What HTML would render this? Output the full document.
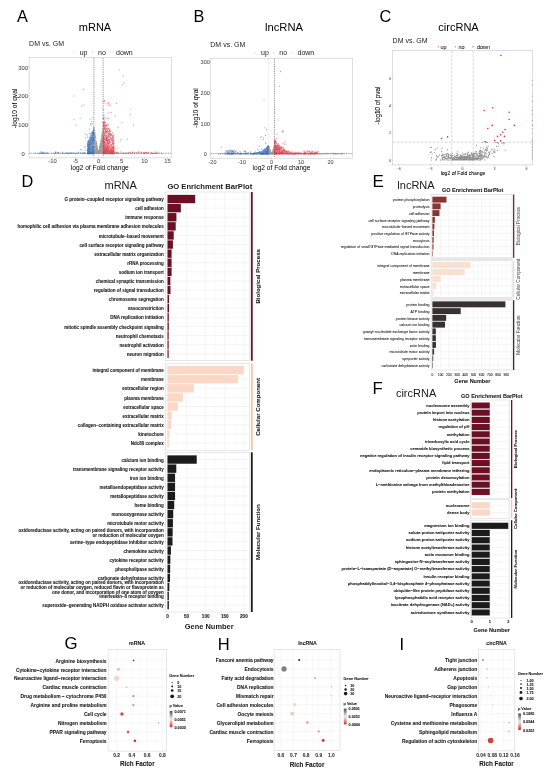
<!DOCTYPE html>
<html><head><meta charset="utf-8"><title>Figure</title><style>html,body{margin:0;padding:0;background:#fff;}svg{display:block;}</style></head><body>
<svg width="550" height="776" viewBox="0 0 550 776" font-family="&quot;Liberation Sans&quot;, Arial, sans-serif">
<rect x="0.00" y="0.00" width="550.00" height="776.00" fill="#fff"/>
<text x="16.90" y="22.07" font-size="16.30">A</text>
<text x="95.00" y="30.76" font-size="11.00" text-anchor="middle" fill="#000">mRNA</text>
<text x="29.10" y="46.02" font-size="7.00" text-anchor="start" fill="#222">DM vs. GM</text>
<circle cx="74.20" cy="52.00" r="0.50" fill="#bbb"/>
<text x="79.70" y="54.52" font-size="7.00" text-anchor="start" fill="#222">up</text>
<circle cx="92.50" cy="52.00" r="0.50" fill="#bbb"/>
<text x="98.00" y="54.52" font-size="7.00" text-anchor="start" fill="#222">no</text>
<circle cx="110.50" cy="52.00" r="0.50" fill="#bbb"/>
<text x="116.00" y="54.52" font-size="7.00" text-anchor="start" fill="#222">down</text>
<rect x="29.10" y="57.50" width="142.20" height="100.40" fill="#fff" stroke="#c8c8c8" stroke-width="0.6"/>
<line x1="93.90" y1="58.00" x2="93.90" y2="157.40" stroke="#6a6a6a" stroke-width="0.8" stroke-dasharray="0.9 0.9"/>
<line x1="103.10" y1="58.00" x2="103.10" y2="157.40" stroke="#6a6a6a" stroke-width="0.8" stroke-dasharray="0.9 0.9"/>
<line x1="29.60" y1="153.22" x2="170.80" y2="153.22" stroke="#6a6a6a" stroke-width="0.8" stroke-dasharray="0.9 0.9"/>
<path d="M99.7 147.0h0M93.6 131.1h0M96.1 147.1h0M99.7 146.4h0M93.9 139.5h0M98.5 153.6h0M97.2 153.6h0M98.6 153.1h0M98.6 153.2h0M96.7 152.0h0M99.5 149.6h0M97.5 153.0h0M102.2 138.9h0M99.2 153.0h0M102.3 139.0h0M93.9 129.6h0M93.8 143.4h0M97.8 151.4h0M97.1 149.2h0M93.6 132.9h0M93.7 136.4h0M95.5 147.1h0M96.9 151.0h0M98.7 152.5h0M97.6 148.8h0M96.0 141.7h0M96.8 149.7h0M101.9 151.3h0M96.6 142.6h0M94.1 142.9h0M102.6 134.0h0M93.8 153.0h0M93.9 137.5h0M102.9 139.6h0M99.2 153.4h0M96.9 150.6h0M102.1 136.5h0M99.2 150.8h0M101.7 138.2h0M95.1 153.1h0M97.3 151.8h0M94.9 139.2h0M95.7 149.4h0M99.3 152.2h0M94.8 151.8h0M99.7 152.3h0M94.5 136.2h0M94.2 140.2h0M101.0 140.4h0M100.7 140.6h0M99.9 152.1h0M97.3 150.6h0M99.0 151.5h0M94.9 137.3h0M102.7 150.5h0M99.2 151.6h0M101.2 152.5h0M100.7 147.7h0M96.0 147.7h0M94.8 149.7h0M96.2 146.3h0M97.5 148.7h0M103.3 127.8h0M98.5 153.5h0M95.9 146.3h0M100.6 143.1h0M101.0 151.1h0M95.1 143.1h0M96.3 143.2h0M97.7 150.1h0M99.0 151.2h0M98.2 152.8h0M99.1 151.5h0M99.0 153.4h0M95.5 145.5h0M98.2 152.3h0M99.1 152.2h0M98.5 153.5h0M98.0 151.4h0M99.1 151.3h0M96.4 150.0h0M97.2 149.2h0M102.3 142.4h0M98.4 153.5h0M101.2 146.3h0M100.6 144.2h0M94.2 135.9h0M96.1 146.8h0M96.4 149.8h0M100.6 151.2h0M102.7 137.1h0M96.1 147.3h0M94.9 150.6h0M95.4 150.5h0M96.2 142.8h0M101.6 150.6h0M100.1 147.8h0M94.7 146.4h0M99.6 149.2h0M96.9 148.6h0M102.0 137.9h0M96.6 148.4h0M102.0 145.2h0M101.5 141.4h0M100.5 152.0h0M99.0 151.1h0M96.6 146.6h0M99.8 147.6h0M93.8 127.2h0M98.2 152.0h0M95.7 149.1h0M100.9 140.6h0M94.8 133.9h0M102.1 134.8h0M94.3 146.9h0M96.7 153.2h0M103.0 138.0h0M99.4 149.4h0M95.2 141.3h0M97.5 152.0h0M94.6 134.6h0M102.0 134.8h0M102.7 151.8h0M97.9 153.1h0M101.6 147.9h0M98.1 151.9h0M94.1 147.9h0M96.3 153.2h0M101.0 147.5h0M96.0 151.6h0M100.6 147.6h0M102.5 151.1h0M102.7 138.4h0M100.9 144.1h0M101.3 138.6h0M102.9 143.8h0M98.2 152.8h0M101.0 145.1h0M96.3 149.6h0M95.4 151.6h0M93.9 142.5h0M99.4 152.8h0M96.1 150.7h0M103.0 152.5h0M96.8 153.6h0M96.8 152.9h0M100.6 153.5h0M94.5 145.9h0M99.8 152.8h0M94.4 134.1h0M96.1 145.3h0M93.7 129.2h0M101.3 145.9h0M96.0 140.5h0M97.9 152.9h0M96.7 150.6h0M103.4 137.7h0M103.0 128.2h0M99.7 148.2h0M100.5 151.3h0M97.8 150.8h0M97.3 150.1h0M103.1 140.2h0M96.4 144.5h0M101.6 143.7h0M99.7 152.9h0M101.5 150.4h0M99.7 149.8h0M94.8 136.0h0M94.9 149.5h0M100.1 150.8h0M100.7 149.6h0M100.2 152.6h0M103.1 153.2h0M99.4 151.9h0M94.9 142.0h0M98.6 153.5h0M103.4 133.9h0M99.9 147.7h0M96.4 141.9h0M103.0 152.8h0M94.0 139.0h0M101.7 135.7h0M103.1 150.4h0M96.4 142.4h0M95.0 142.9h0M94.1 138.1h0M102.2 140.7h0M100.6 151.1h0M102.8 153.3h0M98.6 153.1h0M102.3 140.1h0M99.4 148.7h0M100.5 147.8h0M94.8 135.3h0M94.4 134.4h0M94.8 134.1h0M97.6 150.1h0M98.4 153.1h0M96.1 145.8h0M94.4 136.1h0M96.1 153.6h0M100.5 142.6h0M97.1 152.8h0M99.1 151.8h0M97.1 151.0h0M102.4 139.8h0M98.5 153.6h0M94.0 147.2h0M102.9 149.1h0M100.8 148.7h0M101.2 150.7h0M100.4 149.2h0M98.4 153.5h0M101.8 136.7h0M99.0 152.2h0M100.1 145.8h0M96.2 146.5h0M101.6 141.4h0M99.3 150.8h0M100.9 148.3h0M102.4 152.3h0M96.7 148.5h0M97.3 148.9h0M93.7 139.9h0M102.4 145.3h0M94.7 145.5h0M100.6 141.1h0M97.8 152.5h0M101.7 134.8h0M99.9 151.7h0M97.5 153.5h0M100.1 147.2h0M95.4 151.9h0M155.9 153.1h0M130.3 153.2h0M77.6 153.4h0M143.8 153.2h0M46.0 153.4h0M99.7 153.1h0M73.7 153.4h0M51.9 153.0h0M47.8 153.5h0M161.7 153.2h0M155.7 153.4h0M35.6 153.2h0M93.0 153.2h0M64.3 153.5h0M144.0 153.2h0M88.4 153.2h0M117.3 153.2h0M131.4 153.0h0M153.2 153.3h0M78.0 153.5h0M161.7 153.6h0M85.8 153.2h0M94.2 153.2h0M58.7 153.5h0M36.9 153.5h0M104.0 153.5h0M148.4 153.4h0M97.1 153.1h0M132.9 153.1h0M157.3 153.1h0M82.1 153.6h0M75.7 153.2h0M115.1 153.3h0M54.8 153.5h0M91.9 153.4h0M98.2 153.5h0M131.0 153.1h0M124.2 153.5h0M118.7 153.2h0M38.7 153.5h0M78.4 153.2h0M128.7 153.2h0M90.0 153.3h0M134.7 153.3h0M159.9 153.4h0M154.6 153.5h0" stroke="#8a8a8a" stroke-width="1.20" stroke-linecap="round" fill="none" stroke-opacity="0.50"/>
<path d="M101.2 149.9h0M101.5 145.4h0M98.5 153.5h0M95.7 150.9h0M98.2 151.8h0M93.6 148.3h0M101.8 150.6h0M99.9 147.5h0M97.1 148.7h0M101.6 146.5h0M100.3 152.0h0M103.1 147.7h0M94.8 135.2h0M95.4 136.7h0M99.2 152.0h0M98.2 152.6h0M93.8 150.2h0M102.2 146.0h0M101.1 139.3h0M101.6 151.1h0M101.4 144.7h0M95.3 147.0h0M103.0 141.7h0M100.9 145.2h0M94.2 142.6h0M100.3 146.1h0M95.5 152.7h0M99.5 150.7h0M98.2 152.3h0M101.1 140.8h0M102.3 141.9h0M96.0 150.0h0M95.2 140.2h0M101.6 141.5h0M101.5 136.4h0M94.7 139.2h0M94.8 136.8h0M99.6 153.0h0M96.8 146.2h0M100.0 151.7h0M98.1 151.9h0M101.8 146.2h0M96.8 149.0h0M94.3 134.5h0M102.5 147.1h0M97.9 150.2h0M101.2 140.1h0M101.1 150.7h0M94.8 149.5h0M102.9 131.7h0M101.1 142.0h0M93.9 130.4h0M97.3 147.8h0M103.4 149.5h0M94.4 129.7h0M101.0 150.8h0M98.2 153.5h0M94.1 127.5h0M95.8 151.6h0M102.1 143.3h0M96.3 147.0h0M102.2 149.6h0M95.8 138.1h0M93.9 145.0h0M102.3 136.4h0M100.3 145.7h0M102.7 138.8h0M94.4 130.2h0M100.5 145.9h0M101.8 146.9h0M94.2 134.9h0M100.7 146.8h0M102.8 152.6h0M99.4 152.4h0M101.0 143.1h0M101.7 140.8h0M100.9 148.1h0M101.7 146.2h0M93.9 142.9h0M100.3 147.5h0M97.8 149.5h0M103.0 130.0h0M100.3 152.8h0M97.7 149.7h0M97.2 149.5h0M94.1 134.4h0M96.0 143.9h0M98.7 152.7h0M96.1 152.6h0M94.9 146.7h0M99.7 148.1h0M98.4 153.5h0M95.3 148.1h0M98.2 153.6h0M95.4 142.0h0M102.7 131.2h0M101.2 150.2h0M93.9 130.8h0M100.3 147.6h0M93.7 133.7h0M96.9 152.9h0M102.8 146.5h0M93.6 132.0h0M95.6 149.0h0M101.6 151.4h0M94.4 146.8h0M98.1 151.3h0M97.3 148.4h0M100.6 151.0h0M98.0 152.7h0M95.3 152.4h0M96.2 145.9h0M98.2 152.4h0M93.6 139.3h0M101.6 144.9h0M97.4 152.6h0M100.0 150.8h0M99.0 153.0h0M101.6 151.1h0M97.2 149.5h0M102.7 151.1h0M94.0 144.6h0M95.2 144.1h0M97.0 145.1h0M101.3 153.4h0M98.6 153.5h0M94.8 143.4h0M96.8 146.0h0M102.3 132.5h0M97.9 151.4h0M94.8 132.4h0M94.5 145.6h0M94.2 139.0h0M103.4 149.3h0M103.4 146.3h0M102.9 143.0h0M97.4 150.7h0M100.2 145.4h0M101.1 147.8h0M100.5 144.8h0M99.3 152.4h0M100.6 152.6h0M103.4 145.7h0M98.7 152.8h0M93.9 138.5h0M93.8 128.2h0M96.0 139.1h0M93.8 147.6h0M95.1 135.2h0M100.3 147.9h0M103.0 131.7h0M94.2 150.3h0M95.3 152.9h0M97.5 151.8h0M100.6 147.3h0M102.9 140.5h0M94.1 140.1h0M94.8 150.2h0M99.3 152.7h0M98.2 151.9h0M94.1 147.0h0M96.5 145.7h0M98.2 151.8h0M96.9 147.7h0M97.3 151.1h0M100.2 143.9h0M103.2 148.0h0M95.5 144.4h0M102.7 150.0h0M99.3 151.5h0M97.5 150.8h0M102.4 144.4h0M94.9 132.3h0M95.1 149.3h0M94.6 134.8h0M99.8 150.3h0M99.1 150.7h0M97.7 151.7h0M98.7 152.8h0M96.7 146.0h0M103.4 137.0h0M95.4 146.7h0M96.8 147.8h0M102.2 139.3h0M94.4 150.7h0M96.5 147.0h0M103.3 141.0h0M102.4 135.5h0M96.2 149.1h0M95.5 147.0h0M100.0 150.9h0M94.1 142.0h0M96.9 149.7h0M101.6 144.6h0M96.5 143.4h0M94.2 128.8h0M98.3 153.5h0M102.6 133.9h0M94.4 141.1h0M96.7 143.7h0M96.4 142.6h0M97.4 147.2h0M103.1 134.0h0M100.8 151.8h0M103.0 146.1h0M94.8 133.3h0M100.2 146.1h0M98.5 153.4h0M102.4 150.7h0M97.6 150.7h0M94.3 135.8h0M98.1 152.4h0M100.6 147.7h0M95.9 151.3h0M96.9 147.9h0M100.0 145.1h0M99.8 146.6h0M100.3 151.4h0M96.7 146.6h0M98.0 152.9h0M94.4 140.4h0M101.2 149.4h0M98.8 152.3h0M97.0 148.0h0M95.7 147.2h0M94.6 139.1h0M98.4 153.6h0M97.1 147.2h0M101.7 139.4h0M99.6 147.8h0M97.2 148.8h0M100.5 148.4h0M98.1 153.2h0M93.7 153.5h0M117.5 153.5h0M141.0 153.4h0M54.1 153.3h0M121.7 153.0h0M156.5 153.6h0M90.9 153.4h0M161.4 153.4h0M144.0 153.2h0M79.1 153.4h0M52.9 153.3h0M58.5 153.5h0M67.2 153.1h0M161.6 153.1h0M59.2 153.5h0M74.8 153.4h0M43.9 153.4h0M47.7 153.5h0M122.1 153.6h0M79.0 153.4h0M34.5 153.5h0M81.2 153.1h0M122.7 153.3h0M103.0 153.6h0M87.5 153.4h0M138.1 153.3h0M144.7 153.1h0M118.7 153.1h0M93.5 153.4h0M52.3 153.5h0M158.7 153.2h0M141.4 153.4h0M34.8 153.5h0M62.8 153.1h0M83.0 153.4h0M83.6 153.4h0M136.5 153.3h0M138.6 153.2h0M67.3 153.5h0M134.0 153.5h0M68.6 153.3h0M102.5 153.2h0M42.9 153.1h0M100.8 153.5h0M39.1 153.3h0M103.3 153.4h0M87.9 153.4h0" stroke="#8a8a8a" stroke-width="1.20" stroke-linecap="round" fill="none" stroke-opacity="0.50"/>
<path d="M96.5 143.3h0M96.5 150.4h0M103.4 131.9h0M99.6 153.3h0M99.8 149.7h0M100.4 151.3h0M96.2 141.5h0M94.4 140.5h0M94.1 143.5h0M103.3 137.4h0M97.9 152.8h0M100.2 150.5h0M102.9 129.8h0M99.0 153.0h0M97.6 152.3h0M96.7 145.7h0M103.1 135.6h0M99.4 149.9h0M95.0 134.3h0M97.7 149.7h0M100.7 150.6h0M103.0 138.4h0M103.3 139.5h0M97.8 149.8h0M98.7 152.5h0M99.8 146.1h0M95.6 138.0h0M99.4 149.9h0M99.8 152.1h0M100.8 152.1h0M102.6 152.5h0M95.4 143.1h0M93.7 145.1h0M99.6 152.3h0M102.0 152.5h0M101.5 148.1h0M102.3 149.1h0M100.1 147.6h0M102.1 134.2h0M99.1 150.0h0M94.5 144.6h0M97.2 149.5h0M94.3 134.9h0M94.8 150.7h0M96.6 144.0h0M97.3 148.4h0M100.2 149.8h0M96.2 146.2h0M101.5 142.2h0M101.3 147.1h0M100.7 147.8h0M98.9 152.6h0M102.7 144.0h0M100.6 143.2h0M94.7 149.6h0M102.6 148.3h0M96.7 150.2h0M102.4 132.5h0M93.9 139.8h0M95.4 141.0h0M99.8 149.5h0M94.9 151.2h0M95.6 144.8h0M99.5 153.2h0M101.8 138.8h0M96.5 151.6h0M96.8 144.1h0M99.2 150.0h0M103.0 142.0h0M100.2 151.5h0M93.7 127.3h0M100.8 152.4h0M98.0 151.8h0M95.5 137.8h0M99.0 151.0h0M99.9 150.2h0M98.2 152.1h0M101.9 137.6h0M102.1 141.2h0M97.7 152.7h0M97.0 149.7h0M97.3 151.7h0M102.1 146.8h0M101.8 144.4h0M95.5 148.0h0M101.7 145.2h0M97.3 148.9h0M95.6 136.7h0M97.7 150.1h0M101.2 145.8h0M101.0 148.5h0M97.9 151.4h0M103.1 152.9h0M98.1 153.2h0M97.6 151.3h0M100.2 153.1h0M103.0 129.8h0M102.6 129.3h0M103.0 137.3h0M100.4 148.8h0M94.8 149.6h0M102.5 137.5h0M96.0 151.5h0M102.9 146.6h0M98.7 153.6h0M101.1 144.1h0M96.4 144.3h0M100.5 149.0h0M100.8 149.8h0M96.6 152.7h0M98.2 153.2h0M98.6 153.6h0M94.2 138.3h0M97.2 147.7h0M98.0 150.9h0M94.3 139.5h0M99.2 150.4h0M99.3 151.2h0M98.9 151.6h0M100.4 147.4h0M96.0 151.0h0M95.4 145.0h0M98.7 152.5h0M101.0 151.9h0M102.2 150.0h0M94.9 147.5h0M97.1 148.6h0M96.1 147.7h0M96.6 145.3h0M102.8 149.8h0M100.4 152.1h0M102.9 152.7h0M98.1 152.2h0M101.6 146.0h0M98.0 151.0h0M97.3 148.0h0M94.9 152.3h0M95.8 149.9h0M96.7 146.9h0M96.5 145.9h0M97.0 148.1h0M103.2 148.0h0M99.5 147.4h0M100.5 149.6h0M94.3 148.5h0M97.9 152.8h0M102.5 138.6h0M93.8 150.1h0M96.9 150.4h0M99.7 152.9h0M99.9 149.3h0M100.4 144.3h0M102.0 133.2h0M98.6 153.6h0M102.2 134.0h0M94.5 152.5h0M98.5 153.5h0M97.6 149.0h0M101.7 153.3h0M98.9 153.5h0M93.7 138.8h0M95.3 136.0h0M96.4 143.6h0M102.7 152.2h0M94.2 147.0h0M103.3 129.2h0M102.2 134.4h0M96.4 152.0h0M93.7 146.4h0M97.8 152.7h0M102.5 147.7h0M98.6 153.3h0M93.8 145.3h0M94.4 142.0h0M101.5 143.5h0M102.1 145.2h0M100.8 150.1h0M101.3 150.7h0M98.2 152.7h0M97.6 148.6h0M94.3 141.1h0M96.6 146.6h0M93.6 143.4h0M96.5 144.1h0M101.0 146.9h0M100.9 141.2h0M101.2 152.0h0M102.2 152.3h0M99.4 150.2h0M101.7 143.2h0M94.4 142.3h0M97.4 149.6h0M99.6 147.6h0M103.1 145.9h0M99.6 150.3h0M102.2 146.8h0M98.5 153.6h0M95.1 144.0h0M102.6 143.8h0M94.4 148.5h0M102.4 131.8h0M101.1 152.7h0M102.1 135.5h0M97.3 146.8h0M103.5 128.6h0M95.4 153.4h0M94.0 151.1h0M100.1 147.8h0M98.8 153.5h0M100.7 141.5h0M103.2 153.1h0M99.6 146.9h0M97.6 151.7h0M97.9 152.6h0M102.5 145.0h0M94.9 132.9h0M96.8 146.3h0M94.1 133.0h0M94.4 137.3h0M100.7 147.4h0M99.7 146.9h0M100.5 149.2h0M99.9 148.1h0M98.1 152.3h0M94.3 137.0h0M94.8 133.9h0M96.7 150.6h0M94.9 141.2h0M94.9 147.3h0M103.3 133.3h0M102.7 146.0h0M101.5 149.5h0M97.5 149.3h0M137.2 153.1h0M140.1 153.2h0M120.7 153.3h0M81.6 153.4h0M62.2 153.3h0M131.7 153.1h0M99.2 153.5h0M63.6 153.1h0M89.2 153.5h0M153.1 153.3h0M54.6 153.6h0M118.1 153.3h0M97.0 153.3h0M43.0 153.3h0M157.7 153.2h0M90.9 153.4h0M95.8 153.2h0M73.9 153.4h0M72.4 153.1h0M115.7 153.1h0M143.7 153.2h0M119.3 153.6h0M58.3 153.0h0M64.6 153.6h0M80.8 153.1h0M90.6 153.4h0M75.6 153.6h0M136.9 153.1h0M96.0 153.4h0M83.5 153.3h0M121.3 153.4h0M44.3 153.4h0M149.6 153.1h0M132.1 153.3h0M42.0 153.4h0M82.6 153.2h0M93.1 153.2h0M127.0 153.5h0M85.2 153.6h0M116.7 153.1h0M56.3 153.3h0M65.8 153.2h0M108.4 153.4h0M68.2 153.4h0M60.0 153.6h0M41.0 153.1h0M55.6 153.2h0" stroke="#8a8a8a" stroke-width="1.20" stroke-linecap="round" fill="none" stroke-opacity="0.50"/>
<path d="M89.0 144.8h0M89.6 151.0h0M92.4 131.9h0M93.1 136.6h0M92.9 140.8h0M91.0 148.9h0M91.3 150.0h0M89.0 153.4h0M91.8 148.0h0M91.3 149.9h0M89.9 147.5h0M93.4 134.0h0M88.1 144.6h0M87.7 153.6h0M93.5 133.5h0M92.1 137.9h0M87.8 152.0h0M90.5 151.7h0M92.0 132.7h0M92.3 138.5h0M90.4 147.8h0M92.3 152.8h0M91.1 151.9h0M87.8 152.4h0M88.6 140.3h0M92.8 153.4h0M87.8 152.7h0M92.1 148.6h0M91.2 137.7h0M90.8 146.4h0M93.7 131.2h0M89.5 142.5h0M88.1 152.5h0M92.1 153.6h0M91.5 146.7h0M90.3 150.2h0M89.7 153.4h0M88.8 147.7h0M88.0 148.2h0M88.1 144.7h0M91.2 142.2h0M92.3 148.0h0M92.3 146.5h0M89.3 147.1h0M88.0 153.3h0M91.0 153.1h0M88.9 141.4h0M93.0 147.4h0M91.2 143.8h0M88.2 150.8h0M90.3 148.7h0M92.7 152.8h0M90.5 144.4h0M93.3 153.5h0M90.6 148.3h0M92.9 139.1h0M91.8 135.6h0M89.8 153.1h0M91.1 152.1h0M92.2 147.6h0M93.7 135.8h0M93.0 150.9h0M93.8 153.4h0M92.8 149.0h0M89.1 149.6h0M89.6 153.3h0M90.0 144.0h0M90.5 137.9h0M89.4 142.7h0M93.4 147.6h0M89.3 146.0h0M91.0 135.4h0M88.5 145.8h0M89.4 151.7h0M93.7 153.3h0M91.4 153.3h0M91.8 153.0h0M89.6 151.8h0M91.1 136.8h0M91.8 133.3h0M89.4 153.3h0M90.5 142.8h0M89.2 149.7h0M89.1 141.2h0M88.0 153.2h0M90.8 148.5h0M89.1 152.3h0M92.6 153.3h0M90.3 153.5h0M93.0 139.5h0M88.3 151.4h0M92.7 146.4h0M92.3 153.5h0M89.0 151.0h0M89.4 149.6h0M92.4 133.7h0M93.4 146.3h0M91.8 152.7h0M89.7 145.2h0M89.3 145.5h0M92.5 153.6h0M88.8 153.4h0M92.7 132.4h0M87.8 152.4h0M91.5 145.0h0M92.8 147.5h0M90.0 144.9h0M93.0 153.6h0M89.2 149.0h0M88.7 149.4h0M93.6 153.6h0M88.6 148.0h0M93.7 151.6h0M93.7 152.6h0M89.2 150.3h0M93.5 140.9h0M93.8 151.1h0M92.9 150.4h0M87.9 141.3h0M91.3 151.9h0M93.1 152.1h0M90.4 137.3h0M88.4 145.1h0M88.4 142.2h0M90.6 152.6h0M93.4 138.4h0M91.6 146.7h0M88.6 149.1h0M88.9 143.9h0M88.5 151.1h0M90.8 152.9h0M89.7 153.6h0M89.0 151.7h0M88.8 146.9h0M87.9 148.3h0M91.9 148.1h0M91.7 151.7h0M90.2 152.3h0M93.8 130.3h0M88.1 152.7h0M92.5 141.9h0M89.2 153.6h0M88.0 153.5h0M89.6 152.5h0M93.8 152.5h0M90.9 146.8h0M91.3 153.1h0M88.8 152.9h0M90.1 151.7h0M87.4 149.9h0M91.3 147.0h0M88.4 145.3h0M92.5 143.6h0M93.4 153.5h0M90.1 142.0h0M87.8 150.8h0M91.6 148.0h0M92.6 152.2h0M93.7 152.9h0M90.0 153.6h0M91.1 152.5h0M91.4 147.3h0M93.7 139.7h0M90.9 137.8h0M92.2 153.2h0M91.6 151.9h0M88.2 140.8h0M90.4 139.6h0M93.3 146.7h0M92.2 142.4h0M89.5 145.1h0M92.8 140.6h0M88.6 147.2h0M91.4 138.3h0M90.7 144.0h0M93.6 137.8h0M88.0 151.3h0M92.8 148.9h0M93.6 153.6h0M92.9 152.0h0M92.7 152.4h0M91.2 137.2h0M91.1 144.3h0M88.3 151.3h0M89.2 146.6h0M93.6 152.1h0M90.2 150.4h0M87.9 153.6h0M90.9 146.5h0M92.4 140.6h0M91.9 123.6h0M89.4 137.2h0M92.1 117.9h0M90.2 133.4h0M74.1 119.6h0M80.5 149.4h0M92.8 145.6h0M90.8 140.4h0M91.0 137.6h0M92.8 150.0h0M89.9 134.1h0M91.7 121.6h0M62.0 152.2h0M56.0 151.9h0M43.1 152.4h0M45.3 153.3h0M48.1 153.2h0M65.8 153.0h0M41.7 153.4h0M40.6 152.1h0M39.0 153.6h0M40.7 151.9h0M70.3 152.7h0M47.9 153.4h0M71.6 153.2h0M39.1 153.2h0M47.1 152.8h0M83.3 89.5h0" stroke="#2f68b4" stroke-width="1.30" stroke-linecap="round" fill="none" stroke-opacity="0.50"/>
<path d="M89.8 153.6h0M91.3 139.3h0M92.7 153.5h0M92.9 141.7h0M88.6 152.6h0M89.0 150.2h0M93.1 151.3h0M92.8 146.8h0M89.8 138.0h0M92.7 132.9h0M92.4 134.0h0M93.4 149.5h0M92.7 153.6h0M92.1 152.6h0M89.7 151.1h0M87.9 148.6h0M93.5 134.9h0M88.0 152.0h0M92.8 148.4h0M93.4 132.4h0M89.7 151.9h0M88.1 143.4h0M92.0 133.7h0M88.8 153.4h0M89.5 138.4h0M91.4 142.9h0M92.3 138.1h0M88.6 151.6h0M91.8 141.6h0M90.8 153.3h0M90.8 153.2h0M90.7 153.5h0M89.0 142.2h0M92.7 150.8h0M92.4 150.4h0M90.6 138.7h0M87.7 150.4h0M88.0 153.5h0M90.3 150.7h0M89.3 140.3h0M92.3 148.4h0M88.5 152.5h0M89.9 140.4h0M91.8 140.8h0M93.1 139.5h0M89.2 145.0h0M88.4 150.0h0M92.7 152.9h0M90.0 137.5h0M88.9 152.3h0M89.0 152.0h0M92.5 133.4h0M89.1 151.2h0M92.7 147.7h0M89.7 146.9h0M90.1 142.5h0M90.4 148.0h0M90.3 151.1h0M89.1 153.3h0M92.8 152.4h0M87.4 149.8h0M88.5 153.6h0M89.4 146.3h0M93.3 143.1h0M89.9 144.3h0M92.5 148.7h0M91.9 150.1h0M93.7 132.8h0M90.0 152.0h0M93.7 135.4h0M93.3 146.5h0M90.1 149.0h0M88.6 148.7h0M91.0 149.0h0M93.0 136.1h0M91.2 138.8h0M90.1 149.2h0M90.5 152.2h0M89.5 144.8h0M88.2 147.7h0M87.5 146.1h0M93.2 131.6h0M91.9 153.4h0M91.9 135.0h0M88.4 146.7h0M91.9 137.6h0M93.0 152.5h0M92.1 140.3h0M92.3 135.4h0M91.3 152.9h0M93.6 133.4h0M89.6 149.6h0M92.6 133.1h0M90.4 152.6h0M87.6 144.7h0M90.0 139.9h0M93.4 152.6h0M88.5 153.5h0M87.4 153.6h0M93.5 153.4h0M90.8 153.4h0M91.0 153.4h0M89.7 151.5h0M87.5 153.5h0M93.6 152.2h0M92.1 152.2h0M88.7 152.5h0M88.0 148.4h0M93.0 130.9h0M92.3 143.9h0M89.5 151.5h0M88.5 147.4h0M91.7 152.1h0M89.2 152.7h0M93.2 151.6h0M91.8 142.4h0M88.4 142.7h0M88.1 141.0h0M92.3 143.8h0M93.8 138.5h0M90.3 138.0h0M88.4 142.6h0M88.5 151.3h0M91.9 137.3h0M92.5 151.8h0M93.0 148.6h0M90.7 138.8h0M89.8 153.1h0M92.8 137.4h0M88.0 143.7h0M89.2 141.4h0M88.0 150.5h0M90.9 152.8h0M89.5 152.5h0M88.0 147.1h0M92.7 149.0h0M90.1 142.1h0M91.8 138.5h0M88.4 148.3h0M91.4 144.3h0M88.8 150.8h0M93.3 140.9h0M88.2 143.4h0M89.8 145.3h0M88.6 152.9h0M88.3 143.8h0M87.7 152.9h0M91.5 152.5h0M93.0 136.1h0M93.0 144.4h0M88.0 145.2h0M90.7 138.6h0M91.8 149.5h0M89.8 151.7h0M89.2 139.8h0M87.8 153.1h0M87.9 152.9h0M90.9 149.2h0M90.3 142.6h0M92.6 131.1h0M93.8 152.2h0M91.2 153.6h0M91.2 143.5h0M92.1 153.4h0M90.3 140.8h0M93.8 130.1h0M88.8 152.5h0M87.6 143.7h0M93.5 153.2h0M93.5 153.2h0M89.9 148.2h0M92.9 146.6h0M91.4 151.9h0M89.7 138.0h0M88.6 153.5h0M89.5 139.6h0M88.6 150.9h0M93.1 137.1h0M87.9 153.5h0M89.7 153.6h0M89.9 146.6h0M90.7 140.3h0M91.1 143.1h0M88.6 141.4h0M92.3 136.9h0M90.3 141.7h0M91.4 139.9h0M92.6 139.2h0M85.3 150.1h0M89.4 133.2h0M92.6 135.8h0M93.1 141.6h0M91.4 142.1h0M85.6 137.7h0M76.2 125.0h0M87.9 153.4h0M91.0 124.9h0M92.0 151.2h0M81.8 150.1h0M90.5 123.9h0M67.6 153.4h0M89.5 129.1h0M77.2 153.1h0M70.0 153.3h0M69.6 153.3h0M41.1 153.6h0M83.7 152.4h0M66.4 153.2h0M74.1 153.1h0M68.7 153.1h0M62.6 153.4h0M69.9 153.6h0M84.3 153.6h0M55.5 152.2h0M76.2 153.6h0M44.3 153.1h0M68.8 153.4h0M81.9 106.0h0" stroke="#2f68b4" stroke-width="1.30" stroke-linecap="round" fill="none" stroke-opacity="0.50"/>
<path d="M92.7 147.1h0M93.7 151.5h0M91.6 144.6h0M93.1 135.0h0M93.4 144.8h0M91.0 148.7h0M92.5 152.0h0M92.2 152.2h0M88.5 150.9h0M93.5 152.4h0M91.6 146.0h0M88.2 141.8h0M91.3 153.5h0M93.8 146.9h0M88.6 144.6h0M92.0 136.2h0M89.9 152.6h0M92.9 153.5h0M87.6 153.6h0M88.6 153.3h0M91.8 152.2h0M91.9 143.1h0M92.0 146.0h0M89.4 143.2h0M92.4 147.2h0M89.0 153.6h0M88.2 146.3h0M88.8 144.6h0M90.0 151.5h0M87.4 142.9h0M88.7 150.7h0M88.7 146.5h0M91.9 149.7h0M93.4 139.0h0M89.2 150.0h0M92.5 147.2h0M92.6 140.2h0M90.8 143.0h0M90.5 147.7h0M93.6 138.6h0M88.7 153.6h0M88.7 152.6h0M88.3 152.6h0M88.2 150.4h0M92.3 145.7h0M93.2 151.8h0M91.9 149.1h0M91.8 153.5h0M88.2 148.1h0M90.8 135.6h0M88.7 153.6h0M93.7 151.1h0M92.8 136.7h0M87.8 146.9h0M92.1 153.4h0M93.7 133.2h0M88.7 147.8h0M93.5 153.1h0M93.8 128.6h0M91.6 140.5h0M91.9 152.3h0M89.0 146.8h0M92.2 137.2h0M93.5 152.7h0M90.3 152.8h0M93.3 153.3h0M92.8 146.9h0M87.4 152.1h0M90.2 140.1h0M89.0 153.6h0M89.7 151.6h0M93.6 153.2h0M90.5 148.2h0M89.9 152.7h0M89.5 144.4h0M90.9 145.7h0M92.0 152.0h0M89.2 151.2h0M92.0 138.2h0M88.6 149.2h0M93.2 152.0h0M92.0 132.5h0M93.5 143.5h0M92.3 134.1h0M89.6 142.1h0M88.1 153.2h0M90.5 152.0h0M93.7 147.3h0M87.4 145.3h0M91.1 136.9h0M87.5 150.4h0M92.0 152.1h0M93.8 139.9h0M89.8 145.0h0M90.5 144.9h0M92.4 132.3h0M89.1 153.5h0M92.1 137.6h0M89.9 144.1h0M89.1 147.7h0M89.3 151.6h0M89.0 148.7h0M88.5 151.4h0M89.4 152.1h0M93.4 139.9h0M87.9 150.2h0M93.5 147.8h0M91.6 153.1h0M87.7 143.2h0M93.1 144.1h0M89.6 143.5h0M87.9 143.5h0M93.0 135.5h0M92.5 132.5h0M87.5 146.2h0M92.3 153.1h0M89.7 144.2h0M91.4 141.3h0M91.7 148.8h0M89.6 142.0h0M91.2 152.7h0M91.6 152.0h0M92.4 152.1h0M91.8 149.1h0M92.5 147.2h0M90.0 153.2h0M89.0 153.3h0M91.2 143.7h0M90.5 145.2h0M88.8 151.3h0M93.1 140.1h0M92.5 153.6h0M90.3 150.6h0M93.6 134.2h0M90.3 150.2h0M91.0 153.6h0M90.2 145.6h0M87.8 153.1h0M88.8 148.3h0M92.8 141.5h0M87.4 148.8h0M87.8 148.6h0M90.1 150.1h0M90.7 152.2h0M93.5 151.9h0M87.6 144.3h0M90.2 152.2h0M88.4 148.2h0M89.1 145.2h0M92.4 147.4h0M91.6 139.7h0M91.1 153.3h0M91.6 152.7h0M91.3 136.2h0M93.6 149.6h0M93.6 133.6h0M87.6 151.6h0M88.2 153.6h0M91.1 145.9h0M92.1 134.2h0M92.2 149.1h0M92.5 132.8h0M92.1 150.3h0M93.7 134.0h0M90.3 153.1h0M91.3 153.2h0M92.9 146.7h0M92.0 145.9h0M93.3 151.1h0M89.9 145.7h0M89.3 153.5h0M92.5 149.1h0M88.8 147.1h0M89.9 140.0h0M91.2 146.1h0M91.8 148.6h0M92.1 151.7h0M87.6 153.5h0M89.8 151.9h0M88.4 149.0h0M92.2 150.9h0M90.0 147.9h0M93.0 150.9h0M90.5 153.4h0M91.1 153.5h0M93.4 153.6h0M80.2 118.3h0M84.7 153.2h0M88.6 150.8h0M90.0 119.2h0M84.9 146.5h0M92.8 151.0h0M92.8 147.0h0M87.2 135.0h0M91.3 144.6h0M92.9 146.4h0M85.2 147.0h0M89.2 151.5h0M87.4 137.1h0M92.1 148.0h0M85.6 134.1h0M42.1 153.2h0M41.1 153.3h0M55.5 152.6h0M71.4 153.3h0M58.9 152.4h0M80.2 152.8h0M55.3 153.5h0M46.2 152.5h0M57.7 152.4h0M57.2 153.1h0M72.7 153.1h0M84.5 153.2h0M62.8 153.6h0M78.5 152.2h0M42.8 152.2h0M74.1 95.9h0M84.2 105.1h0" stroke="#2f68b4" stroke-width="1.30" stroke-linecap="round" fill="none" stroke-opacity="0.50"/>
<path d="M104.7 125.8h0M106.2 153.2h0M105.6 153.6h0M104.6 131.4h0M113.1 150.7h0M103.5 141.0h0M109.3 140.5h0M113.6 150.4h0M106.8 139.1h0M107.1 146.5h0M105.9 131.9h0M108.0 141.2h0M106.9 153.6h0M105.3 122.0h0M103.8 135.9h0M111.4 152.2h0M112.0 153.1h0M106.8 125.5h0M110.8 138.3h0M105.6 153.6h0M103.7 125.8h0M110.6 148.8h0M105.2 151.1h0M108.1 153.5h0M111.4 148.2h0M107.8 152.8h0M103.3 147.7h0M103.6 126.6h0M106.8 140.3h0M106.4 136.9h0M104.9 127.8h0M114.2 142.7h0M111.8 152.6h0M107.7 142.6h0M104.4 124.1h0M111.4 144.7h0M111.5 148.6h0M104.9 151.9h0M111.5 149.6h0M113.7 140.5h0M108.5 148.9h0M108.3 145.2h0M104.9 138.6h0M109.8 143.2h0M107.8 144.1h0M112.0 149.0h0M107.0 150.5h0M104.4 121.9h0M107.3 134.8h0M103.2 145.2h0M112.9 138.1h0M106.6 138.2h0M105.0 144.1h0M111.6 145.9h0M105.7 147.3h0M106.5 152.6h0M106.8 153.3h0M106.1 152.8h0M110.5 140.1h0M109.4 151.0h0M103.8 149.3h0M113.0 147.1h0M104.4 132.3h0M109.9 133.8h0M103.7 135.8h0M110.5 146.2h0M111.4 140.3h0M106.3 137.3h0M107.3 135.9h0M103.7 153.6h0M112.2 152.1h0M113.6 137.5h0M104.6 153.1h0M109.4 146.5h0M112.5 137.0h0M106.8 146.6h0M107.8 137.3h0M110.4 152.9h0M109.2 153.6h0M113.0 153.3h0M107.5 130.9h0M108.3 143.7h0M105.0 133.9h0M105.4 150.7h0M108.1 145.7h0M114.0 153.5h0M112.4 152.5h0M106.7 137.2h0M109.6 152.2h0M113.0 153.1h0M112.3 151.8h0M104.2 148.0h0M103.2 122.0h0M106.6 145.1h0M105.8 146.1h0M106.8 151.6h0M111.9 152.6h0M111.3 151.5h0M112.6 147.0h0M110.0 142.1h0M113.3 136.0h0M106.4 152.4h0M105.6 150.7h0M106.4 150.8h0M104.5 146.4h0M114.1 153.1h0M106.4 151.4h0M111.5 138.5h0M108.6 137.4h0M110.1 137.3h0M111.8 153.5h0M103.6 132.1h0M104.0 151.3h0M108.6 153.6h0M109.1 150.6h0M106.7 149.2h0M110.3 138.3h0M111.5 149.9h0M112.5 153.3h0M114.1 152.7h0M106.9 133.3h0M113.5 151.5h0M103.7 153.4h0M105.6 147.0h0M103.4 118.2h0M103.7 124.5h0M106.1 150.2h0M107.4 149.8h0M107.4 152.6h0M111.1 135.6h0M105.1 151.5h0M113.5 153.1h0M107.7 140.1h0M112.6 144.0h0M110.1 134.2h0M104.5 142.5h0M106.6 136.2h0M106.1 152.2h0M107.4 153.2h0M105.1 152.8h0M106.9 140.4h0M107.5 150.3h0M111.3 138.2h0M104.9 139.0h0M104.6 149.1h0M108.1 129.6h0M103.9 138.5h0M104.4 151.1h0M111.8 148.5h0M103.3 146.1h0M104.1 128.5h0M108.8 150.8h0M103.6 152.2h0M108.7 136.6h0M114.0 148.3h0M111.3 134.7h0M104.0 142.8h0M108.3 150.3h0M105.2 149.5h0M104.5 128.4h0M104.9 153.2h0M105.6 150.4h0M106.4 149.9h0M110.5 135.1h0M104.5 151.0h0M108.0 152.4h0M103.8 148.7h0M105.3 151.6h0M112.7 136.5h0M108.0 152.5h0M108.1 144.3h0M110.0 148.0h0M106.4 131.5h0M103.8 151.9h0M109.0 139.2h0M104.6 153.0h0M103.4 126.2h0M113.1 147.4h0M104.5 152.9h0M108.7 147.1h0M107.7 151.2h0M103.3 142.9h0M104.9 150.7h0M103.4 136.2h0M104.0 150.4h0M110.6 153.3h0M105.4 129.1h0M107.7 151.9h0M104.0 135.5h0M111.4 153.3h0M104.3 144.2h0M108.2 136.8h0M108.1 143.0h0M109.7 151.8h0M109.9 142.3h0M113.1 153.6h0M107.4 149.7h0M103.4 141.7h0M112.7 141.2h0M104.6 153.2h0M103.4 147.3h0M104.3 145.7h0M103.5 153.6h0M112.0 152.8h0M106.1 146.7h0M110.6 152.5h0M113.5 153.6h0M105.4 130.1h0M109.2 133.3h0M107.6 130.5h0M107.0 153.5h0M112.7 153.5h0M107.4 148.2h0M105.3 153.5h0M107.6 151.5h0M106.1 137.0h0M103.9 148.3h0M111.6 151.6h0M110.1 153.6h0M104.3 144.2h0M104.1 145.4h0M105.9 146.2h0M104.0 127.6h0M113.0 152.6h0M112.0 150.5h0M110.7 148.6h0M103.6 150.0h0M108.4 153.4h0M106.2 153.4h0M112.8 135.4h0M104.4 153.5h0M112.2 140.3h0M111.9 153.5h0M109.6 151.0h0M104.9 147.5h0M104.0 150.3h0M105.8 118.2h0M114.0 134.8h0M105.8 148.4h0M109.9 104.0h0M103.7 152.8h0M114.9 115.9h0M105.1 147.0h0M113.8 145.9h0M113.0 143.1h0M108.4 102.6h0M106.6 150.5h0M110.9 153.3h0M108.0 146.9h0M106.1 139.2h0M103.6 101.7h0M104.6 153.6h0M112.5 132.6h0M107.0 147.1h0M117.1 148.1h0M104.7 101.0h0M108.4 148.8h0M108.7 134.9h0M106.1 150.8h0M108.0 105.1h0M117.0 152.8h0M128.5 153.0h0M155.0 153.4h0M147.4 153.4h0M139.0 152.0h0M144.8 153.1h0M148.2 152.3h0M152.5 153.3h0M152.0 153.4h0M156.7 152.3h0M151.3 152.5h0M123.4 152.9h0M151.7 153.5h0M123.2 152.6h0M148.5 152.3h0M148.1 152.5h0M125.0 153.6h0M122.9 76.2h0" stroke="#d7303f" stroke-width="1.30" stroke-linecap="round" fill="none" stroke-opacity="0.50"/>
<path d="M103.4 151.3h0M108.5 139.8h0M108.1 142.9h0M110.4 135.0h0M109.9 131.9h0M104.9 148.7h0M104.3 150.5h0M106.4 145.6h0M105.3 152.7h0M111.2 153.3h0M110.4 153.6h0M114.1 146.2h0M105.2 142.2h0M106.5 152.0h0M110.0 131.3h0M107.4 142.4h0M107.6 148.2h0M106.0 137.3h0M107.5 152.2h0M104.4 124.3h0M106.4 139.1h0M108.2 151.1h0M112.5 151.1h0M106.0 142.1h0M113.0 153.6h0M108.5 139.5h0M103.2 153.3h0M106.2 129.8h0M105.0 151.4h0M105.8 149.4h0M105.3 150.1h0M112.1 152.6h0M104.6 151.6h0M103.4 152.3h0M106.3 153.0h0M106.3 148.7h0M112.3 145.3h0M113.0 141.9h0M111.0 153.0h0M104.3 133.5h0M109.1 133.7h0M103.2 153.0h0M113.7 150.0h0M103.2 126.4h0M110.9 151.7h0M103.5 153.6h0M104.4 146.0h0M112.3 150.7h0M111.9 152.8h0M105.5 147.9h0M106.0 151.0h0M103.2 132.2h0M105.5 132.1h0M104.0 147.7h0M113.9 150.6h0M112.6 147.8h0M107.5 138.6h0M112.0 153.4h0M104.0 133.9h0M104.3 134.8h0M109.2 150.3h0M110.9 133.6h0M104.9 135.5h0M112.4 149.9h0M112.9 143.3h0M106.1 131.4h0M111.9 133.9h0M113.8 146.9h0M112.6 150.9h0M108.0 146.6h0M108.1 140.1h0M103.2 138.7h0M111.6 152.2h0M110.8 139.1h0M111.0 150.4h0M110.1 142.5h0M106.5 151.5h0M103.4 123.3h0M106.5 138.7h0M110.0 150.2h0M111.0 153.6h0M106.0 132.3h0M104.7 153.0h0M104.1 141.1h0M103.8 143.8h0M105.9 141.7h0M106.7 129.1h0M112.1 152.8h0M104.7 153.0h0M105.8 152.2h0M113.6 143.9h0M103.3 137.0h0M103.9 149.9h0M105.7 151.6h0M105.2 136.6h0M112.0 151.1h0M111.8 135.3h0M104.8 153.4h0M107.0 125.8h0M110.1 153.2h0M108.9 153.0h0M103.7 138.9h0M108.2 143.7h0M111.0 138.1h0M113.8 147.1h0M108.4 141.5h0M113.9 148.5h0M108.5 149.7h0M112.6 142.7h0M113.7 153.2h0M109.0 151.8h0M105.5 148.0h0M108.6 151.3h0M113.7 152.9h0M107.0 142.2h0M105.4 142.1h0M109.5 150.7h0M106.5 132.3h0M107.7 137.2h0M103.9 150.7h0M107.9 144.1h0M113.5 151.6h0M107.0 153.1h0M105.6 150.0h0M106.9 128.7h0M106.7 132.4h0M107.1 137.2h0M110.1 151.8h0M104.6 128.8h0M104.2 119.6h0M107.6 143.4h0M104.9 141.4h0M112.9 137.3h0M104.3 122.8h0M109.7 130.2h0M106.8 153.4h0M107.3 131.6h0M105.4 149.6h0M112.4 147.7h0M107.5 152.7h0M107.3 146.4h0M111.8 152.4h0M108.4 150.2h0M110.3 150.1h0M108.2 128.7h0M103.4 138.9h0M106.1 140.5h0M104.3 152.3h0M108.1 140.0h0M103.3 140.5h0M103.7 138.4h0M105.1 151.4h0M103.7 130.9h0M109.2 147.0h0M107.4 131.2h0M103.4 153.6h0M109.7 153.6h0M105.9 148.6h0M104.2 149.8h0M109.1 153.3h0M109.6 141.4h0M104.6 140.1h0M103.6 141.2h0M105.2 126.3h0M103.8 125.6h0M111.0 146.4h0M108.6 131.8h0M104.2 149.6h0M104.2 142.5h0M106.2 150.4h0M105.8 126.6h0M110.5 153.1h0M104.9 151.7h0M111.0 152.1h0M113.9 152.1h0M105.8 153.0h0M108.8 148.5h0M107.2 143.0h0M103.2 128.8h0M112.8 152.8h0M107.2 140.0h0M112.9 137.5h0M107.1 146.1h0M104.8 127.8h0M108.9 151.8h0M106.8 153.5h0M103.2 138.6h0M105.0 153.5h0M107.2 146.1h0M105.5 135.6h0M108.1 146.8h0M103.4 143.0h0M110.2 134.8h0M104.1 153.4h0M109.0 149.9h0M105.7 143.3h0M103.5 150.8h0M105.5 130.9h0M105.8 143.5h0M104.9 151.9h0M104.6 137.7h0M112.4 151.8h0M112.0 151.3h0M107.5 145.1h0M108.7 153.1h0M107.0 151.0h0M113.5 153.6h0M112.0 136.1h0M103.8 129.7h0M112.5 153.6h0M106.1 148.5h0M113.4 149.4h0M106.3 130.0h0M112.0 148.8h0M108.0 146.8h0M104.3 119.9h0M106.2 139.5h0M106.6 153.1h0M110.1 152.4h0M111.9 153.1h0M107.2 141.7h0M109.8 136.7h0M105.3 148.3h0M103.7 144.3h0M111.7 153.3h0M109.6 152.2h0M112.4 139.5h0M106.9 143.9h0M103.5 132.1h0M111.3 153.6h0M113.1 138.5h0M105.7 153.1h0M106.9 149.9h0M130.4 114.3h0M104.1 148.2h0M108.0 118.5h0M103.9 153.4h0M120.5 151.9h0M109.4 139.7h0M104.2 137.8h0M104.0 152.0h0M108.7 124.3h0M103.6 150.1h0M106.8 131.6h0M111.6 142.2h0M106.7 147.2h0M108.2 146.8h0M105.0 103.1h0M105.8 130.0h0M110.2 153.0h0M108.6 118.1h0M104.1 139.0h0M120.1 141.1h0M104.5 145.9h0M112.8 153.1h0M104.7 147.9h0M107.2 124.2h0M106.2 125.4h0M105.2 145.0h0M107.9 103.7h0M129.8 152.4h0M144.4 153.4h0M115.4 152.4h0M151.4 153.1h0M130.6 153.4h0M146.5 152.4h0M113.2 153.6h0M146.5 153.5h0M134.5 153.1h0M126.8 152.8h0M153.1 153.6h0M116.4 153.0h0M117.6 152.4h0M132.6 152.4h0M125.0 153.4h0M126.3 153.6h0M113.4 153.5h0M124.3 82.9h0" stroke="#d7303f" stroke-width="1.30" stroke-linecap="round" fill="none" stroke-opacity="0.50"/>
<path d="M105.8 142.9h0M110.2 148.0h0M107.0 126.9h0M113.2 152.6h0M108.8 144.8h0M106.3 124.9h0M112.5 153.3h0M107.0 147.2h0M106.9 153.4h0M106.5 135.4h0M106.4 135.9h0M108.2 134.4h0M113.5 147.2h0M108.3 150.4h0M104.0 125.1h0M105.7 153.2h0M112.9 147.8h0M104.9 134.7h0M109.3 132.9h0M103.2 153.5h0M110.2 149.2h0M103.2 141.0h0M103.8 139.7h0M105.3 122.4h0M104.8 125.9h0M108.9 153.5h0M109.4 148.8h0M109.0 143.8h0M112.5 152.8h0M112.9 152.8h0M112.6 151.6h0M104.7 134.8h0M104.0 147.5h0M103.9 151.1h0M109.7 130.7h0M105.5 133.0h0M110.0 151.9h0M112.8 141.0h0M109.6 153.6h0M111.8 153.6h0M110.4 152.6h0M106.1 152.6h0M109.4 139.3h0M104.2 152.5h0M113.5 146.7h0M109.4 149.1h0M105.1 127.6h0M111.1 146.3h0M112.9 153.6h0M107.4 147.4h0M109.5 152.6h0M110.6 150.2h0M108.8 151.2h0M107.6 128.5h0M111.8 153.4h0M104.7 153.3h0M105.6 152.7h0M110.7 151.1h0M113.5 148.0h0M111.7 152.7h0M113.7 143.0h0M103.3 141.8h0M105.8 140.4h0M110.0 152.8h0M107.9 142.7h0M106.2 128.7h0M114.1 149.5h0M103.3 153.5h0M107.9 146.4h0M112.3 153.0h0M104.1 122.9h0M109.8 134.9h0M103.5 153.3h0M103.2 122.3h0M105.0 126.4h0M110.1 144.4h0M112.9 140.4h0M113.4 152.3h0M106.1 133.6h0M104.3 149.5h0M103.5 118.6h0M108.4 144.2h0M108.8 135.8h0M111.1 153.3h0M105.2 152.3h0M106.6 153.6h0M113.8 139.5h0M113.8 153.4h0M113.4 153.3h0M114.1 153.5h0M105.1 145.2h0M108.8 151.7h0M103.3 148.3h0M111.3 151.9h0M103.6 149.9h0M106.8 147.1h0M105.2 152.7h0M109.0 131.3h0M109.6 131.3h0M105.0 153.5h0M103.9 146.7h0M111.3 153.5h0M106.7 131.3h0M112.5 153.1h0M109.2 150.9h0M111.6 139.8h0M105.3 153.0h0M109.6 130.2h0M107.5 152.7h0M103.8 139.5h0M114.2 151.5h0M104.0 149.8h0M109.7 134.0h0M106.0 145.0h0M107.2 151.3h0M107.8 148.9h0M113.3 153.4h0M109.6 130.4h0M103.6 143.3h0M106.0 151.1h0M103.8 153.5h0M109.4 142.7h0M105.5 152.4h0M107.5 140.5h0M103.2 153.5h0M110.1 153.4h0M103.6 123.5h0M110.3 149.6h0M108.6 148.9h0M103.2 140.1h0M107.0 138.7h0M106.7 150.6h0M111.7 151.1h0M105.0 138.4h0M103.5 153.6h0M104.6 142.4h0M110.9 148.2h0M106.1 152.6h0M103.7 149.8h0M104.1 136.7h0M105.6 147.9h0M104.7 149.7h0M109.5 136.8h0M104.1 140.9h0M104.1 153.4h0M103.3 142.7h0M105.1 153.4h0M108.2 148.4h0M112.2 146.8h0M103.5 143.3h0M110.2 151.8h0M103.2 137.4h0M108.0 147.7h0M105.6 145.2h0M103.4 153.5h0M103.2 141.7h0M112.4 152.4h0M103.2 147.0h0M110.1 130.9h0M103.2 125.6h0M112.8 148.9h0M113.4 153.5h0M114.0 152.3h0M110.8 144.3h0M111.6 153.4h0M113.5 144.4h0M106.2 152.5h0M105.0 145.1h0M109.8 153.0h0M111.7 152.5h0M105.8 150.3h0M104.1 135.0h0M112.3 151.0h0M108.3 135.0h0M112.5 147.8h0M111.1 146.8h0M104.1 146.0h0M108.3 143.2h0M103.2 151.2h0M103.8 152.7h0M105.7 139.7h0M108.5 128.2h0M111.7 149.5h0M104.7 150.7h0M103.4 141.4h0M103.2 148.6h0M110.6 149.7h0M112.9 153.6h0M105.4 152.8h0M105.5 124.8h0M111.1 153.6h0M107.0 148.8h0M109.6 129.2h0M105.2 153.1h0M107.3 151.7h0M104.4 129.0h0M108.7 151.5h0M110.0 141.3h0M105.1 152.3h0M109.8 152.1h0M104.7 143.3h0M108.0 148.4h0M110.0 149.6h0M111.4 153.6h0M108.2 140.6h0M106.4 149.6h0M103.6 152.1h0M106.4 153.6h0M103.2 134.3h0M107.7 152.0h0M103.2 145.5h0M104.6 122.3h0M104.0 152.1h0M108.9 133.5h0M105.5 151.9h0M104.9 151.2h0M112.8 152.5h0M112.7 151.0h0M107.1 140.5h0M107.3 152.6h0M112.2 143.8h0M109.9 147.6h0M112.6 152.8h0M111.4 150.2h0M105.3 153.1h0M110.6 131.3h0M112.4 152.6h0M105.1 147.8h0M103.2 118.7h0M103.9 150.1h0M111.0 152.2h0M104.0 147.8h0M112.7 153.2h0M111.1 112.4h0M104.1 117.3h0M103.9 115.4h0M133.5 124.8h0M104.9 144.4h0M107.2 147.7h0M106.3 145.0h0M107.4 152.9h0M106.5 138.6h0M110.0 105.3h0M105.3 149.3h0M103.7 109.7h0M104.7 146.3h0M121.3 139.7h0M104.2 153.0h0M107.4 150.4h0M108.0 132.8h0M116.5 103.5h0M104.3 100.6h0M121.9 122.7h0M105.2 152.8h0M118.1 127.5h0M110.3 145.0h0M130.9 109.1h0M108.1 112.9h0M127.3 139.2h0M104.1 153.6h0M136.8 152.8h0M134.9 152.4h0M132.9 152.0h0M145.1 152.2h0M141.7 153.3h0M138.4 152.2h0M141.5 153.4h0M141.3 152.2h0M128.1 153.2h0M155.9 153.4h0M154.8 151.9h0M144.9 152.6h0M113.5 153.5h0M143.0 152.4h0M141.2 153.0h0M146.4 152.8h0M119.2 69.9h0M122.4 84.3h0" stroke="#d7303f" stroke-width="1.30" stroke-linecap="round" fill="none" stroke-opacity="0.50"/>
<text x="23.20" y="156.14" font-size="5.80" text-anchor="middle" fill="#4d4d4d" stroke="#4d4d4d" stroke-width="0.06">0</text>
<line x1="28.10" y1="153.60" x2="29.10" y2="153.60" stroke="#888" stroke-width="0.4"/>
<text x="23.20" y="127.27" font-size="5.80" text-anchor="middle" fill="#4d4d4d" stroke="#4d4d4d" stroke-width="0.06">100</text>
<line x1="28.10" y1="124.73" x2="29.10" y2="124.73" stroke="#888" stroke-width="0.4"/>
<text x="23.20" y="98.40" font-size="5.80" text-anchor="middle" fill="#4d4d4d" stroke="#4d4d4d" stroke-width="0.06">200</text>
<line x1="28.10" y1="95.86" x2="29.10" y2="95.86" stroke="#888" stroke-width="0.4"/>
<text x="23.20" y="69.53" font-size="5.80" text-anchor="middle" fill="#4d4d4d" stroke="#4d4d4d" stroke-width="0.06">300</text>
<line x1="28.10" y1="66.99" x2="29.10" y2="66.99" stroke="#888" stroke-width="0.4"/>
<text x="52.50" y="163.14" font-size="5.80" text-anchor="middle" fill="#4d4d4d" stroke="#4d4d4d" stroke-width="0.06">-10</text>
<line x1="52.50" y1="157.90" x2="52.50" y2="158.90" stroke="#888" stroke-width="0.4"/>
<text x="75.50" y="163.14" font-size="5.80" text-anchor="middle" fill="#4d4d4d" stroke="#4d4d4d" stroke-width="0.06">-5</text>
<line x1="75.50" y1="157.90" x2="75.50" y2="158.90" stroke="#888" stroke-width="0.4"/>
<text x="98.50" y="163.14" font-size="5.80" text-anchor="middle" fill="#4d4d4d" stroke="#4d4d4d" stroke-width="0.06">0</text>
<line x1="98.50" y1="157.90" x2="98.50" y2="158.90" stroke="#888" stroke-width="0.4"/>
<text x="121.50" y="163.14" font-size="5.80" text-anchor="middle" fill="#4d4d4d" stroke="#4d4d4d" stroke-width="0.06">5</text>
<line x1="121.50" y1="157.90" x2="121.50" y2="158.90" stroke="#888" stroke-width="0.4"/>
<text x="144.50" y="163.14" font-size="5.80" text-anchor="middle" fill="#4d4d4d" stroke="#4d4d4d" stroke-width="0.06">10</text>
<line x1="144.50" y1="157.90" x2="144.50" y2="158.90" stroke="#888" stroke-width="0.4"/>
<text x="167.50" y="163.14" font-size="5.80" text-anchor="middle" fill="#4d4d4d" stroke="#4d4d4d" stroke-width="0.06">15</text>
<line x1="167.50" y1="157.90" x2="167.50" y2="158.90" stroke="#888" stroke-width="0.4"/>
<text x="99.80" y="169.98" font-size="6.60" text-anchor="middle" fill="#000">log2 of Fold change</text>
<text x="14.50" y="110.88" font-size="6.60" text-anchor="middle" fill="#000" transform="rotate(-90 14.5 108.5)">-log10 of qval</text>
<text x="193.60" y="22.07" font-size="16.30">B</text>
<text x="284.00" y="30.83" font-size="11.20" text-anchor="middle" fill="#000">lncRNA</text>
<text x="210.30" y="46.82" font-size="7.00" text-anchor="start" fill="#222">DM vs. GM</text>
<circle cx="255.50" cy="52.70" r="0.50" fill="#bbb"/>
<text x="261.00" y="55.22" font-size="7.00" text-anchor="start" fill="#222">up</text>
<circle cx="273.80" cy="52.70" r="0.50" fill="#bbb"/>
<text x="279.30" y="55.22" font-size="7.00" text-anchor="start" fill="#222">no</text>
<circle cx="292.00" cy="52.70" r="0.50" fill="#bbb"/>
<text x="297.50" y="55.22" font-size="7.00" text-anchor="start" fill="#222">down</text>
<rect x="210.50" y="58.20" width="142.20" height="100.00" fill="#fff" stroke="#c8c8c8" stroke-width="0.6"/>
<line x1="274.45" y1="58.70" x2="274.45" y2="157.70" stroke="#6a6a6a" stroke-width="0.8" stroke-dasharray="0.9 0.9"/>
<line x1="268.55" y1="58.70" x2="268.55" y2="157.70" stroke="#c8c8c8" stroke-width="0.5" stroke-dasharray="0.8 0.8"/>
<line x1="211.00" y1="153.60" x2="352.20" y2="153.60" stroke="#6a6a6a" stroke-width="0.8" stroke-dasharray="0.9 0.9"/>
<path d="M253.1 153.8h0M244.6 153.7h0M252.5 153.5h0M327.4 153.9h0M250.6 154.0h0M338.3 153.7h0M241.8 153.4h0M251.9 153.7h0M321.2 153.9h0M334.2 153.4h0M261.0 153.3h0M272.7 153.6h0M341.6 153.8h0M269.5 153.8h0M259.5 153.2h0M324.6 153.9h0M338.0 153.9h0M261.4 153.3h0M256.4 153.9h0M268.5 153.9h0M296.5 153.3h0M313.4 153.7h0M318.7 153.3h0M250.6 153.7h0M307.9 153.7h0M270.8 153.8h0M260.5 153.5h0M276.4 153.4h0M333.6 153.2h0M273.3 153.4h0M230.1 153.9h0M228.4 153.9h0M248.1 153.3h0M256.0 153.3h0M303.5 153.5h0M289.9 153.6h0M306.5 153.3h0M273.1 153.5h0M261.7 153.7h0M303.7 153.7h0M247.4 153.3h0M307.7 153.5h0M302.7 153.8h0M337.6 153.7h0M220.6 153.7h0M315.8 153.2h0M332.4 153.4h0M303.0 153.3h0M238.7 153.9h0M254.9 153.7h0M273.8 153.9h0M267.9 153.6h0M218.8 153.8h0M252.0 153.4h0M227.6 153.2h0M241.8 153.4h0M247.0 153.6h0M235.5 154.0h0M341.6 153.9h0M294.5 153.8h0M289.9 153.6h0M235.3 153.4h0M335.4 153.4h0M288.2 153.3h0M286.0 153.5h0M261.4 153.3h0M282.3 153.2h0M327.4 154.0h0M250.7 153.8h0M272.3 153.6h0M235.1 153.5h0M326.2 153.6h0M328.1 153.9h0M323.2 153.3h0M256.6 153.8h0M337.1 153.5h0M240.8 154.0h0M232.5 153.7h0M238.7 153.4h0M230.1 153.8h0M245.5 153.5h0M239.3 153.5h0M318.7 153.5h0M312.1 153.4h0M293.4 153.4h0M260.6 153.5h0M260.2 154.0h0M324.1 153.7h0M336.5 153.7h0M240.1 153.9h0M340.4 153.4h0M285.4 153.8h0M277.5 153.5h0M335.4 154.0h0M311.1 153.5h0M319.7 153.9h0M226.2 153.2h0M219.4 154.0h0M298.6 153.5h0M273.9 153.4h0M274.5 144.9h0M274.7 151.2h0M273.7 149.9h0M274.0 147.0h0M272.5 152.0h0M273.2 153.5h0M274.2 153.1h0M273.5 150.0h0M268.7 149.5h0M274.3 147.5h0M270.0 153.2h0M273.2 151.4h0M272.4 152.1h0M270.6 153.3h0M269.1 146.7h0M273.1 149.5h0M271.5 153.9h0M268.8 150.4h0M273.7 150.5h0M271.3 153.8h0M271.7 153.6h0M272.0 153.3h0M268.7 149.2h0M272.0 153.9h0M269.6 150.8h0M272.2 153.8h0M268.3 150.0h0M274.4 145.9h0M274.7 145.3h0M270.3 153.2h0M269.2 148.2h0M268.8 151.2h0M272.7 153.6h0M270.5 152.4h0M273.9 147.7h0M268.5 145.7h0M269.3 149.6h0M268.4 150.3h0M269.4 147.9h0M271.9 153.8h0M269.6 153.8h0M272.5 152.2h0M272.1 152.5h0M268.8 147.8h0M272.4 151.8h0M268.6 153.1h0M270.7 152.0h0M268.6 152.3h0M273.1 149.9h0M270.1 153.3h0M269.0 151.8h0M271.9 153.6h0M270.1 152.1h0M269.3 147.3h0M269.7 151.8h0M273.1 152.7h0M268.3 149.0h0M273.4 149.0h0M270.3 150.7h0M272.3 154.0h0M274.7 149.8h0M273.1 149.5h0M273.6 151.6h0M268.3 147.2h0M271.7 153.3h0M270.1 150.1h0M272.9 153.9h0M260.3 137.7h0" stroke="#8a8a8a" stroke-width="1.20" stroke-linecap="round" fill="none" stroke-opacity="0.50"/>
<path d="M224.8 153.9h0M326.0 153.3h0M270.1 153.6h0M256.1 154.0h0M277.2 153.9h0M308.4 153.7h0M272.9 153.8h0M290.3 153.9h0M344.2 153.8h0M227.0 153.6h0M246.1 153.4h0M284.6 153.5h0M263.7 153.8h0M262.7 154.0h0M236.3 153.6h0M235.5 153.4h0M323.9 153.8h0M333.5 153.9h0M300.6 153.4h0M218.9 153.7h0M327.8 153.4h0M308.0 153.8h0M237.7 153.3h0M248.2 153.7h0M261.0 153.4h0M342.0 154.0h0M265.3 153.5h0M291.5 153.7h0M326.1 153.5h0M316.7 153.3h0M232.0 153.4h0M324.5 153.7h0M253.3 153.3h0M256.8 153.7h0M252.4 154.0h0M336.2 153.8h0M238.0 153.4h0M254.4 153.3h0M256.4 154.0h0M310.0 153.7h0M276.1 153.8h0M320.5 153.8h0M302.4 153.8h0M239.9 153.9h0M239.8 153.3h0M316.6 153.9h0M226.0 153.7h0M342.5 153.4h0M299.6 153.4h0M243.3 153.6h0M325.3 153.3h0M334.8 153.8h0M321.0 153.5h0M280.3 153.9h0M231.0 153.8h0M296.1 153.7h0M308.4 153.5h0M222.6 153.5h0M266.5 153.7h0M302.5 153.7h0M300.3 153.6h0M297.5 153.5h0M342.2 153.6h0M321.7 153.9h0M290.0 153.3h0M314.2 154.0h0M227.9 153.4h0M300.0 153.3h0M260.5 153.8h0M306.1 153.3h0M240.3 153.3h0M280.0 153.9h0M304.6 153.7h0M239.5 153.3h0M316.2 153.6h0M301.2 153.3h0M322.8 153.9h0M263.3 153.9h0M270.4 154.0h0M250.8 154.0h0M238.5 154.0h0M330.0 153.4h0M320.2 153.7h0M226.8 153.4h0M225.7 153.5h0M228.9 153.3h0M335.8 153.3h0M255.0 153.5h0M319.2 153.7h0M220.8 153.7h0M307.9 153.8h0M244.8 153.7h0M332.2 153.5h0M246.5 153.5h0M265.8 154.0h0M221.5 153.2h0M220.5 153.5h0M226.1 153.4h0M244.0 153.8h0M309.7 153.8h0M270.6 153.8h0M273.8 152.3h0M273.2 153.6h0M272.9 151.4h0M273.7 152.4h0M273.0 149.8h0M269.8 149.3h0M269.0 152.2h0M272.9 152.6h0M269.6 149.1h0M270.9 153.3h0M274.5 147.8h0M273.3 149.8h0M274.2 146.2h0M272.6 150.6h0M273.7 151.6h0M271.7 153.6h0M270.6 151.4h0M273.7 151.4h0M269.9 152.5h0M273.6 147.6h0M269.8 152.2h0M270.9 154.0h0M272.0 152.9h0M273.6 152.4h0M271.7 153.6h0M269.8 151.3h0M268.9 147.2h0M271.3 153.5h0M269.2 149.4h0M274.4 147.3h0M273.2 153.2h0M273.4 150.4h0M271.9 153.7h0M271.9 152.8h0M273.4 151.7h0M268.3 147.9h0M273.9 151.7h0M269.3 149.8h0M271.5 154.0h0M273.1 153.9h0M271.4 153.7h0M273.9 148.8h0M272.4 151.6h0M268.7 153.7h0M269.6 153.9h0M272.5 152.0h0M274.4 146.6h0M269.8 149.8h0M271.8 153.1h0M269.3 153.0h0M274.6 148.5h0M270.1 151.9h0M269.6 152.3h0M272.0 153.1h0M269.8 150.7h0M270.5 153.3h0M274.5 152.9h0M272.4 153.5h0M272.1 153.7h0M272.3 153.5h0M269.9 152.8h0M270.7 152.7h0M269.0 147.3h0M270.7 152.8h0M274.4 151.7h0M271.0 153.4h0M274.4 112.4h0" stroke="#8a8a8a" stroke-width="1.20" stroke-linecap="round" fill="none" stroke-opacity="0.50"/>
<path d="M262.8 153.9h0M269.8 153.9h0M311.9 153.5h0M284.5 153.5h0M243.1 153.7h0M269.8 153.9h0M343.6 153.3h0M272.6 153.8h0M260.4 153.9h0M267.9 153.5h0M252.4 153.5h0M227.0 154.0h0M300.3 153.2h0M229.8 154.0h0M244.7 154.0h0M249.3 153.8h0M290.2 153.8h0M310.3 153.9h0M313.1 153.4h0M336.8 153.7h0M293.5 153.8h0M337.7 153.9h0M300.1 153.5h0M300.6 153.4h0M341.9 153.8h0M331.6 153.4h0M272.4 153.3h0M341.0 153.8h0M297.4 153.3h0M274.3 153.5h0M263.4 153.3h0M246.4 153.4h0M279.2 153.3h0M298.6 153.6h0M310.2 153.5h0M334.1 153.9h0M253.0 154.0h0M218.7 153.8h0M245.0 153.8h0M261.6 153.9h0M246.1 153.3h0M311.1 153.9h0M263.2 153.5h0M303.6 153.3h0M235.2 153.9h0M270.1 153.6h0M317.2 153.6h0M290.9 153.8h0M327.3 153.3h0M338.5 153.4h0M315.8 153.8h0M271.6 154.0h0M278.9 153.7h0M298.0 153.2h0M342.3 153.3h0M317.8 153.5h0M287.3 153.4h0M273.5 153.4h0M287.7 153.3h0M288.8 153.9h0M291.1 153.4h0M269.1 153.9h0M330.6 153.3h0M235.4 153.7h0M320.0 153.9h0M297.9 153.9h0M279.8 153.2h0M253.8 153.5h0M340.5 153.8h0M296.3 153.3h0M293.9 153.9h0M333.4 153.6h0M286.5 153.5h0M233.2 154.0h0M267.6 153.4h0M255.5 153.2h0M261.0 153.6h0M294.9 153.7h0M330.0 153.7h0M260.4 153.9h0M241.0 153.8h0M278.1 153.4h0M313.3 153.6h0M223.0 153.7h0M262.2 154.0h0M223.9 153.8h0M333.2 153.8h0M229.2 154.0h0M230.2 153.6h0M251.2 153.7h0M313.5 153.5h0M253.5 153.3h0M238.8 153.8h0M326.8 153.4h0M299.0 153.9h0M239.6 153.6h0M325.4 153.8h0M285.4 153.3h0M342.5 153.3h0M243.8 153.4h0M270.3 153.7h0M274.5 149.5h0M268.8 151.0h0M268.6 145.5h0M272.3 152.3h0M272.3 153.6h0M272.1 153.4h0M273.5 148.9h0M268.7 150.3h0M272.6 153.0h0M270.1 150.2h0M274.4 146.4h0M273.9 151.4h0M271.1 153.5h0M272.4 152.6h0M271.5 153.9h0M268.7 154.0h0M274.7 152.8h0M273.3 154.0h0M271.0 153.2h0M272.6 153.1h0M269.7 151.0h0M270.0 149.6h0M269.1 151.0h0M269.2 153.0h0M273.2 150.4h0M269.2 153.0h0M268.7 151.0h0M270.7 152.0h0M271.9 152.9h0M269.0 152.8h0M271.2 154.0h0M269.5 149.6h0M271.0 152.7h0M269.2 146.8h0M273.4 148.3h0M268.7 148.0h0M274.5 149.6h0M274.4 145.5h0M270.3 152.8h0M272.0 153.5h0M272.0 152.7h0M270.4 152.3h0M268.8 152.9h0M270.4 152.8h0M269.2 153.8h0M271.3 153.9h0M272.0 153.1h0M272.5 153.2h0M273.4 153.0h0M273.0 152.5h0M269.2 148.3h0M270.2 152.7h0M270.9 153.8h0M270.6 152.2h0M270.9 152.5h0M273.9 152.4h0M269.3 153.4h0M268.9 148.0h0M270.2 153.6h0M270.7 152.4h0M270.9 153.4h0M271.9 153.5h0M269.9 152.7h0M270.9 153.8h0M274.2 153.9h0M264.1 100.4h0" stroke="#8a8a8a" stroke-width="1.20" stroke-linecap="round" fill="none" stroke-opacity="0.50"/>
<path d="M267.5 147.0h0M268.0 153.9h0M263.4 153.3h0M263.3 150.9h0M268.4 153.3h0M264.6 150.6h0M263.2 154.0h0M260.4 153.5h0M265.2 149.8h0M259.4 152.7h0M259.1 153.9h0M261.9 154.0h0M266.4 148.3h0M265.0 151.5h0M268.0 152.5h0M257.3 152.6h0M260.1 153.9h0M265.6 153.7h0M267.4 147.8h0M268.4 151.2h0M268.3 153.2h0M268.1 153.0h0M267.6 147.2h0M267.7 149.6h0M268.0 152.7h0M266.2 153.7h0M267.9 147.9h0M264.0 152.8h0M267.6 146.3h0M267.1 149.5h0M264.3 152.9h0M268.3 153.3h0M260.3 153.9h0M259.2 152.9h0M263.1 154.0h0M266.7 153.2h0M265.1 152.2h0M264.3 150.1h0M267.7 153.6h0M260.9 153.1h0M267.1 147.2h0M254.9 153.2h0M256.8 153.2h0M259.8 151.9h0M267.7 154.0h0M267.9 149.5h0M266.8 150.6h0M256.5 153.6h0M263.2 151.8h0M266.4 153.4h0M265.6 148.5h0M258.9 152.9h0M263.8 150.2h0M267.6 149.0h0M264.1 153.8h0M260.2 153.0h0M266.9 151.9h0M266.8 151.7h0M263.5 152.0h0M262.9 150.2h0M268.0 147.5h0M264.0 153.8h0M261.2 153.9h0M267.7 151.1h0M266.2 153.4h0M265.6 151.9h0M267.1 149.4h0M263.8 150.5h0M262.4 152.5h0M263.4 152.4h0M267.9 151.3h0M268.0 153.8h0M267.3 153.5h0M255.8 153.4h0M267.2 147.7h0M265.0 154.0h0M268.0 147.5h0M260.8 152.1h0M268.4 147.1h0M266.1 152.1h0M258.8 153.7h0M267.3 152.8h0M257.1 153.3h0M264.3 149.9h0M265.3 154.0h0M262.6 153.5h0M265.7 154.0h0M267.8 150.4h0M257.1 152.5h0M264.8 151.5h0M265.7 153.8h0M253.7 154.0h0M262.1 152.8h0M262.7 152.0h0M263.4 139.6h0M258.8 150.6h0M259.2 146.2h0M263.7 137.3h0M255.3 153.4h0M236.5 153.7h0M255.2 153.9h0M230.3 153.8h0M233.6 153.6h0M247.6 153.7h0M233.7 151.8h0M228.2 151.3h0M241.5 153.5h0M244.1 151.2h0M246.1 152.9h0M252.7 154.0h0M225.2 152.3h0M240.0 151.3h0M252.0 153.9h0M237.7 153.3h0M231.4 153.9h0M250.4 153.9h0M244.4 151.1h0M254.7 153.7h0M231.3 152.6h0M252.7 153.7h0M240.8 152.8h0M234.7 152.8h0M232.0 154.0h0M232.6 151.3h0M228.9 153.6h0M235.9 153.6h0M231.1 154.0h0M232.8 154.0h0M228.0 153.4h0M226.2 153.6h0M235.6 153.2h0M226.2 151.7h0M234.3 150.4h0M230.4 154.0h0M265.0 127.8h0M221.3 147.2h0M231.7 150.6h0" stroke="#2f68b4" stroke-width="1.30" stroke-linecap="round" fill="none" stroke-opacity="0.50"/>
<path d="M265.3 154.0h0M267.4 146.6h0M264.8 148.9h0M265.8 150.6h0M259.1 153.4h0M267.1 150.4h0M264.1 149.7h0M265.0 153.6h0M265.2 149.8h0M261.5 153.2h0M265.0 153.8h0M265.9 152.4h0M254.5 153.1h0M268.3 153.7h0M266.7 148.7h0M262.0 154.0h0M254.0 153.7h0M262.4 153.8h0M265.7 150.5h0M267.8 147.6h0M268.0 147.6h0M262.7 152.4h0M265.6 153.8h0M263.3 152.7h0M268.3 153.6h0M266.7 149.4h0M266.4 153.7h0M267.8 149.3h0M268.2 150.1h0M260.1 153.4h0M264.7 152.5h0M263.0 154.0h0M267.3 148.4h0M257.9 152.9h0M268.2 153.8h0M262.4 153.4h0M268.0 154.0h0M266.0 152.4h0M265.8 152.6h0M264.9 152.6h0M265.0 154.0h0M265.0 153.9h0M262.8 153.4h0M268.2 150.9h0M262.4 154.0h0M267.1 152.6h0M266.4 153.9h0M261.6 153.9h0M266.2 150.8h0M265.3 152.9h0M266.8 153.3h0M265.0 148.8h0M268.2 154.0h0M265.8 150.5h0M264.9 152.9h0M267.5 150.9h0M267.1 151.0h0M259.1 152.8h0M265.0 153.5h0M265.0 153.7h0M266.2 148.7h0M263.3 153.0h0M267.7 151.5h0M264.8 150.9h0M266.6 149.5h0M262.6 152.3h0M267.0 152.6h0M259.5 151.9h0M267.4 154.0h0M265.8 150.7h0M266.6 151.5h0M264.5 153.8h0M267.4 150.2h0M266.7 152.7h0M267.6 146.2h0M267.6 152.8h0M268.2 149.6h0M267.4 153.1h0M267.0 147.3h0M268.1 154.0h0M261.6 153.1h0M262.8 153.1h0M267.2 152.4h0M268.2 151.0h0M260.9 153.5h0M265.9 151.2h0M253.7 153.6h0M262.7 151.9h0M263.0 153.5h0M267.6 148.0h0M265.0 148.7h0M267.5 149.3h0M268.1 153.5h0M261.5 149.2h0M265.6 143.0h0M257.7 148.9h0M265.7 143.7h0M242.1 153.9h0M225.2 153.9h0M257.4 153.9h0M240.3 153.9h0M228.7 152.5h0M234.7 153.7h0M227.5 154.0h0M227.0 153.9h0M228.4 153.1h0M232.9 151.0h0M232.6 153.9h0M250.8 151.9h0M253.4 154.0h0M244.0 154.0h0M231.2 153.9h0M251.9 153.6h0M246.3 154.0h0M237.7 152.3h0M248.3 152.3h0M234.4 153.4h0M236.0 151.0h0M245.9 153.9h0M245.2 151.5h0M233.5 152.6h0M225.9 150.8h0M228.7 153.9h0M229.2 154.0h0M227.6 151.9h0M235.5 151.5h0M227.1 153.4h0M228.3 152.5h0M233.6 151.8h0M230.3 151.3h0M227.6 153.0h0M236.0 150.7h0M229.5 150.6h0M230.0 152.6h0M266.5 129.4h0M227.2 150.3h0" stroke="#2f68b4" stroke-width="1.30" stroke-linecap="round" fill="none" stroke-opacity="0.50"/>
<path d="M267.5 149.3h0M266.7 153.8h0M253.7 153.7h0M263.8 153.1h0M260.4 152.7h0M265.6 153.1h0M261.4 153.2h0M257.7 152.6h0M263.1 152.0h0M267.6 153.8h0M260.4 151.6h0M265.0 153.8h0M260.0 152.8h0M268.4 153.8h0M265.5 153.8h0M256.3 153.4h0M267.9 152.8h0M266.4 153.3h0M263.2 153.6h0M267.3 149.8h0M264.6 151.6h0M267.6 151.7h0M261.9 154.0h0M267.1 153.9h0M267.0 150.9h0M263.6 151.8h0M264.8 151.8h0M258.6 154.0h0M267.6 151.1h0M267.1 153.7h0M264.2 151.3h0M267.9 149.0h0M265.2 153.3h0M264.8 153.6h0M260.2 152.6h0M264.2 149.7h0M266.0 150.0h0M267.4 153.6h0M266.8 149.7h0M267.2 151.8h0M266.8 153.9h0M267.9 153.6h0M263.6 153.7h0M261.7 153.8h0M258.8 152.6h0M262.0 153.5h0M263.0 154.0h0M266.8 151.7h0M268.4 153.4h0M267.4 154.0h0M267.3 147.5h0M265.7 153.9h0M268.2 153.9h0M260.7 153.6h0M262.0 152.0h0M263.8 153.0h0M263.7 153.7h0M267.3 152.9h0M268.0 146.2h0M258.7 152.3h0M262.4 153.2h0M267.9 151.7h0M267.5 150.4h0M256.6 152.7h0M267.8 148.6h0M267.1 148.6h0M267.2 153.1h0M263.3 150.9h0M259.0 152.7h0M265.5 151.3h0M266.2 153.8h0M256.1 153.8h0M266.8 152.9h0M263.6 153.5h0M256.6 153.7h0M261.6 151.4h0M265.7 152.1h0M265.7 150.7h0M267.4 153.5h0M264.7 151.5h0M265.8 152.9h0M268.0 152.1h0M265.0 154.0h0M265.9 153.6h0M264.2 150.8h0M264.1 151.0h0M268.0 149.4h0M268.0 146.8h0M258.3 153.2h0M262.1 153.8h0M265.3 152.9h0M268.0 150.5h0M267.0 147.3h0M261.4 153.9h0M260.2 152.0h0M261.4 136.7h0M261.6 153.3h0M246.1 153.5h0M230.3 151.2h0M245.4 151.3h0M248.0 153.9h0M233.8 153.6h0M248.4 153.9h0M254.8 154.0h0M233.4 151.9h0M250.5 153.1h0M238.0 152.8h0M254.8 153.3h0M248.1 154.0h0M250.6 152.9h0M254.0 153.0h0M254.6 153.9h0M245.2 153.0h0M255.4 152.0h0M241.8 153.8h0M227.8 153.1h0M256.1 154.0h0M237.5 153.9h0M241.1 153.8h0M232.4 151.2h0M233.2 152.3h0M231.6 152.2h0M232.5 151.1h0M230.0 153.7h0M231.9 151.2h0M231.6 150.5h0M233.0 152.4h0M232.5 153.0h0M228.3 150.6h0M231.6 151.9h0M231.6 153.8h0M229.7 152.9h0M233.0 153.8h0M234.0 153.3h0M265.6 135.5h0M229.6 150.9h0" stroke="#2f68b4" stroke-width="1.30" stroke-linecap="round" fill="none" stroke-opacity="0.50"/>
<path d="M287.4 152.1h0M282.2 148.4h0M283.9 153.0h0M280.6 153.4h0M283.3 151.2h0M278.5 152.5h0M294.7 153.9h0M279.9 150.9h0M278.7 147.8h0M275.4 141.2h0M276.2 154.0h0M279.1 153.9h0M279.7 149.0h0M280.8 152.4h0M283.3 151.0h0M280.0 146.8h0M278.7 145.6h0M280.1 151.3h0M276.5 149.1h0M275.4 145.8h0M275.3 153.8h0M288.9 151.1h0M275.7 146.9h0M279.1 145.9h0M294.7 153.2h0M280.9 148.2h0M279.5 149.4h0M279.7 146.4h0M283.0 150.3h0M278.5 148.5h0M279.2 147.1h0M284.0 152.9h0M279.8 151.5h0M283.9 152.8h0M281.3 152.0h0M291.7 153.3h0M285.9 153.5h0M280.6 153.5h0M282.2 152.2h0M278.0 146.6h0M280.7 153.2h0M278.4 149.3h0M295.8 153.3h0M289.1 153.8h0M276.2 152.5h0M284.5 150.9h0M276.3 147.0h0M276.1 151.2h0M281.9 153.3h0M276.0 153.2h0M281.5 151.2h0M277.6 148.8h0M277.8 145.6h0M287.0 151.2h0M276.4 146.6h0M297.4 153.4h0M275.8 149.0h0M284.8 149.7h0M295.8 152.9h0M282.8 151.1h0M275.5 151.8h0M277.7 145.8h0M278.6 152.6h0M284.9 152.9h0M301.0 154.0h0M281.9 153.7h0M282.6 153.8h0M274.6 151.6h0M279.0 147.1h0M301.0 153.9h0M275.3 154.0h0M274.6 153.5h0M276.0 143.8h0M284.4 149.4h0M277.9 151.1h0M275.1 152.2h0M278.3 152.5h0M280.4 153.0h0M274.9 150.9h0M284.9 153.0h0M279.8 147.7h0M275.1 142.4h0M277.2 146.1h0M288.5 151.1h0M282.9 148.5h0M278.6 152.8h0M282.7 150.9h0M276.2 145.3h0M274.6 143.7h0M275.9 149.2h0M278.3 149.6h0M282.0 151.3h0M279.1 153.7h0M275.1 149.6h0M275.0 148.9h0M276.4 142.5h0M280.3 150.4h0M276.7 153.2h0M274.7 144.3h0M276.9 153.1h0M274.7 152.1h0M274.8 150.6h0M277.8 150.6h0M279.7 153.8h0M277.3 150.5h0M275.7 142.0h0M288.1 152.0h0M276.0 151.0h0M275.5 153.7h0M277.1 149.2h0M280.0 151.9h0M280.6 148.8h0M285.1 153.9h0M276.4 149.2h0M280.0 146.4h0M291.8 153.1h0M276.3 153.8h0M283.2 152.8h0M298.1 153.2h0M284.7 154.0h0M277.8 151.7h0M276.9 149.8h0M278.0 153.6h0M275.5 152.8h0M274.6 153.4h0M285.4 151.2h0M276.7 145.9h0M278.0 150.9h0M282.8 147.7h0M276.0 147.4h0M284.7 142.0h0M275.7 140.1h0M286.1 152.2h0M282.1 131.9h0M302.9 151.9h0M312.2 154.0h0M305.7 153.8h0M295.1 153.4h0M286.9 152.6h0M308.5 153.7h0M311.0 153.9h0M294.1 152.7h0M304.2 154.0h0M315.3 152.7h0M310.1 153.1h0M311.7 152.6h0M317.0 152.7h0M299.6 152.9h0M303.6 153.3h0M292.8 154.0h0M298.5 152.1h0M298.2 152.2h0M303.5 154.0h0M318.2 151.8h0M315.4 154.0h0M307.7 151.0h0M317.1 153.4h0M310.9 152.4h0M312.7 153.7h0M306.2 153.9h0M305.1 152.8h0M310.7 152.7h0M306.3 153.1h0M310.2 153.6h0M315.0 152.9h0M316.8 153.1h0M313.9 153.7h0M304.2 151.0h0M278.0 120.1h0" stroke="#d7303f" stroke-width="1.30" stroke-linecap="round" fill="none" stroke-opacity="0.50"/>
<path d="M279.1 150.1h0M277.4 145.6h0M283.1 152.1h0M275.8 147.5h0M275.6 147.0h0M280.1 153.8h0M284.5 153.7h0M276.8 153.3h0M280.3 149.3h0M275.3 149.0h0M283.8 153.1h0M292.7 153.6h0M279.4 147.8h0M277.3 149.9h0M286.9 154.0h0M275.9 151.7h0M275.6 145.7h0M274.8 151.3h0M275.0 142.1h0M279.0 151.1h0M277.0 148.5h0M276.2 152.7h0M280.3 150.0h0M289.2 153.5h0M279.8 152.6h0M282.3 153.6h0M277.7 144.6h0M276.2 153.8h0M276.0 149.6h0M295.9 154.0h0M274.7 142.3h0M277.0 152.3h0M284.3 150.1h0M276.9 143.4h0M281.9 153.2h0M301.0 153.7h0M296.9 153.3h0M281.7 148.9h0M282.4 150.8h0M274.8 147.0h0M280.0 151.2h0M283.4 150.7h0M275.7 153.6h0M286.0 151.5h0M279.3 153.9h0M274.8 147.6h0M274.8 150.0h0M277.8 145.7h0M278.8 153.8h0M283.1 149.5h0M282.0 150.9h0M275.4 153.4h0M274.7 146.6h0M277.2 150.4h0M274.5 140.9h0M281.1 153.1h0M281.4 147.3h0M278.4 150.2h0M285.9 151.6h0M279.9 150.3h0M281.9 153.5h0M278.2 148.2h0M277.3 148.2h0M275.3 154.0h0M275.4 147.0h0M275.3 145.7h0M277.4 148.9h0M276.0 151.8h0M277.1 152.6h0M299.0 153.5h0M275.7 152.2h0M274.8 153.9h0M282.3 151.2h0M279.8 149.0h0M275.7 149.1h0M275.1 152.9h0M282.6 153.7h0M276.1 149.9h0M283.0 153.7h0M276.3 147.5h0M283.8 152.9h0M274.9 145.5h0M284.0 153.5h0M280.3 146.9h0M279.2 150.7h0M274.7 152.6h0M276.5 152.8h0M275.9 150.5h0M276.6 152.1h0M290.2 153.6h0M280.7 149.9h0M284.1 150.9h0M276.8 143.8h0M274.7 148.3h0M278.5 147.8h0M286.1 151.8h0M276.5 146.1h0M282.6 153.8h0M276.1 152.4h0M276.0 145.8h0M275.5 145.9h0M301.0 154.0h0M288.8 152.4h0M282.2 153.6h0M276.4 148.9h0M275.3 147.5h0M275.2 140.8h0M281.0 152.5h0M276.0 150.0h0M289.2 153.9h0M279.1 150.5h0M277.9 147.3h0M274.8 152.4h0M276.0 152.4h0M286.6 153.4h0M290.5 152.6h0M278.9 153.0h0M288.6 153.9h0M276.4 149.4h0M275.6 153.7h0M285.1 153.7h0M276.7 154.0h0M286.4 153.6h0M276.1 153.8h0M277.5 150.0h0M276.9 152.3h0M282.4 152.4h0M283.1 131.0h0M284.8 144.4h0M279.0 145.1h0M279.3 151.5h0M277.0 134.1h0M278.7 143.8h0M276.7 138.4h0M300.7 153.6h0M318.0 151.7h0M305.3 152.9h0M293.8 153.8h0M316.2 152.9h0M316.1 152.9h0M292.1 154.0h0M295.1 153.8h0M317.5 154.0h0M288.6 154.0h0M301.4 153.5h0M307.9 153.9h0M311.4 153.6h0M287.5 153.7h0M316.8 153.9h0M305.5 153.9h0M287.8 153.3h0M291.5 152.9h0M312.2 153.7h0M300.7 153.9h0M304.6 153.4h0M314.2 154.0h0M308.1 152.3h0M308.1 151.7h0M313.3 153.8h0M311.8 151.0h0M311.6 152.9h0M312.8 151.3h0M306.3 153.3h0M308.2 151.4h0M309.6 151.4h0M306.3 151.3h0M317.0 152.7h0M280.6 71.5h0" stroke="#d7303f" stroke-width="1.30" stroke-linecap="round" fill="none" stroke-opacity="0.50"/>
<path d="M286.4 152.2h0M278.0 154.0h0M282.6 152.2h0M297.0 152.8h0M277.3 146.6h0M278.1 149.7h0M278.2 151.5h0M279.1 153.0h0M277.1 145.5h0M277.8 151.9h0M284.8 151.1h0M281.5 150.1h0M281.4 148.0h0M275.3 149.2h0M289.8 151.5h0M275.4 147.2h0M276.9 153.1h0M280.0 147.8h0M274.6 140.1h0M276.4 153.2h0M278.6 150.4h0M279.0 145.3h0M284.2 150.8h0M276.2 147.5h0M278.2 152.8h0M274.9 142.7h0M275.5 142.6h0M280.8 153.7h0M275.4 143.4h0M281.0 153.9h0M280.6 153.0h0M301.0 153.1h0M274.6 144.1h0M283.2 152.9h0M277.3 152.0h0M277.6 151.4h0M275.8 149.5h0M274.7 154.0h0M280.7 152.6h0M279.1 149.7h0M278.0 147.3h0M275.3 153.9h0M279.1 153.5h0M278.2 149.0h0M275.1 141.5h0M277.8 151.5h0M278.1 151.5h0M276.0 145.6h0M276.3 148.4h0M276.4 149.9h0M301.0 153.4h0M275.4 152.9h0M276.8 148.8h0M280.7 153.6h0M279.0 148.8h0M277.6 147.5h0M280.9 153.3h0M275.9 146.3h0M301.0 153.6h0M292.7 153.5h0M274.5 142.1h0M276.5 148.3h0M281.6 147.2h0M275.4 148.5h0M276.0 153.9h0M278.9 145.5h0M293.0 153.8h0M275.8 146.1h0M285.6 151.8h0M279.6 153.2h0M293.7 153.6h0M278.7 149.6h0M275.1 153.2h0M287.6 153.9h0M279.0 145.3h0M281.3 152.7h0M282.1 153.5h0M274.8 142.9h0M274.7 149.8h0M286.6 153.3h0M279.2 151.2h0M280.0 148.6h0M286.6 151.0h0M275.6 142.2h0M284.7 151.4h0M276.0 153.3h0M282.2 154.0h0M297.2 153.9h0M283.0 153.9h0M275.4 153.8h0M292.7 152.9h0M294.8 153.9h0M276.8 149.6h0M278.7 149.0h0M277.1 152.2h0M275.1 144.4h0M274.6 153.7h0M275.0 149.3h0M275.9 141.8h0M278.8 153.6h0M276.3 146.6h0M275.1 154.0h0M284.6 152.3h0M287.8 151.7h0M275.4 148.1h0M275.8 149.4h0M291.0 153.0h0M275.5 151.3h0M277.9 153.4h0M276.5 152.8h0M282.3 151.1h0M280.4 153.2h0M278.7 149.7h0M278.8 147.5h0M276.9 146.4h0M276.4 149.4h0M275.4 141.4h0M280.0 147.4h0M275.1 153.9h0M282.8 151.2h0M275.3 147.5h0M277.7 147.5h0M280.3 152.6h0M281.7 151.6h0M275.8 152.4h0M281.7 152.3h0M283.4 150.4h0M284.0 149.6h0M278.0 149.1h0M282.8 131.6h0M282.0 153.3h0M282.9 143.4h0M286.4 153.1h0M283.2 147.5h0M303.9 154.0h0M312.5 152.1h0M289.6 152.6h0M314.5 152.6h0M308.3 153.9h0M295.7 152.1h0M310.9 154.0h0M287.0 154.0h0M295.5 153.9h0M287.6 152.7h0M305.0 154.0h0M292.1 151.6h0M314.5 152.9h0M313.4 153.5h0M307.9 153.6h0M304.5 153.6h0M298.8 154.0h0M293.9 153.4h0M291.9 153.9h0M308.8 154.0h0M310.0 154.0h0M315.6 153.0h0M310.4 153.6h0M313.9 152.0h0M305.8 152.9h0M304.7 153.1h0M304.5 152.2h0M309.7 151.3h0M315.9 151.0h0M309.8 153.7h0M313.9 154.0h0M309.5 152.3h0M304.7 152.8h0M279.5 86.2h0" stroke="#d7303f" stroke-width="1.30" stroke-linecap="round" fill="none" stroke-opacity="0.50"/>
<text x="205.20" y="156.43" font-size="5.50" text-anchor="middle" fill="#4d4d4d" stroke="#4d4d4d" stroke-width="0.06">0</text>
<line x1="209.50" y1="154.00" x2="210.50" y2="154.00" stroke="#888" stroke-width="0.4"/>
<text x="205.20" y="125.63" font-size="5.50" text-anchor="middle" fill="#4d4d4d" stroke="#4d4d4d" stroke-width="0.06">100</text>
<line x1="209.50" y1="123.20" x2="210.50" y2="123.20" stroke="#888" stroke-width="0.4"/>
<text x="205.20" y="94.83" font-size="5.50" text-anchor="middle" fill="#4d4d4d" stroke="#4d4d4d" stroke-width="0.06">200</text>
<line x1="209.50" y1="92.40" x2="210.50" y2="92.40" stroke="#888" stroke-width="0.4"/>
<text x="205.20" y="64.03" font-size="5.50" text-anchor="middle" fill="#4d4d4d" stroke="#4d4d4d" stroke-width="0.06">300</text>
<line x1="209.50" y1="61.60" x2="210.50" y2="61.60" stroke="#888" stroke-width="0.4"/>
<text x="212.50" y="163.53" font-size="5.50" text-anchor="middle" fill="#4d4d4d" stroke="#4d4d4d" stroke-width="0.06">-20</text>
<line x1="212.50" y1="158.20" x2="212.50" y2="159.20" stroke="#888" stroke-width="0.4"/>
<text x="242.00" y="163.53" font-size="5.50" text-anchor="middle" fill="#4d4d4d" stroke="#4d4d4d" stroke-width="0.06">-10</text>
<line x1="242.00" y1="158.20" x2="242.00" y2="159.20" stroke="#888" stroke-width="0.4"/>
<text x="271.50" y="163.53" font-size="5.50" text-anchor="middle" fill="#4d4d4d" stroke="#4d4d4d" stroke-width="0.06">0</text>
<line x1="271.50" y1="158.20" x2="271.50" y2="159.20" stroke="#888" stroke-width="0.4"/>
<text x="301.00" y="163.53" font-size="5.50" text-anchor="middle" fill="#4d4d4d" stroke="#4d4d4d" stroke-width="0.06">10</text>
<line x1="301.00" y1="158.20" x2="301.00" y2="159.20" stroke="#888" stroke-width="0.4"/>
<text x="330.50" y="163.53" font-size="5.50" text-anchor="middle" fill="#4d4d4d" stroke="#4d4d4d" stroke-width="0.06">20</text>
<line x1="330.50" y1="158.20" x2="330.50" y2="159.20" stroke="#888" stroke-width="0.4"/>
<text x="281.50" y="169.98" font-size="6.60" text-anchor="middle" fill="#000">log2 of Fold change</text>
<text x="195.20" y="110.38" font-size="6.60" text-anchor="middle" fill="#000" transform="rotate(-90 195.2 108)">-log10 of qval</text>
<text x="379.60" y="22.17" font-size="16.30">C</text>
<text x="458.50" y="30.76" font-size="11.00" text-anchor="middle" fill="#000">circRNA</text>
<text x="392.60" y="42.82" font-size="7.00" text-anchor="start" fill="#222">DM vs. GM</text>
<circle cx="438.30" cy="46.80" r="0.60" fill="#d7303f"/>
<text x="440.40" y="48.83" font-size="5.50" text-anchor="start" fill="#222" stroke="#222" stroke-width="0.06">up</text>
<circle cx="455.50" cy="46.80" r="0.60" fill="#8a8a8a"/>
<text x="458.50" y="48.83" font-size="5.50" text-anchor="start" fill="#222" stroke="#222" stroke-width="0.06">no</text>
<circle cx="472.90" cy="46.80" r="0.60" fill="#2f68b4"/>
<text x="477.00" y="48.83" font-size="5.50" text-anchor="start" fill="#222" stroke="#222" stroke-width="0.06">down</text>
<rect x="392.40" y="50.40" width="139.90" height="114.50" fill="#fff" stroke="#c8c8c8" stroke-width="0.6"/>
<line x1="451.85" y1="50.90" x2="451.85" y2="164.40" stroke="#aaa" stroke-width="0.5" stroke-dasharray="2.5 1.5"/>
<line x1="473.15" y1="50.90" x2="473.15" y2="164.40" stroke="#aaa" stroke-width="0.5" stroke-dasharray="2.5 1.5"/>
<line x1="392.90" y1="142.20" x2="531.80" y2="142.20" stroke="#aaa" stroke-width="0.5" stroke-dasharray="2.5 1.5"/>
<path d="M460.9 159.6h0M456.5 159.3h0M435.7 159.8h0M481.1 157.4h0M459.9 158.4h0M448.4 154.9h0M468.2 152.8h0M488.8 152.2h0M466.1 159.0h0M452.4 158.8h0M453.5 157.9h0M452.9 155.7h0M445.9 156.8h0M462.7 155.3h0M437.9 157.0h0M467.5 155.0h0M464.9 159.6h0M472.0 159.6h0M459.5 160.0h0M452.6 158.5h0M463.5 159.1h0M471.1 159.1h0M454.0 159.2h0M467.5 158.8h0M464.5 160.0h0M473.7 157.9h0M446.7 156.0h0M473.3 158.1h0M465.0 159.5h0M469.9 156.5h0M473.3 157.7h0M467.1 153.3h0M475.4 156.8h0M449.7 158.1h0M454.7 159.5h0M473.7 155.4h0M465.5 157.9h0M488.1 145.9h0M480.8 150.8h0M469.2 157.5h0M458.6 157.7h0M457.0 157.9h0M485.7 150.1h0M480.4 155.6h0M472.6 158.8h0M458.0 159.2h0M463.6 159.2h0M473.3 155.0h0M472.2 157.4h0M462.7 159.8h0M485.4 153.4h0M452.9 158.8h0M478.6 156.7h0M472.1 155.5h0M476.4 151.7h0M460.5 157.4h0M474.6 156.8h0M477.0 155.9h0M455.6 157.0h0M475.4 157.0h0M485.1 157.0h0M461.0 155.1h0M470.2 160.0h0M498.0 142.5h0M454.1 158.3h0M466.9 159.4h0M475.0 153.5h0M469.3 160.0h0M481.0 156.6h0M475.4 156.0h0M451.9 156.5h0M446.8 158.8h0M448.8 155.9h0M474.0 158.4h0M459.5 160.0h0M456.2 155.3h0M448.1 156.1h0M461.5 158.8h0M459.0 159.2h0M453.4 159.1h0M457.5 157.6h0M478.5 158.7h0M476.8 157.9h0M482.4 158.8h0M458.7 160.0h0M479.4 150.9h0M459.2 157.0h0M464.4 159.6h0M467.1 159.3h0M473.6 155.5h0M465.1 158.7h0M449.4 157.9h0M474.1 157.5h0M471.9 154.6h0M456.7 159.1h0M477.6 155.6h0M469.1 158.4h0M475.5 153.3h0M459.0 159.2h0M467.2 160.0h0M459.6 157.2h0M437.1 156.9h0M493.5 151.7h0M477.5 159.5h0M467.1 156.7h0M448.8 154.4h0M452.9 160.0h0M486.2 149.1h0M469.0 159.1h0M463.2 160.0h0M442.0 148.2h0M452.1 158.4h0M467.4 158.8h0M458.7 157.8h0M465.4 154.1h0M477.3 158.2h0M485.1 156.6h0M462.5 157.4h0M485.3 152.7h0M485.0 159.9h0M469.1 154.6h0M454.3 159.1h0M461.2 160.0h0M467.9 159.5h0M459.1 159.8h0M460.9 160.0h0M466.6 156.4h0M469.5 160.0h0M457.3 160.0h0M473.6 160.0h0M476.5 159.6h0M466.4 159.0h0M462.8 155.7h0M451.3 160.0h0M444.7 154.6h0M462.5 157.2h0M441.7 151.3h0M456.8 157.4h0M487.2 148.4h0M442.9 159.4h0M497.5 150.1h0M457.1 160.0h0M477.0 158.8h0M454.5 156.6h0M460.7 158.6h0M458.3 159.2h0M464.7 159.8h0M456.7 155.5h0M453.4 157.7h0M455.1 157.9h0M456.5 158.1h0M471.7 160.0h0M466.4 156.9h0M478.8 156.4h0M481.2 159.1h0M493.9 156.4h0M462.3 160.0h0M465.5 156.3h0M485.9 142.5h0M431.3 151.9h0M468.0 159.5h0M450.9 158.5h0M430.8 147.5h0M466.6 159.1h0M466.1 157.1h0M473.2 159.5h0M485.1 153.5h0M436.5 158.9h0M484.1 155.7h0M462.9 153.1h0M447.9 158.5h0M442.6 158.4h0M488.7 155.2h0M469.6 156.6h0M440.4 160.0h0M489.4 153.2h0M458.1 158.5h0M481.2 155.4h0M457.3 155.8h0M486.6 150.9h0M479.1 155.2h0M431.4 147.3h0M473.8 153.2h0M481.2 159.0h0M463.2 158.9h0M462.3 160.0h0M460.8 157.4h0M455.2 160.0h0M473.2 155.6h0M435.2 149.7h0M487.4 142.5h0M465.3 160.0h0M457.0 156.3h0M445.9 154.5h0M468.1 156.9h0M479.8 160.0h0M461.9 158.7h0M452.2 158.1h0M465.3 157.9h0M495.0 152.0h0M484.3 150.9h0M480.5 159.2h0M481.3 154.9h0M459.2 160.0h0M472.4 155.7h0M461.6 159.7h0M464.1 159.4h0M482.7 154.0h0M454.9 156.7h0M474.0 155.0h0M483.8 158.0h0M485.3 149.6h0M478.3 157.9h0M482.3 151.0h0M480.0 156.7h0M470.8 156.0h0M479.6 152.0h0M467.6 156.6h0M447.4 160.0h0M459.8 160.0h0M476.3 153.6h0M469.0 157.5h0M482.7 157.6h0M486.6 156.3h0M470.4 157.9h0M478.2 153.2h0M478.5 156.3h0M472.2 155.0h0M441.9 156.8h0M494.1 152.7h0M458.3 160.0h0M454.5 159.6h0M485.9 149.7h0M457.5 160.0h0M437.6 148.1h0M468.5 160.0h0M447.9 153.8h0M459.6 160.0h0M469.0 155.3h0M469.2 156.1h0M459.0 159.0h0M458.2 158.9h0M442.9 160.0h0M469.1 156.0h0M464.9 158.1h0M465.7 159.9h0M462.6 160.0h0M473.4 158.4h0M486.7 154.0h0M480.4 150.3h0M489.3 154.5h0M462.9 159.0h0M434.4 152.5h0M453.9 159.6h0M472.6 158.1h0M456.1 159.5h0M463.9 157.9h0M457.0 159.6h0M461.5 160.0h0M456.9 159.9h0M473.1 159.4h0M458.6 158.7h0M468.8 159.2h0M487.3 150.1h0M480.5 156.1h0M468.4 152.1h0M481.8 158.0h0M498.7 146.1h0M484.7 152.9h0M470.4 158.0h0M504.0 143.7h0M486.6 156.9h0M456.3 159.7h0M474.7 159.1h0M463.1 159.8h0M480.2 154.7h0M450.6 157.5h0M469.7 159.4h0M463.2 160.0h0M457.5 154.1h0M464.3 157.4h0M481.8 151.8h0M466.6 159.2h0M480.9 152.4h0M466.7 158.0h0M459.8 157.7h0M480.7 160.0h0M490.2 151.9h0M464.2 158.1h0M460.1 156.3h0M448.6 158.0h0M451.7 156.8h0M496.5 146.4h0M444.0 156.6h0M472.8 159.1h0M458.7 158.8h0M474.9 156.6h0M483.5 148.1h0M464.9 160.0h0M477.5 158.5h0M484.6 154.8h0M479.6 155.8h0M472.2 160.0h0M454.2 159.6h0M472.8 160.0h0M464.1 157.1h0M480.6 148.0h0M480.1 155.6h0M470.9 159.2h0M444.9 158.9h0M455.5 159.5h0M473.2 156.3h0M474.0 156.8h0M475.0 160.0h0M472.2 153.7h0M473.3 159.8h0M472.4 157.4h0M483.6 156.3h0M450.5 155.3h0M456.9 160.0h0M463.7 156.6h0M486.7 147.2h0M473.7 154.1h0M447.7 153.7h0M462.5 157.5h0M456.3 153.5h0M468.8 157.8h0M469.6 159.0h0M444.5 156.7h0M476.0 151.3h0M442.6 154.1h0M451.0 154.1h0M476.8 154.5h0M456.4 160.0h0M469.0 158.7h0M431.2 160.0h0M465.1 157.0h0M446.3 158.9h0M479.6 153.4h0M463.8 154.5h0M471.0 160.0h0M475.9 158.9h0M470.8 157.8h0M444.2 156.9h0M463.4 158.0h0M473.4 155.6h0M472.8 159.2h0M448.9 157.1h0M481.0 157.2h0M479.5 160.0h0M468.8 159.4h0M470.0 158.2h0M457.3 157.7h0M459.0 160.0h0M477.7 158.3h0M473.2 158.5h0M494.3 149.2h0M491.9 149.4h0M455.6 160.0h0M451.7 155.2h0M454.6 156.2h0M504.0 142.5h0M463.1 157.7h0M467.4 157.8h0M446.6 155.6h0M482.6 156.3h0M464.5 159.9h0M479.1 155.4h0M432.1 153.8h0M436.1 160.0h0M456.7 160.0h0M470.3 157.8h0M455.8 157.3h0M479.1 160.0h0M446.8 153.7h0M451.1 157.2h0M496.9 142.5h0M476.2 152.1h0M462.2 159.5h0M454.0 160.0h0M472.6 159.7h0M470.8 157.4h0M443.1 155.1h0M471.7 160.0h0M494.8 150.8h0M452.3 160.0h0M477.4 155.3h0M446.3 155.9h0M461.4 156.4h0M464.4 154.8h0M477.2 160.0h0M476.6 157.5h0M469.3 156.6h0M464.4 158.6h0M470.1 160.0h0M461.5 158.5h0M469.0 159.4h0M469.0 155.3h0M458.6 160.0h0M465.2 159.3h0M447.7 149.6h0M482.9 152.6h0M461.2 159.3h0M463.3 160.0h0M469.5 159.2h0M475.5 158.6h0M471.5 158.1h0M460.3 158.8h0M492.1 150.0h0M470.9 157.9h0M452.5 153.5h0M444.8 160.0h0M469.5 158.1h0M443.9 157.5h0M466.3 158.5h0M465.6 156.8h0M448.3 160.0h0M452.4 158.9h0M436.4 155.6h0M444.6 157.6h0M465.4 153.4h0M458.8 159.6h0M472.3 155.8h0M476.7 154.8h0M498.2 143.3h0M480.2 158.5h0M461.0 159.7h0M470.3 160.0h0M471.4 154.0h0M465.0 158.9h0M455.5 159.4h0M460.9 156.2h0M448.0 160.0h0M462.0 156.9h0M439.5 154.9h0M470.1 158.3h0M467.4 160.0h0M460.1 154.8h0M457.6 157.5h0M464.4 159.6h0M449.1 157.7h0M444.5 157.0h0M489.4 154.2h0M473.6 154.6h0M459.5 158.8h0M503.5 142.5h0M477.9 157.9h0M484.0 156.5h0M438.3 156.7h0M470.5 155.5h0M479.8 151.4h0M460.0 158.4h0M463.7 160.0h0M471.6 160.0h0M487.2 158.0h0M477.4 154.9h0M464.8 160.0h0M470.8 159.5h0M443.1 154.3h0M453.8 158.2h0M467.4 154.5h0M457.8 155.4h0M461.4 156.9h0M471.3 152.8h0M475.9 158.7h0M480.3 153.5h0M464.0 157.0h0M461.9 157.5h0M449.2 160.0h0M474.3 160.0h0M442.8 158.0h0M461.8 157.3h0M485.1 155.7h0M469.7 157.8h0M482.2 155.8h0M473.2 160.0h0M460.4 156.4h0M463.8 160.0h0M464.6 156.6h0M430.2 152.5h0M431.5 157.7h0M459.7 159.4h0M469.2 160.0h0M476.5 145.4h0M474.3 159.1h0M470.1 155.1h0M479.2 158.4h0M442.6 155.4h0M470.2 156.1h0M462.9 159.8h0M451.0 157.5h0M458.2 157.8h0M501.9 143.7h0M480.7 160.0h0M445.7 158.1h0M461.3 156.6h0M450.6 158.3h0M467.7 159.8h0M441.6 155.3h0M473.3 159.3h0M459.1 157.8h0M448.6 157.3h0M505.3 150.1h0M465.5 159.5h0M460.3 160.0h0M478.2 157.1h0M469.4 156.6h0M456.2 159.5h0M481.7 154.4h0M477.3 160.0h0M471.0 160.0h0M465.4 160.0h0M475.5 158.9h0M448.2 158.5h0M482.0 151.2h0M466.7 156.6h0M488.4 155.9h0M467.8 155.4h0M473.9 154.1h0M469.6 156.7h0M449.2 160.0h0M487.7 149.8h0M469.7 156.6h0M468.7 158.5h0M441.0 160.0h0M462.9 158.1h0M462.6 160.0h0M488.2 157.4h0M462.7 160.0h0M454.8 156.3h0M465.9 159.1h0M473.4 159.7h0M472.2 154.6h0M478.6 157.1h0M457.7 151.8h0M474.3 154.4h0M454.4 158.4h0M448.0 156.9h0M476.7 158.5h0M442.4 159.4h0M450.7 158.7h0M458.8 157.1h0M452.7 158.1h0M470.9 158.8h0M495.7 142.5h0M471.4 159.3h0M463.2 160.0h0M464.7 160.0h0M482.4 142.5h0M470.2 159.8h0M472.4 160.0h0M492.1 153.7h0M443.0 157.4h0M486.4 142.5h0M447.7 158.4h0M469.2 160.0h0" stroke="#8f8f8f" stroke-width="1.24" stroke-linecap="round" fill="none" stroke-opacity="1.00"/>
<path d="M500.9 55.5h0M484.3 110.5h0M492.6 107.8h0M509.2 112.3h0M509.2 119.2h0M514.4 125.4h0M492.3 125.4h0M487.8 128.5h0M505.1 129.5h0M502.7 132.3h0M500.6 134.7h0M497.5 136.4h0M500.6 140.9h0M494.7 140.6h0M485.0 141.6h0M504.4 136.4h0" stroke="#d7303f" stroke-width="1.60" stroke-linecap="round" fill="none" stroke-opacity="1.00"/>
<path d="M441.5 138.5h0M447.6 136.9h0" stroke="#2f68b4" stroke-width="1.60" stroke-linecap="round" fill="none" stroke-opacity="1.00"/>
<text x="390.00" y="161.75" font-size="3.60" text-anchor="middle" fill="#555" stroke="#555" stroke-width="0.06">0</text>
<line x1="391.40" y1="160.00" x2="392.40" y2="160.00" stroke="#888" stroke-width="0.4"/>
<text x="390.00" y="134.45" font-size="3.60" text-anchor="middle" fill="#555" stroke="#555" stroke-width="0.06">2</text>
<line x1="391.40" y1="132.70" x2="392.40" y2="132.70" stroke="#888" stroke-width="0.4"/>
<text x="390.00" y="107.15" font-size="3.60" text-anchor="middle" fill="#555" stroke="#555" stroke-width="0.06">4</text>
<line x1="391.40" y1="105.40" x2="392.40" y2="105.40" stroke="#888" stroke-width="0.4"/>
<text x="390.00" y="79.85" font-size="3.60" text-anchor="middle" fill="#555" stroke="#555" stroke-width="0.06">6</text>
<line x1="391.40" y1="78.10" x2="392.40" y2="78.10" stroke="#888" stroke-width="0.4"/>
<text x="398.60" y="170.05" font-size="3.60" text-anchor="middle" fill="#555" stroke="#555" stroke-width="0.06">−6</text>
<line x1="398.60" y1="164.90" x2="398.60" y2="165.90" stroke="#888" stroke-width="0.4"/>
<text x="430.55" y="170.05" font-size="3.60" text-anchor="middle" fill="#555" stroke="#555" stroke-width="0.06">−3</text>
<line x1="430.55" y1="164.90" x2="430.55" y2="165.90" stroke="#888" stroke-width="0.4"/>
<text x="462.50" y="170.05" font-size="3.60" text-anchor="middle" fill="#555" stroke="#555" stroke-width="0.06">0</text>
<line x1="462.50" y1="164.90" x2="462.50" y2="165.90" stroke="#888" stroke-width="0.4"/>
<text x="494.45" y="170.05" font-size="3.60" text-anchor="middle" fill="#555" stroke="#555" stroke-width="0.06">3</text>
<line x1="494.45" y1="164.90" x2="494.45" y2="165.90" stroke="#888" stroke-width="0.4"/>
<text x="526.40" y="170.05" font-size="3.60" text-anchor="middle" fill="#555" stroke="#555" stroke-width="0.06">6</text>
<line x1="526.40" y1="164.90" x2="526.40" y2="165.90" stroke="#888" stroke-width="0.4"/>
<circle cx="532.30" cy="80.20" r="0.55" fill="#d77a88"/>
<circle cx="532.30" cy="84.90" r="0.55" fill="#d77a88"/>
<circle cx="532.30" cy="96.10" r="0.55" fill="#d77a88"/>
<circle cx="532.30" cy="101.10" r="0.55" fill="#d77a88"/>
<circle cx="532.30" cy="110.40" r="0.55" fill="#d77a88"/>
<circle cx="532.30" cy="114.50" r="0.55" fill="#d77a88"/>
<circle cx="532.30" cy="120.40" r="0.55" fill="#d77a88"/>
<circle cx="532.30" cy="125.40" r="0.55" fill="#d77a88"/>
<circle cx="532.30" cy="128.80" r="0.55" fill="#d77a88"/>
<circle cx="532.30" cy="133.00" r="0.55" fill="#d77a88"/>
<circle cx="532.30" cy="138.80" r="0.55" fill="#d77a88"/>
<circle cx="532.30" cy="140.20" r="0.55" fill="#d77a88"/>
<circle cx="532.30" cy="141.30" r="0.55" fill="#d77a88"/>
<circle cx="532.30" cy="143.00" r="0.55" fill="#a0a0a0"/>
<circle cx="532.30" cy="144.50" r="0.55" fill="#a0a0a0"/>
<circle cx="532.30" cy="146.00" r="0.55" fill="#a0a0a0"/>
<circle cx="532.30" cy="147.50" r="0.55" fill="#a0a0a0"/>
<circle cx="532.30" cy="149.00" r="0.55" fill="#a0a0a0"/>
<circle cx="532.30" cy="150.50" r="0.55" fill="#a0a0a0"/>
<circle cx="532.30" cy="152.00" r="0.55" fill="#a0a0a0"/>
<circle cx="532.30" cy="153.50" r="0.55" fill="#a0a0a0"/>
<circle cx="532.30" cy="155.00" r="0.55" fill="#a0a0a0"/>
<circle cx="532.30" cy="156.50" r="0.55" fill="#a0a0a0"/>
<circle cx="532.30" cy="158.00" r="0.55" fill="#a0a0a0"/>
<circle cx="532.30" cy="159.50" r="0.55" fill="#a0a0a0"/>
<text x="463.00" y="175.29" font-size="5.10" text-anchor="middle" fill="#000" stroke="#000" stroke-width="0.06">log2 of Fold change</text>
<text x="378.20" y="107.77" font-size="6.30" text-anchor="middle" fill="#000" transform="rotate(-90 378.2 105.5)" stroke="#000" stroke-width="0.06">-log10 of pval</text>
<text x="21.50" y="187.27" font-size="16.30">D</text>
<text x="120.70" y="189.46" font-size="11.00" text-anchor="middle" fill="#1a1a1a">mRNA</text>
<rect x="165.60" y="192.00" width="84.00" height="168.70" fill="#fff" stroke="#d9d9d9" stroke-width="0.6"/>
<line x1="177.05" y1="192.30" x2="177.05" y2="360.40" stroke="#f4f4f4" stroke-width="0.35"/>
<line x1="196.15" y1="192.30" x2="196.15" y2="360.40" stroke="#f4f4f4" stroke-width="0.35"/>
<line x1="215.25" y1="192.30" x2="215.25" y2="360.40" stroke="#f4f4f4" stroke-width="0.35"/>
<line x1="234.35" y1="192.30" x2="234.35" y2="360.40" stroke="#f4f4f4" stroke-width="0.35"/>
<line x1="167.50" y1="192.30" x2="167.50" y2="360.40" stroke="#ebebeb" stroke-width="0.5"/>
<line x1="186.60" y1="192.30" x2="186.60" y2="360.40" stroke="#ebebeb" stroke-width="0.5"/>
<line x1="205.70" y1="192.30" x2="205.70" y2="360.40" stroke="#ebebeb" stroke-width="0.5"/>
<line x1="224.80" y1="192.30" x2="224.80" y2="360.40" stroke="#ebebeb" stroke-width="0.5"/>
<line x1="243.90" y1="192.30" x2="243.90" y2="360.40" stroke="#ebebeb" stroke-width="0.5"/>
<line x1="165.90" y1="199.05" x2="249.30" y2="199.05" stroke="#ebebeb" stroke-width="0.5"/>
<line x1="165.90" y1="208.15" x2="249.30" y2="208.15" stroke="#ebebeb" stroke-width="0.5"/>
<line x1="165.90" y1="217.25" x2="249.30" y2="217.25" stroke="#ebebeb" stroke-width="0.5"/>
<line x1="165.90" y1="226.35" x2="249.30" y2="226.35" stroke="#ebebeb" stroke-width="0.5"/>
<line x1="165.90" y1="235.45" x2="249.30" y2="235.45" stroke="#ebebeb" stroke-width="0.5"/>
<line x1="165.90" y1="244.55" x2="249.30" y2="244.55" stroke="#ebebeb" stroke-width="0.5"/>
<line x1="165.90" y1="253.65" x2="249.30" y2="253.65" stroke="#ebebeb" stroke-width="0.5"/>
<line x1="165.90" y1="262.75" x2="249.30" y2="262.75" stroke="#ebebeb" stroke-width="0.5"/>
<line x1="165.90" y1="271.85" x2="249.30" y2="271.85" stroke="#ebebeb" stroke-width="0.5"/>
<line x1="165.90" y1="280.95" x2="249.30" y2="280.95" stroke="#ebebeb" stroke-width="0.5"/>
<line x1="165.90" y1="290.05" x2="249.30" y2="290.05" stroke="#ebebeb" stroke-width="0.5"/>
<line x1="165.90" y1="299.15" x2="249.30" y2="299.15" stroke="#ebebeb" stroke-width="0.5"/>
<line x1="165.90" y1="308.25" x2="249.30" y2="308.25" stroke="#ebebeb" stroke-width="0.5"/>
<line x1="165.90" y1="317.35" x2="249.30" y2="317.35" stroke="#ebebeb" stroke-width="0.5"/>
<line x1="165.90" y1="326.45" x2="249.30" y2="326.45" stroke="#ebebeb" stroke-width="0.5"/>
<line x1="165.90" y1="335.55" x2="249.30" y2="335.55" stroke="#ebebeb" stroke-width="0.5"/>
<line x1="165.90" y1="344.65" x2="249.30" y2="344.65" stroke="#ebebeb" stroke-width="0.5"/>
<line x1="165.90" y1="353.75" x2="249.30" y2="353.75" stroke="#ebebeb" stroke-width="0.5"/>
<rect x="167.50" y="194.86" width="27.70" height="8.37" fill="#6b1024"/>
<text x="163.80" y="201.12" font-size="4.50" text-anchor="end" font-weight="bold" fill="#1a1a1a" stroke="#1a1a1a" stroke-width="0.08">G protein−coupled receptor signaling pathway</text>
<rect x="167.50" y="203.96" width="13.37" height="8.37" fill="#6b1024"/>
<text x="163.80" y="210.22" font-size="4.50" text-anchor="end" font-weight="bold" fill="#1a1a1a" stroke="#1a1a1a" stroke-width="0.08">cell adhesion</text>
<rect x="167.50" y="213.06" width="8.90" height="8.37" fill="#6b1024"/>
<text x="163.80" y="219.32" font-size="4.50" text-anchor="end" font-weight="bold" fill="#1a1a1a" stroke="#1a1a1a" stroke-width="0.08">immune response</text>
<rect x="167.50" y="222.16" width="8.21" height="8.37" fill="#6b1024"/>
<text x="163.80" y="228.42" font-size="4.50" text-anchor="end" font-weight="bold" fill="#1a1a1a" stroke="#1a1a1a" stroke-width="0.08">homophilic cell adhesion via plasma membrane adhesion molecules</text>
<rect x="167.50" y="231.26" width="6.23" height="8.37" fill="#6b1024"/>
<text x="163.80" y="237.52" font-size="4.50" text-anchor="end" font-weight="bold" fill="#1a1a1a" stroke="#1a1a1a" stroke-width="0.08">microtubule−based movement</text>
<rect x="167.50" y="240.36" width="5.42" height="8.37" fill="#6b1024"/>
<text x="163.80" y="246.62" font-size="4.50" text-anchor="end" font-weight="bold" fill="#1a1a1a" stroke="#1a1a1a" stroke-width="0.08">cell surface receptor signaling pathway</text>
<rect x="167.50" y="249.46" width="4.09" height="8.37" fill="#6b1024"/>
<text x="163.80" y="255.72" font-size="4.50" text-anchor="end" font-weight="bold" fill="#1a1a1a" stroke="#1a1a1a" stroke-width="0.08">extracellular matrix organization</text>
<rect x="167.50" y="258.56" width="4.09" height="8.37" fill="#6b1024"/>
<text x="163.80" y="264.82" font-size="4.50" text-anchor="end" font-weight="bold" fill="#1a1a1a" stroke="#1a1a1a" stroke-width="0.08">rRNA processing</text>
<rect x="167.50" y="267.66" width="4.09" height="8.37" fill="#6b1024"/>
<text x="163.80" y="273.92" font-size="4.50" text-anchor="end" font-weight="bold" fill="#1a1a1a" stroke="#1a1a1a" stroke-width="0.08">sodium ion transport</text>
<rect x="167.50" y="276.76" width="2.87" height="8.37" fill="#6b1024"/>
<text x="163.80" y="283.02" font-size="4.50" text-anchor="end" font-weight="bold" fill="#1a1a1a" stroke="#1a1a1a" stroke-width="0.08">chemical synaptic transmission</text>
<rect x="167.50" y="285.86" width="2.98" height="8.37" fill="#6b1024"/>
<text x="163.80" y="292.12" font-size="4.50" text-anchor="end" font-weight="bold" fill="#1a1a1a" stroke="#1a1a1a" stroke-width="0.08">regulation of signal transduction</text>
<rect x="167.50" y="294.96" width="1.53" height="8.37" fill="#6b1024"/>
<text x="163.80" y="301.22" font-size="4.50" text-anchor="end" font-weight="bold" fill="#1a1a1a" stroke="#1a1a1a" stroke-width="0.08">chromosome segregation</text>
<rect x="167.50" y="304.06" width="1.53" height="8.37" fill="#6b1024"/>
<text x="163.80" y="310.32" font-size="4.50" text-anchor="end" font-weight="bold" fill="#1a1a1a" stroke="#1a1a1a" stroke-width="0.08">vasoconstriction</text>
<rect x="167.50" y="313.16" width="1.30" height="8.37" fill="#6b1024"/>
<text x="163.80" y="319.42" font-size="4.50" text-anchor="end" font-weight="bold" fill="#1a1a1a" stroke="#1a1a1a" stroke-width="0.08">DNA replication initiation</text>
<rect x="167.50" y="322.26" width="1.30" height="8.37" fill="#6b1024"/>
<text x="163.80" y="328.52" font-size="4.50" text-anchor="end" font-weight="bold" fill="#1a1a1a" stroke="#1a1a1a" stroke-width="0.08">mitotic spindle assembly checkpoint signaling</text>
<rect x="167.50" y="331.36" width="1.15" height="8.37" fill="#6b1024"/>
<text x="163.80" y="337.62" font-size="4.50" text-anchor="end" font-weight="bold" fill="#1a1a1a" stroke="#1a1a1a" stroke-width="0.08">neutrophil chemotaxis</text>
<rect x="167.50" y="340.46" width="1.15" height="8.37" fill="#6b1024"/>
<text x="163.80" y="346.72" font-size="4.50" text-anchor="end" font-weight="bold" fill="#1a1a1a" stroke="#1a1a1a" stroke-width="0.08">neutrophil activation</text>
<rect x="167.50" y="349.56" width="1.15" height="8.37" fill="#6b1024"/>
<text x="163.80" y="355.82" font-size="4.50" text-anchor="end" font-weight="bold" fill="#1a1a1a" stroke="#1a1a1a" stroke-width="0.08">neuron migration</text>
<rect x="250.90" y="192.00" width="1.80" height="168.70" fill="#6b1024"/>
<text x="257.60" y="278.55" font-size="6.10" text-anchor="middle" font-weight="bold" fill="#1a1a1a" transform="rotate(-90 257.6 276.35)" stroke="#1a1a1a" stroke-width="0.08">Biological Process</text>
<rect x="165.60" y="363.40" width="84.00" height="86.90" fill="#fff" stroke="#d9d9d9" stroke-width="0.6"/>
<line x1="177.05" y1="363.70" x2="177.05" y2="450.00" stroke="#f4f4f4" stroke-width="0.35"/>
<line x1="196.15" y1="363.70" x2="196.15" y2="450.00" stroke="#f4f4f4" stroke-width="0.35"/>
<line x1="215.25" y1="363.70" x2="215.25" y2="450.00" stroke="#f4f4f4" stroke-width="0.35"/>
<line x1="234.35" y1="363.70" x2="234.35" y2="450.00" stroke="#f4f4f4" stroke-width="0.35"/>
<line x1="167.50" y1="363.70" x2="167.50" y2="450.00" stroke="#ebebeb" stroke-width="0.5"/>
<line x1="186.60" y1="363.70" x2="186.60" y2="450.00" stroke="#ebebeb" stroke-width="0.5"/>
<line x1="205.70" y1="363.70" x2="205.70" y2="450.00" stroke="#ebebeb" stroke-width="0.5"/>
<line x1="224.80" y1="363.70" x2="224.80" y2="450.00" stroke="#ebebeb" stroke-width="0.5"/>
<line x1="243.90" y1="363.70" x2="243.90" y2="450.00" stroke="#ebebeb" stroke-width="0.5"/>
<line x1="165.90" y1="370.15" x2="249.30" y2="370.15" stroke="#ebebeb" stroke-width="0.5"/>
<line x1="165.90" y1="379.25" x2="249.30" y2="379.25" stroke="#ebebeb" stroke-width="0.5"/>
<line x1="165.90" y1="388.35" x2="249.30" y2="388.35" stroke="#ebebeb" stroke-width="0.5"/>
<line x1="165.90" y1="397.45" x2="249.30" y2="397.45" stroke="#ebebeb" stroke-width="0.5"/>
<line x1="165.90" y1="406.55" x2="249.30" y2="406.55" stroke="#ebebeb" stroke-width="0.5"/>
<line x1="165.90" y1="415.65" x2="249.30" y2="415.65" stroke="#ebebeb" stroke-width="0.5"/>
<line x1="165.90" y1="424.75" x2="249.30" y2="424.75" stroke="#ebebeb" stroke-width="0.5"/>
<line x1="165.90" y1="433.85" x2="249.30" y2="433.85" stroke="#ebebeb" stroke-width="0.5"/>
<line x1="165.90" y1="442.95" x2="249.30" y2="442.95" stroke="#ebebeb" stroke-width="0.5"/>
<rect x="167.50" y="365.96" width="76.40" height="8.37" fill="#fbd8c5"/>
<text x="163.80" y="372.22" font-size="4.50" text-anchor="end" font-weight="bold" fill="#1a1a1a" stroke="#1a1a1a" stroke-width="0.08">integral component of membrane</text>
<rect x="167.50" y="375.06" width="70.67" height="8.37" fill="#fbd8c5"/>
<text x="163.80" y="381.32" font-size="4.50" text-anchor="end" font-weight="bold" fill="#1a1a1a" stroke="#1a1a1a" stroke-width="0.08">membrane</text>
<rect x="167.50" y="384.16" width="26.36" height="8.37" fill="#fbd8c5"/>
<text x="163.80" y="390.42" font-size="4.50" text-anchor="end" font-weight="bold" fill="#1a1a1a" stroke="#1a1a1a" stroke-width="0.08">extracellular region</text>
<rect x="167.50" y="393.26" width="15.47" height="8.37" fill="#fbd8c5"/>
<text x="163.80" y="399.52" font-size="4.50" text-anchor="end" font-weight="bold" fill="#1a1a1a" stroke="#1a1a1a" stroke-width="0.08">plasma membrane</text>
<rect x="167.50" y="402.36" width="10.31" height="8.37" fill="#fbd8c5"/>
<text x="163.80" y="408.62" font-size="4.50" text-anchor="end" font-weight="bold" fill="#1a1a1a" stroke="#1a1a1a" stroke-width="0.08">extracellular space</text>
<rect x="167.50" y="411.46" width="4.20" height="8.37" fill="#fbd8c5"/>
<text x="163.80" y="417.72" font-size="4.50" text-anchor="end" font-weight="bold" fill="#1a1a1a" stroke="#1a1a1a" stroke-width="0.08">extracellular matrix</text>
<rect x="167.50" y="420.56" width="3.82" height="8.37" fill="#fbd8c5"/>
<text x="163.80" y="426.82" font-size="4.50" text-anchor="end" font-weight="bold" fill="#1a1a1a" stroke="#1a1a1a" stroke-width="0.08">collagen−containing extracellular matrix</text>
<rect x="167.50" y="429.66" width="1.76" height="8.37" fill="#fbd8c5"/>
<text x="163.80" y="435.92" font-size="4.50" text-anchor="end" font-weight="bold" fill="#1a1a1a" stroke="#1a1a1a" stroke-width="0.08">kinetochore</text>
<rect x="167.50" y="438.76" width="1.34" height="8.37" fill="#fbd8c5"/>
<text x="163.80" y="445.02" font-size="4.50" text-anchor="end" font-weight="bold" fill="#1a1a1a" stroke="#1a1a1a" stroke-width="0.08">Ndc80 complex</text>
<rect x="250.90" y="363.40" width="1.80" height="86.90" fill="#f6c4a8"/>
<text x="257.60" y="409.05" font-size="6.10" text-anchor="middle" font-weight="bold" fill="#1a1a1a" transform="rotate(-90 257.6 406.85)" stroke="#1a1a1a" stroke-width="0.08">Cellular Component</text>
<rect x="165.60" y="452.30" width="84.00" height="159.70" fill="#fff" stroke="#d9d9d9" stroke-width="0.6"/>
<line x1="177.05" y1="452.60" x2="177.05" y2="611.70" stroke="#f4f4f4" stroke-width="0.35"/>
<line x1="196.15" y1="452.60" x2="196.15" y2="611.70" stroke="#f4f4f4" stroke-width="0.35"/>
<line x1="215.25" y1="452.60" x2="215.25" y2="611.70" stroke="#f4f4f4" stroke-width="0.35"/>
<line x1="234.35" y1="452.60" x2="234.35" y2="611.70" stroke="#f4f4f4" stroke-width="0.35"/>
<line x1="167.50" y1="452.60" x2="167.50" y2="611.70" stroke="#ebebeb" stroke-width="0.5"/>
<line x1="186.60" y1="452.60" x2="186.60" y2="611.70" stroke="#ebebeb" stroke-width="0.5"/>
<line x1="205.70" y1="452.60" x2="205.70" y2="611.70" stroke="#ebebeb" stroke-width="0.5"/>
<line x1="224.80" y1="452.60" x2="224.80" y2="611.70" stroke="#ebebeb" stroke-width="0.5"/>
<line x1="243.90" y1="452.60" x2="243.90" y2="611.70" stroke="#ebebeb" stroke-width="0.5"/>
<line x1="165.90" y1="459.55" x2="249.30" y2="459.55" stroke="#ebebeb" stroke-width="0.5"/>
<line x1="165.90" y1="468.65" x2="249.30" y2="468.65" stroke="#ebebeb" stroke-width="0.5"/>
<line x1="165.90" y1="477.75" x2="249.30" y2="477.75" stroke="#ebebeb" stroke-width="0.5"/>
<line x1="165.90" y1="486.85" x2="249.30" y2="486.85" stroke="#ebebeb" stroke-width="0.5"/>
<line x1="165.90" y1="495.95" x2="249.30" y2="495.95" stroke="#ebebeb" stroke-width="0.5"/>
<line x1="165.90" y1="505.05" x2="249.30" y2="505.05" stroke="#ebebeb" stroke-width="0.5"/>
<line x1="165.90" y1="514.15" x2="249.30" y2="514.15" stroke="#ebebeb" stroke-width="0.5"/>
<line x1="165.90" y1="523.25" x2="249.30" y2="523.25" stroke="#ebebeb" stroke-width="0.5"/>
<line x1="165.90" y1="532.35" x2="249.30" y2="532.35" stroke="#ebebeb" stroke-width="0.5"/>
<line x1="165.90" y1="541.45" x2="249.30" y2="541.45" stroke="#ebebeb" stroke-width="0.5"/>
<line x1="165.90" y1="550.55" x2="249.30" y2="550.55" stroke="#ebebeb" stroke-width="0.5"/>
<line x1="165.90" y1="559.65" x2="249.30" y2="559.65" stroke="#ebebeb" stroke-width="0.5"/>
<line x1="165.90" y1="568.75" x2="249.30" y2="568.75" stroke="#ebebeb" stroke-width="0.5"/>
<line x1="165.90" y1="577.85" x2="249.30" y2="577.85" stroke="#ebebeb" stroke-width="0.5"/>
<line x1="165.90" y1="586.95" x2="249.30" y2="586.95" stroke="#ebebeb" stroke-width="0.5"/>
<line x1="165.90" y1="596.05" x2="249.30" y2="596.05" stroke="#ebebeb" stroke-width="0.5"/>
<line x1="165.90" y1="605.15" x2="249.30" y2="605.15" stroke="#ebebeb" stroke-width="0.5"/>
<rect x="167.50" y="455.36" width="29.22" height="8.37" fill="#1b1b1b"/>
<text x="163.80" y="461.62" font-size="4.50" text-anchor="end" font-weight="bold" fill="#1a1a1a" stroke="#1a1a1a" stroke-width="0.08">calcium ion binding</text>
<rect x="167.50" y="464.46" width="8.79" height="8.37" fill="#1b1b1b"/>
<text x="163.80" y="470.72" font-size="4.50" text-anchor="end" font-weight="bold" fill="#1a1a1a" stroke="#1a1a1a" stroke-width="0.08">transmembrane signaling receptor activity</text>
<rect x="167.50" y="473.56" width="7.56" height="8.37" fill="#1b1b1b"/>
<text x="163.80" y="479.82" font-size="4.50" text-anchor="end" font-weight="bold" fill="#1a1a1a" stroke="#1a1a1a" stroke-width="0.08">iron ion binding</text>
<rect x="167.50" y="482.66" width="7.56" height="8.37" fill="#1b1b1b"/>
<text x="163.80" y="488.92" font-size="4.50" text-anchor="end" font-weight="bold" fill="#1a1a1a" stroke="#1a1a1a" stroke-width="0.08">metalloendopeptidase activity</text>
<rect x="167.50" y="491.76" width="7.56" height="8.37" fill="#1b1b1b"/>
<text x="163.80" y="498.02" font-size="4.50" text-anchor="end" font-weight="bold" fill="#1a1a1a" stroke="#1a1a1a" stroke-width="0.08">metallopeptidase activity</text>
<rect x="167.50" y="500.86" width="6.72" height="8.37" fill="#1b1b1b"/>
<text x="163.80" y="507.12" font-size="4.50" text-anchor="end" font-weight="bold" fill="#1a1a1a" stroke="#1a1a1a" stroke-width="0.08">heme binding</text>
<rect x="167.50" y="509.96" width="5.73" height="8.37" fill="#1b1b1b"/>
<text x="163.80" y="516.22" font-size="4.50" text-anchor="end" font-weight="bold" fill="#1a1a1a" stroke="#1a1a1a" stroke-width="0.08">monooxygenase activity</text>
<rect x="167.50" y="519.06" width="5.42" height="8.37" fill="#1b1b1b"/>
<text x="163.80" y="525.32" font-size="4.50" text-anchor="end" font-weight="bold" fill="#1a1a1a" stroke="#1a1a1a" stroke-width="0.08">microtubule motor activity</text>
<rect x="167.50" y="528.16" width="5.16" height="8.37" fill="#1b1b1b"/>
<text x="163.80" y="532.00" font-size="4.50" text-anchor="end" font-weight="bold" fill="#1a1a1a" stroke="#1a1a1a" stroke-width="0.08">oxidoreductase activity, acting on paired donors, with incorporation</text>
<text x="163.80" y="536.85" font-size="4.50" text-anchor="end" font-weight="bold" fill="#1a1a1a" stroke="#1a1a1a" stroke-width="0.08">or reduction of molecular oxygen</text>
<rect x="167.50" y="537.26" width="4.97" height="8.37" fill="#1b1b1b"/>
<text x="163.80" y="543.52" font-size="4.50" text-anchor="end" font-weight="bold" fill="#1a1a1a" stroke="#1a1a1a" stroke-width="0.08">serine−type endopeptidase inhibitor activity</text>
<rect x="167.50" y="546.36" width="3.44" height="8.37" fill="#1b1b1b"/>
<text x="163.80" y="552.62" font-size="4.50" text-anchor="end" font-weight="bold" fill="#1a1a1a" stroke="#1a1a1a" stroke-width="0.08">chemokine activity</text>
<rect x="167.50" y="555.46" width="2.87" height="8.37" fill="#1b1b1b"/>
<text x="163.80" y="561.72" font-size="4.50" text-anchor="end" font-weight="bold" fill="#1a1a1a" stroke="#1a1a1a" stroke-width="0.08">cytokine receptor activity</text>
<rect x="167.50" y="564.56" width="2.67" height="8.37" fill="#1b1b1b"/>
<text x="163.80" y="570.82" font-size="4.50" text-anchor="end" font-weight="bold" fill="#1a1a1a" stroke="#1a1a1a" stroke-width="0.08">phospholipase activity</text>
<rect x="167.50" y="573.66" width="2.48" height="8.37" fill="#1b1b1b"/>
<text x="163.80" y="579.92" font-size="4.50" text-anchor="end" font-weight="bold" fill="#1a1a1a" stroke="#1a1a1a" stroke-width="0.08">carbonate dehydratase activity</text>
<rect x="167.50" y="582.76" width="1.83" height="8.37" fill="#1b1b1b"/>
<text x="163.80" y="584.17" font-size="4.50" text-anchor="end" font-weight="bold" fill="#1a1a1a" stroke="#1a1a1a" stroke-width="0.08">oxidoreductase activity, acting on paired donors, with incorporation</text>
<text x="163.80" y="589.02" font-size="4.50" text-anchor="end" font-weight="bold" fill="#1a1a1a" stroke="#1a1a1a" stroke-width="0.08">or reduction of molecular oxygen, reduced flavin or flavoprotein as</text>
<text x="163.80" y="593.87" font-size="4.50" text-anchor="end" font-weight="bold" fill="#1a1a1a" stroke="#1a1a1a" stroke-width="0.08">one donor, and incorporation of one atom of oxygen</text>
<rect x="167.50" y="591.86" width="1.34" height="8.37" fill="#1b1b1b"/>
<text x="163.80" y="598.12" font-size="4.50" text-anchor="end" font-weight="bold" fill="#1a1a1a" stroke="#1a1a1a" stroke-width="0.08">interleukin−8 receptor binding</text>
<rect x="167.50" y="600.96" width="1.34" height="8.37" fill="#1b1b1b"/>
<text x="163.80" y="607.22" font-size="4.50" text-anchor="end" font-weight="bold" fill="#1a1a1a" stroke="#1a1a1a" stroke-width="0.08">superoxide−generating NADPH oxidase activator activity</text>
<rect x="250.90" y="452.30" width="1.80" height="159.70" fill="#1b1b1b"/>
<text x="257.60" y="534.35" font-size="6.10" text-anchor="middle" font-weight="bold" fill="#1a1a1a" transform="rotate(-90 257.6 532.15)" stroke="#1a1a1a" stroke-width="0.08">Molecular Function</text>
<text x="167.50" y="618.31" font-size="4.60" text-anchor="middle" font-weight="bold" fill="#1a1a1a" stroke="#1a1a1a" stroke-width="0.08">0</text>
<text x="186.60" y="618.31" font-size="4.60" text-anchor="middle" font-weight="bold" fill="#1a1a1a" stroke="#1a1a1a" stroke-width="0.08">50</text>
<text x="205.70" y="618.31" font-size="4.60" text-anchor="middle" font-weight="bold" fill="#1a1a1a" stroke="#1a1a1a" stroke-width="0.08">100</text>
<text x="224.80" y="618.31" font-size="4.60" text-anchor="middle" font-weight="bold" fill="#1a1a1a" stroke="#1a1a1a" stroke-width="0.08">150</text>
<text x="243.90" y="618.31" font-size="4.60" text-anchor="middle" font-weight="bold" fill="#1a1a1a" stroke="#1a1a1a" stroke-width="0.08">200</text>
<text x="209.20" y="628.98" font-size="7.45" text-anchor="middle" font-weight="bold" fill="#1a1a1a">Gene Number</text>
<text x="209.80" y="189.14" font-size="7.60" text-anchor="middle" font-weight="bold" fill="#1a1a1a">GO Enrichment BarPlot</text>
<text x="372.60" y="187.27" font-size="17.00">E</text>
<text x="416.00" y="188.86" font-size="11.00" text-anchor="middle" fill="#1a1a1a">lncRNA</text>
<rect x="431.20" y="194.50" width="81.00" height="63.30" fill="#fff" stroke="#e0e0e0" stroke-width="0.9"/>
<line x1="436.50" y1="194.80" x2="436.50" y2="257.50" stroke="#f3f3f3" stroke-width="0.35"/>
<line x1="444.70" y1="194.80" x2="444.70" y2="257.50" stroke="#f3f3f3" stroke-width="0.35"/>
<line x1="452.90" y1="194.80" x2="452.90" y2="257.50" stroke="#f3f3f3" stroke-width="0.35"/>
<line x1="461.10" y1="194.80" x2="461.10" y2="257.50" stroke="#f3f3f3" stroke-width="0.35"/>
<line x1="469.30" y1="194.80" x2="469.30" y2="257.50" stroke="#f3f3f3" stroke-width="0.35"/>
<line x1="477.50" y1="194.80" x2="477.50" y2="257.50" stroke="#f3f3f3" stroke-width="0.35"/>
<line x1="485.70" y1="194.80" x2="485.70" y2="257.50" stroke="#f3f3f3" stroke-width="0.35"/>
<line x1="493.90" y1="194.80" x2="493.90" y2="257.50" stroke="#f3f3f3" stroke-width="0.35"/>
<line x1="502.10" y1="194.80" x2="502.10" y2="257.50" stroke="#f3f3f3" stroke-width="0.35"/>
<line x1="510.30" y1="194.80" x2="510.30" y2="257.50" stroke="#f3f3f3" stroke-width="0.35"/>
<line x1="432.40" y1="194.80" x2="432.40" y2="257.50" stroke="#ececec" stroke-width="0.5"/>
<line x1="440.60" y1="194.80" x2="440.60" y2="257.50" stroke="#ececec" stroke-width="0.5"/>
<line x1="448.80" y1="194.80" x2="448.80" y2="257.50" stroke="#ececec" stroke-width="0.5"/>
<line x1="457.00" y1="194.80" x2="457.00" y2="257.50" stroke="#ececec" stroke-width="0.5"/>
<line x1="465.20" y1="194.80" x2="465.20" y2="257.50" stroke="#ececec" stroke-width="0.5"/>
<line x1="473.40" y1="194.80" x2="473.40" y2="257.50" stroke="#ececec" stroke-width="0.5"/>
<line x1="481.60" y1="194.80" x2="481.60" y2="257.50" stroke="#ececec" stroke-width="0.5"/>
<line x1="489.80" y1="194.80" x2="489.80" y2="257.50" stroke="#ececec" stroke-width="0.5"/>
<line x1="498.00" y1="194.80" x2="498.00" y2="257.50" stroke="#ececec" stroke-width="0.5"/>
<line x1="506.20" y1="194.80" x2="506.20" y2="257.50" stroke="#ececec" stroke-width="0.5"/>
<line x1="431.50" y1="199.65" x2="511.90" y2="199.65" stroke="#ececec" stroke-width="0.5"/>
<line x1="431.50" y1="206.37" x2="511.90" y2="206.37" stroke="#ececec" stroke-width="0.5"/>
<line x1="431.50" y1="213.09" x2="511.90" y2="213.09" stroke="#ececec" stroke-width="0.5"/>
<line x1="431.50" y1="219.81" x2="511.90" y2="219.81" stroke="#ececec" stroke-width="0.5"/>
<line x1="431.50" y1="226.53" x2="511.90" y2="226.53" stroke="#ececec" stroke-width="0.5"/>
<line x1="431.50" y1="233.25" x2="511.90" y2="233.25" stroke="#ececec" stroke-width="0.5"/>
<line x1="431.50" y1="239.97" x2="511.90" y2="239.97" stroke="#ececec" stroke-width="0.5"/>
<line x1="431.50" y1="246.69" x2="511.90" y2="246.69" stroke="#ececec" stroke-width="0.5"/>
<line x1="431.50" y1="253.41" x2="511.90" y2="253.41" stroke="#ececec" stroke-width="0.5"/>
<rect x="432.40" y="196.69" width="14.10" height="5.91" fill="#873434"/>
<text x="429.60" y="201.38" font-size="3.56" text-anchor="end" fill="#222" stroke="#222" stroke-width="0.06">protein phosphorylation</text>
<rect x="432.40" y="203.41" width="8.20" height="5.91" fill="#873434"/>
<text x="429.60" y="208.10" font-size="3.56" text-anchor="end" fill="#222" stroke="#222" stroke-width="0.06">proteolysis</text>
<rect x="432.40" y="210.13" width="7.05" height="5.91" fill="#873434"/>
<text x="429.60" y="214.82" font-size="3.56" text-anchor="end" fill="#222" stroke="#222" stroke-width="0.06">cell adhesion</text>
<rect x="432.40" y="216.85" width="2.46" height="5.91" fill="#873434"/>
<text x="429.60" y="221.54" font-size="3.56" text-anchor="end" fill="#222" stroke="#222" stroke-width="0.06">cell surface receptor signaling pathway</text>
<rect x="432.40" y="223.57" width="1.97" height="5.91" fill="#873434"/>
<text x="429.60" y="228.26" font-size="3.56" text-anchor="end" fill="#222" stroke="#222" stroke-width="0.06">microtubule−based movement</text>
<rect x="432.40" y="230.29" width="1.56" height="5.91" fill="#873434"/>
<text x="429.60" y="234.98" font-size="3.56" text-anchor="end" fill="#222" stroke="#222" stroke-width="0.06">positive regulation of GTPase activity</text>
<rect x="432.40" y="237.01" width="1.31" height="5.91" fill="#873434"/>
<text x="429.60" y="241.70" font-size="3.56" text-anchor="end" fill="#222" stroke="#222" stroke-width="0.06">exocytosis</text>
<rect x="432.40" y="243.73" width="1.07" height="5.91" fill="#873434"/>
<text x="429.60" y="248.42" font-size="3.56" text-anchor="end" fill="#222" stroke="#222" stroke-width="0.06">regulation of small GTPase mediated signal transduction</text>
<rect x="432.40" y="250.45" width="0.49" height="5.91" fill="#873434"/>
<text x="429.60" y="255.14" font-size="3.56" text-anchor="end" fill="#222" stroke="#222" stroke-width="0.06">DNA replication initiation</text>
<rect x="513.00" y="194.50" width="1.30" height="63.30" fill="#7a2a2e"/>
<text x="518.10" y="227.83" font-size="4.66" text-anchor="middle" fill="#5a5a5a" transform="rotate(-90 518.1 226.15)" stroke="#5a5a5a" stroke-width="0.06">Biological Process</text>
<rect x="431.20" y="260.70" width="81.00" height="36.90" fill="#fff" stroke="#e0e0e0" stroke-width="0.9"/>
<line x1="436.50" y1="261.00" x2="436.50" y2="297.30" stroke="#f3f3f3" stroke-width="0.35"/>
<line x1="444.70" y1="261.00" x2="444.70" y2="297.30" stroke="#f3f3f3" stroke-width="0.35"/>
<line x1="452.90" y1="261.00" x2="452.90" y2="297.30" stroke="#f3f3f3" stroke-width="0.35"/>
<line x1="461.10" y1="261.00" x2="461.10" y2="297.30" stroke="#f3f3f3" stroke-width="0.35"/>
<line x1="469.30" y1="261.00" x2="469.30" y2="297.30" stroke="#f3f3f3" stroke-width="0.35"/>
<line x1="477.50" y1="261.00" x2="477.50" y2="297.30" stroke="#f3f3f3" stroke-width="0.35"/>
<line x1="485.70" y1="261.00" x2="485.70" y2="297.30" stroke="#f3f3f3" stroke-width="0.35"/>
<line x1="493.90" y1="261.00" x2="493.90" y2="297.30" stroke="#f3f3f3" stroke-width="0.35"/>
<line x1="502.10" y1="261.00" x2="502.10" y2="297.30" stroke="#f3f3f3" stroke-width="0.35"/>
<line x1="510.30" y1="261.00" x2="510.30" y2="297.30" stroke="#f3f3f3" stroke-width="0.35"/>
<line x1="432.40" y1="261.00" x2="432.40" y2="297.30" stroke="#ececec" stroke-width="0.5"/>
<line x1="440.60" y1="261.00" x2="440.60" y2="297.30" stroke="#ececec" stroke-width="0.5"/>
<line x1="448.80" y1="261.00" x2="448.80" y2="297.30" stroke="#ececec" stroke-width="0.5"/>
<line x1="457.00" y1="261.00" x2="457.00" y2="297.30" stroke="#ececec" stroke-width="0.5"/>
<line x1="465.20" y1="261.00" x2="465.20" y2="297.30" stroke="#ececec" stroke-width="0.5"/>
<line x1="473.40" y1="261.00" x2="473.40" y2="297.30" stroke="#ececec" stroke-width="0.5"/>
<line x1="481.60" y1="261.00" x2="481.60" y2="297.30" stroke="#ececec" stroke-width="0.5"/>
<line x1="489.80" y1="261.00" x2="489.80" y2="297.30" stroke="#ececec" stroke-width="0.5"/>
<line x1="498.00" y1="261.00" x2="498.00" y2="297.30" stroke="#ececec" stroke-width="0.5"/>
<line x1="506.20" y1="261.00" x2="506.20" y2="297.30" stroke="#ececec" stroke-width="0.5"/>
<line x1="431.50" y1="265.10" x2="511.90" y2="265.10" stroke="#ececec" stroke-width="0.5"/>
<line x1="431.50" y1="272.00" x2="511.90" y2="272.00" stroke="#ececec" stroke-width="0.5"/>
<line x1="431.50" y1="278.90" x2="511.90" y2="278.90" stroke="#ececec" stroke-width="0.5"/>
<line x1="431.50" y1="285.80" x2="511.90" y2="285.80" stroke="#ececec" stroke-width="0.5"/>
<line x1="431.50" y1="292.70" x2="511.90" y2="292.70" stroke="#ececec" stroke-width="0.5"/>
<rect x="432.40" y="262.06" width="38.13" height="6.07" fill="#fbdfcf"/>
<text x="429.60" y="266.83" font-size="3.56" text-anchor="end" fill="#222" stroke="#222" stroke-width="0.06">integral component of membrane</text>
<rect x="432.40" y="268.96" width="32.23" height="6.07" fill="#fbdfcf"/>
<text x="429.60" y="273.73" font-size="3.56" text-anchor="end" fill="#222" stroke="#222" stroke-width="0.06">membrane</text>
<rect x="432.40" y="275.86" width="8.20" height="6.07" fill="#fbdfcf"/>
<text x="429.60" y="280.63" font-size="3.56" text-anchor="end" fill="#222" stroke="#222" stroke-width="0.06">plasma membrane</text>
<rect x="432.40" y="282.76" width="3.61" height="6.07" fill="#fbdfcf"/>
<text x="429.60" y="287.53" font-size="3.56" text-anchor="end" fill="#222" stroke="#222" stroke-width="0.06">extracellular space</text>
<rect x="432.40" y="289.66" width="1.23" height="6.07" fill="#fbdfcf"/>
<text x="429.60" y="294.43" font-size="3.56" text-anchor="end" fill="#222" stroke="#222" stroke-width="0.06">extracellular matrix</text>
<rect x="513.00" y="260.70" width="1.30" height="36.90" fill="#f8d8c6"/>
<text x="518.10" y="280.83" font-size="4.66" text-anchor="middle" fill="#5a5a5a" transform="rotate(-90 518.1 279.15)" stroke="#5a5a5a" stroke-width="0.06">Cellular Component</text>
<rect x="431.20" y="300.20" width="81.00" height="69.80" fill="#fff" stroke="#e0e0e0" stroke-width="0.9"/>
<line x1="436.50" y1="300.50" x2="436.50" y2="369.70" stroke="#f3f3f3" stroke-width="0.35"/>
<line x1="444.70" y1="300.50" x2="444.70" y2="369.70" stroke="#f3f3f3" stroke-width="0.35"/>
<line x1="452.90" y1="300.50" x2="452.90" y2="369.70" stroke="#f3f3f3" stroke-width="0.35"/>
<line x1="461.10" y1="300.50" x2="461.10" y2="369.70" stroke="#f3f3f3" stroke-width="0.35"/>
<line x1="469.30" y1="300.50" x2="469.30" y2="369.70" stroke="#f3f3f3" stroke-width="0.35"/>
<line x1="477.50" y1="300.50" x2="477.50" y2="369.70" stroke="#f3f3f3" stroke-width="0.35"/>
<line x1="485.70" y1="300.50" x2="485.70" y2="369.70" stroke="#f3f3f3" stroke-width="0.35"/>
<line x1="493.90" y1="300.50" x2="493.90" y2="369.70" stroke="#f3f3f3" stroke-width="0.35"/>
<line x1="502.10" y1="300.50" x2="502.10" y2="369.70" stroke="#f3f3f3" stroke-width="0.35"/>
<line x1="510.30" y1="300.50" x2="510.30" y2="369.70" stroke="#f3f3f3" stroke-width="0.35"/>
<line x1="432.40" y1="300.50" x2="432.40" y2="369.70" stroke="#ececec" stroke-width="0.5"/>
<line x1="440.60" y1="300.50" x2="440.60" y2="369.70" stroke="#ececec" stroke-width="0.5"/>
<line x1="448.80" y1="300.50" x2="448.80" y2="369.70" stroke="#ececec" stroke-width="0.5"/>
<line x1="457.00" y1="300.50" x2="457.00" y2="369.70" stroke="#ececec" stroke-width="0.5"/>
<line x1="465.20" y1="300.50" x2="465.20" y2="369.70" stroke="#ececec" stroke-width="0.5"/>
<line x1="473.40" y1="300.50" x2="473.40" y2="369.70" stroke="#ececec" stroke-width="0.5"/>
<line x1="481.60" y1="300.50" x2="481.60" y2="369.70" stroke="#ececec" stroke-width="0.5"/>
<line x1="489.80" y1="300.50" x2="489.80" y2="369.70" stroke="#ececec" stroke-width="0.5"/>
<line x1="498.00" y1="300.50" x2="498.00" y2="369.70" stroke="#ececec" stroke-width="0.5"/>
<line x1="506.20" y1="300.50" x2="506.20" y2="369.70" stroke="#ececec" stroke-width="0.5"/>
<line x1="431.50" y1="304.35" x2="511.90" y2="304.35" stroke="#ececec" stroke-width="0.5"/>
<line x1="431.50" y1="311.11" x2="511.90" y2="311.11" stroke="#ececec" stroke-width="0.5"/>
<line x1="431.50" y1="317.87" x2="511.90" y2="317.87" stroke="#ececec" stroke-width="0.5"/>
<line x1="431.50" y1="324.63" x2="511.90" y2="324.63" stroke="#ececec" stroke-width="0.5"/>
<line x1="431.50" y1="331.39" x2="511.90" y2="331.39" stroke="#ececec" stroke-width="0.5"/>
<line x1="431.50" y1="338.15" x2="511.90" y2="338.15" stroke="#ececec" stroke-width="0.5"/>
<line x1="431.50" y1="344.91" x2="511.90" y2="344.91" stroke="#ececec" stroke-width="0.5"/>
<line x1="431.50" y1="351.67" x2="511.90" y2="351.67" stroke="#ececec" stroke-width="0.5"/>
<line x1="431.50" y1="358.43" x2="511.90" y2="358.43" stroke="#ececec" stroke-width="0.5"/>
<line x1="431.50" y1="365.19" x2="511.90" y2="365.19" stroke="#ececec" stroke-width="0.5"/>
<rect x="432.40" y="301.38" width="72.98" height="5.95" fill="#383131"/>
<text x="429.60" y="306.08" font-size="3.56" text-anchor="end" fill="#222" stroke="#222" stroke-width="0.06">protein binding</text>
<rect x="432.40" y="308.14" width="28.29" height="5.95" fill="#383131"/>
<text x="429.60" y="312.84" font-size="3.56" text-anchor="end" fill="#222" stroke="#222" stroke-width="0.06">ATP binding</text>
<rect x="432.40" y="314.90" width="13.78" height="5.95" fill="#383131"/>
<text x="429.60" y="319.60" font-size="3.56" text-anchor="end" fill="#222" stroke="#222" stroke-width="0.06">protein kinase activity</text>
<rect x="432.40" y="321.66" width="12.63" height="5.95" fill="#383131"/>
<text x="429.60" y="326.36" font-size="3.56" text-anchor="end" fill="#222" stroke="#222" stroke-width="0.06">calcium ion binding</text>
<rect x="432.40" y="328.42" width="3.44" height="5.95" fill="#383131"/>
<text x="429.60" y="333.12" font-size="3.56" text-anchor="end" fill="#222" stroke="#222" stroke-width="0.06">guanyl−nucleotide exchange factor activity</text>
<rect x="432.40" y="335.18" width="3.44" height="5.95" fill="#383131"/>
<text x="429.60" y="339.88" font-size="3.56" text-anchor="end" fill="#222" stroke="#222" stroke-width="0.06">transmembrane signaling receptor activity</text>
<rect x="432.40" y="341.94" width="3.53" height="5.95" fill="#383131"/>
<text x="429.60" y="346.64" font-size="3.56" text-anchor="end" fill="#222" stroke="#222" stroke-width="0.06">actin binding</text>
<rect x="432.40" y="348.70" width="1.72" height="5.95" fill="#383131"/>
<text x="429.60" y="353.40" font-size="3.56" text-anchor="end" fill="#222" stroke="#222" stroke-width="0.06">microtubule motor activity</text>
<rect x="432.40" y="355.46" width="0.82" height="5.95" fill="#383131"/>
<text x="429.60" y="360.16" font-size="3.56" text-anchor="end" fill="#222" stroke="#222" stroke-width="0.06">symporter activity</text>
<rect x="432.40" y="362.22" width="0.49" height="5.95" fill="#383131"/>
<text x="429.60" y="366.92" font-size="3.56" text-anchor="end" fill="#222" stroke="#222" stroke-width="0.06">carbonate dehydratase activity</text>
<rect x="513.00" y="300.20" width="1.30" height="69.80" fill="#383131"/>
<text x="518.10" y="336.78" font-size="4.66" text-anchor="middle" fill="#5a5a5a" transform="rotate(-90 518.1 335.1)" stroke="#5a5a5a" stroke-width="0.06">Molecular Function</text>
<rect x="430.70" y="257.80" width="82.00" height="2.90" fill="#e7e7e7"/>
<rect x="430.70" y="297.60" width="82.00" height="2.60" fill="#e7e7e7"/>
<text x="432.40" y="375.64" font-size="3.30" text-anchor="middle" fill="#222" stroke="#222" stroke-width="0.06">0</text>
<text x="440.60" y="375.64" font-size="3.30" text-anchor="middle" fill="#222" stroke="#222" stroke-width="0.06">100</text>
<text x="448.80" y="375.64" font-size="3.30" text-anchor="middle" fill="#222" stroke="#222" stroke-width="0.06">200</text>
<text x="457.00" y="375.64" font-size="3.30" text-anchor="middle" fill="#222" stroke="#222" stroke-width="0.06">300</text>
<text x="465.20" y="375.64" font-size="3.30" text-anchor="middle" fill="#222" stroke="#222" stroke-width="0.06">400</text>
<text x="473.40" y="375.64" font-size="3.30" text-anchor="middle" fill="#222" stroke="#222" stroke-width="0.06">500</text>
<text x="481.60" y="375.64" font-size="3.30" text-anchor="middle" fill="#222" stroke="#222" stroke-width="0.06">600</text>
<text x="489.80" y="375.64" font-size="3.30" text-anchor="middle" fill="#222" stroke="#222" stroke-width="0.06">700</text>
<text x="498.00" y="375.64" font-size="3.30" text-anchor="middle" fill="#222" stroke="#222" stroke-width="0.06">800</text>
<text x="506.20" y="375.64" font-size="3.30" text-anchor="middle" fill="#222" stroke="#222" stroke-width="0.06">900</text>
<text x="472.40" y="382.73" font-size="5.50" text-anchor="middle" font-weight="bold" fill="#1a1a1a" stroke="#1a1a1a" stroke-width="0.08">Gene Number</text>
<text x="472.60" y="192.33" font-size="5.50" text-anchor="middle" font-weight="bold" fill="#1a1a1a" stroke="#1a1a1a" stroke-width="0.08">GO Enrichment BarPlot</text>
<text x="372.60" y="393.83" font-size="16.80">F</text>
<text x="416.10" y="396.96" font-size="11.00" text-anchor="middle" fill="#1a1a1a">circRNA</text>
<rect x="470.40" y="400.00" width="39.40" height="98.20" fill="#fff" stroke="#d9d9d9" stroke-width="0.6"/>
<line x1="480.73" y1="400.30" x2="480.73" y2="497.90" stroke="#f4f4f4" stroke-width="0.35"/>
<line x1="499.18" y1="400.30" x2="499.18" y2="497.90" stroke="#f4f4f4" stroke-width="0.35"/>
<line x1="471.50" y1="400.30" x2="471.50" y2="497.90" stroke="#ebebeb" stroke-width="0.5"/>
<line x1="489.95" y1="400.30" x2="489.95" y2="497.90" stroke="#ebebeb" stroke-width="0.5"/>
<line x1="508.40" y1="400.30" x2="508.40" y2="497.90" stroke="#ebebeb" stroke-width="0.5"/>
<line x1="470.70" y1="405.50" x2="509.50" y2="405.50" stroke="#ebebeb" stroke-width="0.5"/>
<line x1="470.70" y1="412.70" x2="509.50" y2="412.70" stroke="#ebebeb" stroke-width="0.5"/>
<line x1="470.70" y1="419.90" x2="509.50" y2="419.90" stroke="#ebebeb" stroke-width="0.5"/>
<line x1="470.70" y1="427.10" x2="509.50" y2="427.10" stroke="#ebebeb" stroke-width="0.5"/>
<line x1="470.70" y1="434.30" x2="509.50" y2="434.30" stroke="#ebebeb" stroke-width="0.5"/>
<line x1="470.70" y1="441.50" x2="509.50" y2="441.50" stroke="#ebebeb" stroke-width="0.5"/>
<line x1="470.70" y1="448.70" x2="509.50" y2="448.70" stroke="#ebebeb" stroke-width="0.5"/>
<line x1="470.70" y1="455.90" x2="509.50" y2="455.90" stroke="#ebebeb" stroke-width="0.5"/>
<line x1="470.70" y1="463.10" x2="509.50" y2="463.10" stroke="#ebebeb" stroke-width="0.5"/>
<line x1="470.70" y1="470.30" x2="509.50" y2="470.30" stroke="#ebebeb" stroke-width="0.5"/>
<line x1="470.70" y1="477.50" x2="509.50" y2="477.50" stroke="#ebebeb" stroke-width="0.5"/>
<line x1="470.70" y1="484.70" x2="509.50" y2="484.70" stroke="#ebebeb" stroke-width="0.5"/>
<line x1="470.70" y1="491.90" x2="509.50" y2="491.90" stroke="#ebebeb" stroke-width="0.5"/>
<rect x="471.50" y="402.26" width="18.45" height="6.48" fill="#6b1024" stroke="#ffffff" stroke-width="0.35"/>
<text x="469.40" y="406.70" font-size="4.04" text-anchor="end" font-weight="bold" fill="#1a1a1a" stroke="#1a1a1a" stroke-width="0.08">nucleosome assembly</text>
<rect x="471.50" y="409.46" width="18.45" height="6.48" fill="#6b1024" stroke="#ffffff" stroke-width="0.35"/>
<text x="469.40" y="413.90" font-size="4.04" text-anchor="end" font-weight="bold" fill="#1a1a1a" stroke="#1a1a1a" stroke-width="0.08">protein import into nucleus</text>
<rect x="471.50" y="416.66" width="18.45" height="6.48" fill="#6b1024" stroke="#ffffff" stroke-width="0.35"/>
<text x="469.40" y="421.10" font-size="4.04" text-anchor="end" font-weight="bold" fill="#1a1a1a" stroke="#1a1a1a" stroke-width="0.08">histone acetylation</text>
<rect x="471.50" y="423.86" width="18.45" height="6.48" fill="#6b1024" stroke="#ffffff" stroke-width="0.35"/>
<text x="469.40" y="428.30" font-size="4.04" text-anchor="end" font-weight="bold" fill="#1a1a1a" stroke="#1a1a1a" stroke-width="0.08">regulation of pH</text>
<rect x="471.50" y="431.06" width="18.45" height="6.48" fill="#6b1024" stroke="#ffffff" stroke-width="0.35"/>
<text x="469.40" y="435.50" font-size="4.04" text-anchor="end" font-weight="bold" fill="#1a1a1a" stroke="#1a1a1a" stroke-width="0.08">methylation</text>
<rect x="471.50" y="438.26" width="18.45" height="6.48" fill="#6b1024" stroke="#ffffff" stroke-width="0.35"/>
<text x="469.40" y="442.70" font-size="4.04" text-anchor="end" font-weight="bold" fill="#1a1a1a" stroke="#1a1a1a" stroke-width="0.08">tricarboxylic acid cycle</text>
<rect x="471.50" y="445.46" width="18.45" height="6.48" fill="#6b1024" stroke="#ffffff" stroke-width="0.35"/>
<text x="469.40" y="449.90" font-size="4.04" text-anchor="end" font-weight="bold" fill="#1a1a1a" stroke="#1a1a1a" stroke-width="0.08">ceramide biosynthetic process</text>
<rect x="471.50" y="452.66" width="18.45" height="6.48" fill="#6b1024" stroke="#ffffff" stroke-width="0.35"/>
<text x="469.40" y="457.10" font-size="4.04" text-anchor="end" font-weight="bold" fill="#1a1a1a" stroke="#1a1a1a" stroke-width="0.08">negative regulation of insulin receptor signaling pathway</text>
<rect x="471.50" y="459.86" width="18.45" height="6.48" fill="#6b1024" stroke="#ffffff" stroke-width="0.35"/>
<text x="469.40" y="464.30" font-size="4.04" text-anchor="end" font-weight="bold" fill="#1a1a1a" stroke="#1a1a1a" stroke-width="0.08">lipid transport</text>
<rect x="471.50" y="467.06" width="18.45" height="6.48" fill="#6b1024" stroke="#ffffff" stroke-width="0.35"/>
<text x="469.40" y="471.50" font-size="4.04" text-anchor="end" font-weight="bold" fill="#1a1a1a" stroke="#1a1a1a" stroke-width="0.08">endoplasmic reticulum−plasma membrane tethering</text>
<rect x="471.50" y="474.26" width="18.45" height="6.48" fill="#6b1024" stroke="#ffffff" stroke-width="0.35"/>
<text x="469.40" y="478.70" font-size="4.04" text-anchor="end" font-weight="bold" fill="#1a1a1a" stroke="#1a1a1a" stroke-width="0.08">protein desumoylation</text>
<rect x="471.50" y="481.46" width="18.45" height="6.48" fill="#6b1024" stroke="#ffffff" stroke-width="0.35"/>
<text x="469.40" y="485.90" font-size="4.04" text-anchor="end" font-weight="bold" fill="#1a1a1a" stroke="#1a1a1a" stroke-width="0.08">L−methionine salvage from methylthioadenosine</text>
<rect x="471.50" y="488.66" width="18.45" height="6.48" fill="#6b1024" stroke="#ffffff" stroke-width="0.35"/>
<text x="469.40" y="493.10" font-size="4.04" text-anchor="end" font-weight="bold" fill="#1a1a1a" stroke="#1a1a1a" stroke-width="0.08">protein methylation</text>
<rect x="511.00" y="400.00" width="1.30" height="98.20" fill="#6b1024"/>
<text x="515.90" y="450.63" font-size="4.25" text-anchor="middle" font-weight="bold" fill="#1a1a1a" transform="rotate(-90 515.9 449.1)" stroke="#1a1a1a" stroke-width="0.08">Biological Process</text>
<rect x="470.40" y="499.40" width="39.40" height="18.90" fill="#fff" stroke="#d9d9d9" stroke-width="0.6"/>
<line x1="480.73" y1="499.70" x2="480.73" y2="518.00" stroke="#f4f4f4" stroke-width="0.35"/>
<line x1="499.18" y1="499.70" x2="499.18" y2="518.00" stroke="#f4f4f4" stroke-width="0.35"/>
<line x1="471.50" y1="499.70" x2="471.50" y2="518.00" stroke="#ebebeb" stroke-width="0.5"/>
<line x1="489.95" y1="499.70" x2="489.95" y2="518.00" stroke="#ebebeb" stroke-width="0.5"/>
<line x1="508.40" y1="499.70" x2="508.40" y2="518.00" stroke="#ebebeb" stroke-width="0.5"/>
<line x1="470.70" y1="505.30" x2="509.50" y2="505.30" stroke="#ebebeb" stroke-width="0.5"/>
<line x1="470.70" y1="512.60" x2="509.50" y2="512.60" stroke="#ebebeb" stroke-width="0.5"/>
<rect x="471.50" y="502.01" width="18.45" height="6.57" fill="#fbd8c5" stroke="#ffffff" stroke-width="0.35"/>
<text x="469.40" y="506.50" font-size="4.04" text-anchor="end" font-weight="bold" fill="#1a1a1a" stroke="#1a1a1a" stroke-width="0.08">nucleosome</text>
<rect x="471.50" y="509.31" width="18.45" height="6.57" fill="#fbd8c5" stroke="#ffffff" stroke-width="0.35"/>
<text x="469.40" y="513.80" font-size="4.04" text-anchor="end" font-weight="bold" fill="#1a1a1a" stroke="#1a1a1a" stroke-width="0.08">dense body</text>
<rect x="511.00" y="499.40" width="1.30" height="18.90" fill="#f6c4a8"/>
<text x="515.90" y="510.38" font-size="4.25" text-anchor="middle" font-weight="bold" fill="#1a1a1a" transform="rotate(-90 515.9 508.85)" stroke="#1a1a1a" stroke-width="0.08">Cellular Component</text>
<rect x="470.40" y="520.20" width="39.40" height="97.80" fill="#fff" stroke="#d9d9d9" stroke-width="0.6"/>
<line x1="480.73" y1="520.50" x2="480.73" y2="617.70" stroke="#f4f4f4" stroke-width="0.35"/>
<line x1="499.18" y1="520.50" x2="499.18" y2="617.70" stroke="#f4f4f4" stroke-width="0.35"/>
<line x1="471.50" y1="520.50" x2="471.50" y2="617.70" stroke="#ebebeb" stroke-width="0.5"/>
<line x1="489.95" y1="520.50" x2="489.95" y2="617.70" stroke="#ebebeb" stroke-width="0.5"/>
<line x1="508.40" y1="520.50" x2="508.40" y2="617.70" stroke="#ebebeb" stroke-width="0.5"/>
<line x1="470.70" y1="525.80" x2="509.50" y2="525.80" stroke="#ebebeb" stroke-width="0.5"/>
<line x1="470.70" y1="533.02" x2="509.50" y2="533.02" stroke="#ebebeb" stroke-width="0.5"/>
<line x1="470.70" y1="540.24" x2="509.50" y2="540.24" stroke="#ebebeb" stroke-width="0.5"/>
<line x1="470.70" y1="547.46" x2="509.50" y2="547.46" stroke="#ebebeb" stroke-width="0.5"/>
<line x1="470.70" y1="554.68" x2="509.50" y2="554.68" stroke="#ebebeb" stroke-width="0.5"/>
<line x1="470.70" y1="561.90" x2="509.50" y2="561.90" stroke="#ebebeb" stroke-width="0.5"/>
<line x1="470.70" y1="569.12" x2="509.50" y2="569.12" stroke="#ebebeb" stroke-width="0.5"/>
<line x1="470.70" y1="576.34" x2="509.50" y2="576.34" stroke="#ebebeb" stroke-width="0.5"/>
<line x1="470.70" y1="583.56" x2="509.50" y2="583.56" stroke="#ebebeb" stroke-width="0.5"/>
<line x1="470.70" y1="590.78" x2="509.50" y2="590.78" stroke="#ebebeb" stroke-width="0.5"/>
<line x1="470.70" y1="598.00" x2="509.50" y2="598.00" stroke="#ebebeb" stroke-width="0.5"/>
<line x1="470.70" y1="605.22" x2="509.50" y2="605.22" stroke="#ebebeb" stroke-width="0.5"/>
<line x1="470.70" y1="612.44" x2="509.50" y2="612.44" stroke="#ebebeb" stroke-width="0.5"/>
<rect x="471.50" y="522.55" width="36.90" height="6.50" fill="#1b1b1b" stroke="#ffffff" stroke-width="0.35"/>
<text x="469.40" y="527.00" font-size="4.04" text-anchor="end" font-weight="bold" fill="#1a1a1a" stroke="#1a1a1a" stroke-width="0.08">magnesium ion binding</text>
<rect x="471.50" y="529.77" width="18.45" height="6.50" fill="#1b1b1b" stroke="#ffffff" stroke-width="0.35"/>
<text x="469.40" y="534.22" font-size="4.04" text-anchor="end" font-weight="bold" fill="#1a1a1a" stroke="#1a1a1a" stroke-width="0.08">solute:proton antiporter activity</text>
<rect x="471.50" y="536.99" width="18.45" height="6.50" fill="#1b1b1b" stroke="#ffffff" stroke-width="0.35"/>
<text x="469.40" y="541.44" font-size="4.04" text-anchor="end" font-weight="bold" fill="#1a1a1a" stroke="#1a1a1a" stroke-width="0.08">sodium:proton antiporter activity</text>
<rect x="471.50" y="544.21" width="18.45" height="6.50" fill="#1b1b1b" stroke="#ffffff" stroke-width="0.35"/>
<text x="469.40" y="548.66" font-size="4.04" text-anchor="end" font-weight="bold" fill="#1a1a1a" stroke="#1a1a1a" stroke-width="0.08">histone acetyltransferase activity</text>
<rect x="471.50" y="551.43" width="18.45" height="6.50" fill="#1b1b1b" stroke="#ffffff" stroke-width="0.35"/>
<text x="469.40" y="555.88" font-size="4.04" text-anchor="end" font-weight="bold" fill="#1a1a1a" stroke="#1a1a1a" stroke-width="0.08">actin monomer binding</text>
<rect x="471.50" y="558.65" width="18.45" height="6.50" fill="#1b1b1b" stroke="#ffffff" stroke-width="0.35"/>
<text x="469.40" y="563.10" font-size="4.04" text-anchor="end" font-weight="bold" fill="#1a1a1a" stroke="#1a1a1a" stroke-width="0.08">sphingosine N−acyltransferase activity</text>
<rect x="471.50" y="565.87" width="18.45" height="6.50" fill="#1b1b1b" stroke="#ffffff" stroke-width="0.35"/>
<text x="469.40" y="570.32" font-size="4.04" text-anchor="end" font-weight="bold" fill="#1a1a1a" stroke="#1a1a1a" stroke-width="0.08">protein−L−isoaspartate (D−aspartate) O−methyltransferase activity</text>
<rect x="471.50" y="573.09" width="18.45" height="6.50" fill="#1b1b1b" stroke="#ffffff" stroke-width="0.35"/>
<text x="469.40" y="577.54" font-size="4.04" text-anchor="end" font-weight="bold" fill="#1a1a1a" stroke="#1a1a1a" stroke-width="0.08">insulin receptor binding</text>
<rect x="471.50" y="580.31" width="18.45" height="6.50" fill="#1b1b1b" stroke="#ffffff" stroke-width="0.35"/>
<text x="469.40" y="584.76" font-size="4.04" text-anchor="end" font-weight="bold" fill="#1a1a1a" stroke="#1a1a1a" stroke-width="0.08">phosphatidylinositol−3,4−bisphosphate 4−phosphatase activity</text>
<rect x="471.50" y="587.53" width="18.45" height="6.50" fill="#1b1b1b" stroke="#ffffff" stroke-width="0.35"/>
<text x="469.40" y="591.98" font-size="4.04" text-anchor="end" font-weight="bold" fill="#1a1a1a" stroke="#1a1a1a" stroke-width="0.08">ubiquitin−like protein peptidase activity</text>
<rect x="471.50" y="594.75" width="18.45" height="6.50" fill="#1b1b1b" stroke="#ffffff" stroke-width="0.35"/>
<text x="469.40" y="599.20" font-size="4.04" text-anchor="end" font-weight="bold" fill="#1a1a1a" stroke="#1a1a1a" stroke-width="0.08">lysophosphatidic acid receptor activity</text>
<rect x="471.50" y="601.97" width="18.45" height="6.50" fill="#1b1b1b" stroke="#ffffff" stroke-width="0.35"/>
<text x="469.40" y="606.42" font-size="4.04" text-anchor="end" font-weight="bold" fill="#1a1a1a" stroke="#1a1a1a" stroke-width="0.08">isocitrate dehydrogenase (NAD+) activity</text>
<rect x="471.50" y="609.19" width="18.45" height="6.50" fill="#1b1b1b" stroke="#ffffff" stroke-width="0.35"/>
<text x="469.40" y="613.64" font-size="4.04" text-anchor="end" font-weight="bold" fill="#1a1a1a" stroke="#1a1a1a" stroke-width="0.08">acireductone synthase activity</text>
<rect x="511.00" y="520.20" width="1.30" height="97.80" fill="#1b1b1b"/>
<text x="515.90" y="570.63" font-size="4.25" text-anchor="middle" font-weight="bold" fill="#1a1a1a" transform="rotate(-90 515.9 569.1)" stroke="#1a1a1a" stroke-width="0.08">Molecular Function</text>
<text x="471.50" y="622.89" font-size="4.00" text-anchor="middle" font-weight="bold" fill="#1a1a1a" stroke="#1a1a1a" stroke-width="0.08">0</text>
<text x="489.95" y="622.89" font-size="4.00" text-anchor="middle" font-weight="bold" fill="#1a1a1a" stroke="#1a1a1a" stroke-width="0.08">1</text>
<text x="508.40" y="622.89" font-size="4.00" text-anchor="middle" font-weight="bold" fill="#1a1a1a" stroke="#1a1a1a" stroke-width="0.08">2</text>
<text x="491.80" y="632.05" font-size="5.55" text-anchor="middle" font-weight="bold" fill="#1a1a1a" stroke="#1a1a1a" stroke-width="0.08">Gene Number</text>
<text x="491.80" y="397.63" font-size="5.50" text-anchor="middle" font-weight="bold" fill="#1a1a1a" stroke="#1a1a1a" stroke-width="0.08">GO Enrichment BarPlot</text>
<text x="64.40" y="649.33" font-size="16.80">G</text>
<rect x="108.20" y="649.30" width="58.30" height="101.80" fill="#fff" stroke="#d6d6d6" stroke-width="0.6"/>
<line x1="108.97" y1="649.60" x2="108.97" y2="750.80" stroke="#f6f6f6" stroke-width="0.4"/>
<line x1="124.23" y1="649.60" x2="124.23" y2="750.80" stroke="#f6f6f6" stroke-width="0.4"/>
<line x1="139.49" y1="649.60" x2="139.49" y2="750.80" stroke="#f6f6f6" stroke-width="0.4"/>
<line x1="154.75" y1="649.60" x2="154.75" y2="750.80" stroke="#f6f6f6" stroke-width="0.4"/>
<line x1="116.60" y1="649.60" x2="116.60" y2="750.80" stroke="#efefef" stroke-width="0.5"/>
<line x1="131.86" y1="649.60" x2="131.86" y2="750.80" stroke="#efefef" stroke-width="0.5"/>
<line x1="147.12" y1="649.60" x2="147.12" y2="750.80" stroke="#efefef" stroke-width="0.5"/>
<line x1="162.38" y1="649.60" x2="162.38" y2="750.80" stroke="#efefef" stroke-width="0.5"/>
<line x1="108.50" y1="660.40" x2="166.20" y2="660.40" stroke="#efefef" stroke-width="0.5"/>
<line x1="108.50" y1="669.34" x2="166.20" y2="669.34" stroke="#efefef" stroke-width="0.5"/>
<line x1="108.50" y1="678.28" x2="166.20" y2="678.28" stroke="#efefef" stroke-width="0.5"/>
<line x1="108.50" y1="687.22" x2="166.20" y2="687.22" stroke="#efefef" stroke-width="0.5"/>
<line x1="108.50" y1="696.16" x2="166.20" y2="696.16" stroke="#efefef" stroke-width="0.5"/>
<line x1="108.50" y1="705.10" x2="166.20" y2="705.10" stroke="#efefef" stroke-width="0.5"/>
<line x1="108.50" y1="714.04" x2="166.20" y2="714.04" stroke="#efefef" stroke-width="0.5"/>
<line x1="108.50" y1="722.98" x2="166.20" y2="722.98" stroke="#efefef" stroke-width="0.5"/>
<line x1="108.50" y1="731.92" x2="166.20" y2="731.92" stroke="#efefef" stroke-width="0.5"/>
<line x1="108.50" y1="740.86" x2="166.20" y2="740.86" stroke="#efefef" stroke-width="0.5"/>
<text x="106.60" y="662.61" font-size="4.90" text-anchor="end" font-weight="bold" fill="#1a1a1a" stroke="#1a1a1a" stroke-width="0.08">Arginine biosynthesis</text>
<circle cx="133.61" cy="660.40" r="0.85" fill="#4a4a4a"/>
<text x="106.60" y="671.55" font-size="4.90" text-anchor="end" font-weight="bold" fill="#1a1a1a" stroke="#1a1a1a" stroke-width="0.08">Cytokine−cytokine receptor interaction</text>
<circle cx="118.51" cy="669.34" r="1.70" fill="#f1c4ae"/>
<text x="106.60" y="680.49" font-size="4.90" text-anchor="end" font-weight="bold" fill="#1a1a1a" stroke="#1a1a1a" stroke-width="0.08">Neuroactive ligand−receptor interaction</text>
<circle cx="116.60" cy="678.28" r="2.60" fill="#f5d5c5"/>
<text x="106.60" y="689.43" font-size="4.90" text-anchor="end" font-weight="bold" fill="#1a1a1a" stroke="#1a1a1a" stroke-width="0.08">Cardiac muscle contraction</text>
<circle cx="126.52" cy="687.22" r="1.00" fill="#f0c1ad"/>
<text x="106.60" y="698.37" font-size="4.90" text-anchor="end" font-weight="bold" fill="#1a1a1a" stroke="#1a1a1a" stroke-width="0.08">Drug metabolism − cytochrome P450</text>
<circle cx="133.39" cy="696.16" r="1.05" fill="#e2806e"/>
<text x="106.60" y="707.31" font-size="4.90" text-anchor="end" font-weight="bold" fill="#1a1a1a" stroke="#1a1a1a" stroke-width="0.08">Arginine and proline metabolism</text>
<circle cx="133.39" cy="705.10" r="1.05" fill="#e2806e"/>
<text x="106.60" y="716.25" font-size="4.90" text-anchor="end" font-weight="bold" fill="#1a1a1a" stroke="#1a1a1a" stroke-width="0.08">Cell cycle</text>
<circle cx="121.94" cy="714.04" r="1.75" fill="#d24c44"/>
<text x="106.60" y="725.19" font-size="4.90" text-anchor="end" font-weight="bold" fill="#1a1a1a" stroke="#1a1a1a" stroke-width="0.08">Nitrogen metabolism</text>
<circle cx="158.56" cy="722.98" r="0.80" fill="#cf9f98"/>
<text x="106.60" y="734.13" font-size="4.90" text-anchor="end" font-weight="bold" fill="#1a1a1a" stroke="#1a1a1a" stroke-width="0.08">PPAR signaling pathway</text>
<circle cx="128.04" cy="731.92" r="1.30" fill="#d65a4c"/>
<text x="106.60" y="743.07" font-size="4.90" text-anchor="end" font-weight="bold" fill="#1a1a1a" stroke="#1a1a1a" stroke-width="0.08">Ferroptosis</text>
<circle cx="134.91" cy="740.86" r="1.30" fill="#c9352e"/>
<text x="116.60" y="756.81" font-size="4.90" text-anchor="middle" font-weight="bold" fill="#333" stroke="#333" stroke-width="0.08">0.2</text>
<text x="131.86" y="756.81" font-size="4.90" text-anchor="middle" font-weight="bold" fill="#333" stroke="#333" stroke-width="0.08">0.4</text>
<text x="147.12" y="756.81" font-size="4.90" text-anchor="middle" font-weight="bold" fill="#333" stroke="#333" stroke-width="0.08">0.6</text>
<text x="162.38" y="756.81" font-size="4.90" text-anchor="middle" font-weight="bold" fill="#333" stroke="#333" stroke-width="0.08">0.8</text>
<text x="137.35" y="766.42" font-size="6.30" text-anchor="middle" font-weight="bold" fill="#1a1a1a" stroke="#1a1a1a" stroke-width="0.08">Rich Factor</text>
<text x="137.00" y="644.72" font-size="5.20" text-anchor="middle" font-weight="bold" fill="#1a1a1a" stroke="#1a1a1a" stroke-width="0.08">mRNA</text>
<text x="169.30" y="677.42" font-size="3.80" text-anchor="start" font-weight="bold" fill="#1a1a1a" stroke="#1a1a1a" stroke-width="0.08">Gene Number</text>
<circle cx="172.20" cy="682.70" r="0.60" fill="#1a1a1a"/>
<text x="177.30" y="684.48" font-size="3.70" text-anchor="start" font-weight="bold" fill="#1a1a1a" stroke="#1a1a1a" stroke-width="0.08">5</text>
<circle cx="172.20" cy="686.40" r="0.95" fill="#1a1a1a"/>
<text x="177.30" y="688.18" font-size="3.70" text-anchor="start" font-weight="bold" fill="#1a1a1a" stroke="#1a1a1a" stroke-width="0.08">10</text>
<circle cx="172.20" cy="690.50" r="1.35" fill="#1a1a1a"/>
<text x="177.30" y="692.28" font-size="3.70" text-anchor="start" font-weight="bold" fill="#1a1a1a" stroke="#1a1a1a" stroke-width="0.08">15</text>
<circle cx="172.20" cy="696.30" r="1.90" fill="#1a1a1a"/>
<text x="177.30" y="698.08" font-size="3.70" text-anchor="start" font-weight="bold" fill="#1a1a1a" stroke="#1a1a1a" stroke-width="0.08">20</text>
<text x="169.50" y="706.92" font-size="3.80" text-anchor="start" font-weight="bold" fill="#1a1a1a" stroke="#1a1a1a" stroke-width="0.08">p Value</text>
<defs><linearGradient id="gG" x1="0" y1="0" x2="0" y2="1"><stop offset="0" stop-color="#4e4848"/><stop offset="0.45" stop-color="#e9dedb"/><stop offset="0.56" stop-color="#f5d9cd"/><stop offset="1" stop-color="#cf2a2a"/></linearGradient></defs>
<rect x="169.70" y="710.90" width="2.80" height="16.40" fill="url(#gG)"/>
<text x="174.50" y="712.68" font-size="3.70" text-anchor="start" font-weight="bold" fill="#1a1a1a" stroke="#1a1a1a" stroke-width="0.08">0.0071</text>
<line x1="169.70" y1="710.90" x2="170.40" y2="710.90" stroke="#fff" stroke-width="0.3"/>
<line x1="171.80" y1="710.90" x2="172.50" y2="710.90" stroke="#fff" stroke-width="0.3"/>
<text x="174.50" y="720.88" font-size="3.70" text-anchor="start" font-weight="bold" fill="#1a1a1a" stroke="#1a1a1a" stroke-width="0.08">0.0051</text>
<line x1="169.70" y1="719.10" x2="170.40" y2="719.10" stroke="#fff" stroke-width="0.3"/>
<line x1="171.80" y1="719.10" x2="172.50" y2="719.10" stroke="#fff" stroke-width="0.3"/>
<text x="174.50" y="729.08" font-size="3.70" text-anchor="start" font-weight="bold" fill="#1a1a1a" stroke="#1a1a1a" stroke-width="0.08">0.0030</text>
<line x1="169.70" y1="727.30" x2="170.40" y2="727.30" stroke="#fff" stroke-width="0.3"/>
<line x1="171.80" y1="727.30" x2="172.50" y2="727.30" stroke="#fff" stroke-width="0.3"/>
<text x="217.80" y="649.61" font-size="16.50">H</text>
<rect x="274.20" y="649.40" width="65.80" height="101.20" fill="#fff" stroke="#d6d6d6" stroke-width="0.6"/>
<line x1="274.59" y1="649.70" x2="274.59" y2="750.30" stroke="#f6f6f6" stroke-width="0.4"/>
<line x1="287.21" y1="649.70" x2="287.21" y2="750.30" stroke="#f6f6f6" stroke-width="0.4"/>
<line x1="299.83" y1="649.70" x2="299.83" y2="750.30" stroke="#f6f6f6" stroke-width="0.4"/>
<line x1="312.45" y1="649.70" x2="312.45" y2="750.30" stroke="#f6f6f6" stroke-width="0.4"/>
<line x1="325.07" y1="649.70" x2="325.07" y2="750.30" stroke="#f6f6f6" stroke-width="0.4"/>
<line x1="337.69" y1="649.70" x2="337.69" y2="750.30" stroke="#f6f6f6" stroke-width="0.4"/>
<line x1="280.90" y1="649.70" x2="280.90" y2="750.30" stroke="#efefef" stroke-width="0.5"/>
<line x1="293.52" y1="649.70" x2="293.52" y2="750.30" stroke="#efefef" stroke-width="0.5"/>
<line x1="306.14" y1="649.70" x2="306.14" y2="750.30" stroke="#efefef" stroke-width="0.5"/>
<line x1="318.76" y1="649.70" x2="318.76" y2="750.30" stroke="#efefef" stroke-width="0.5"/>
<line x1="331.38" y1="649.70" x2="331.38" y2="750.30" stroke="#efefef" stroke-width="0.5"/>
<line x1="274.50" y1="660.00" x2="339.70" y2="660.00" stroke="#efefef" stroke-width="0.5"/>
<line x1="274.50" y1="668.94" x2="339.70" y2="668.94" stroke="#efefef" stroke-width="0.5"/>
<line x1="274.50" y1="677.88" x2="339.70" y2="677.88" stroke="#efefef" stroke-width="0.5"/>
<line x1="274.50" y1="686.82" x2="339.70" y2="686.82" stroke="#efefef" stroke-width="0.5"/>
<line x1="274.50" y1="695.76" x2="339.70" y2="695.76" stroke="#efefef" stroke-width="0.5"/>
<line x1="274.50" y1="704.70" x2="339.70" y2="704.70" stroke="#efefef" stroke-width="0.5"/>
<line x1="274.50" y1="713.64" x2="339.70" y2="713.64" stroke="#efefef" stroke-width="0.5"/>
<line x1="274.50" y1="722.58" x2="339.70" y2="722.58" stroke="#efefef" stroke-width="0.5"/>
<line x1="274.50" y1="731.52" x2="339.70" y2="731.52" stroke="#efefef" stroke-width="0.5"/>
<line x1="274.50" y1="740.46" x2="339.70" y2="740.46" stroke="#efefef" stroke-width="0.5"/>
<text x="273.60" y="662.21" font-size="4.90" text-anchor="end" font-weight="bold" fill="#1a1a1a" stroke="#1a1a1a" stroke-width="0.08">Fanconi anemia pathway</text>
<circle cx="299.20" cy="660.00" r="1.05" fill="#303030"/>
<text x="273.60" y="671.15" font-size="4.90" text-anchor="end" font-weight="bold" fill="#1a1a1a" stroke="#1a1a1a" stroke-width="0.08">Endocytosis</text>
<circle cx="284.06" cy="668.94" r="2.60" fill="#8a7b78"/>
<text x="273.60" y="680.09" font-size="4.90" text-anchor="end" font-weight="bold" fill="#1a1a1a" stroke="#1a1a1a" stroke-width="0.08">Fatty acid degradation</text>
<circle cx="314.97" cy="677.88" r="0.80" fill="#8c8c8c"/>
<text x="273.60" y="689.03" font-size="4.90" text-anchor="end" font-weight="bold" fill="#1a1a1a" stroke="#1a1a1a" stroke-width="0.08">DNA replication</text>
<circle cx="331.38" cy="686.82" r="0.60" fill="#b0aaaa"/>
<text x="273.60" y="697.97" font-size="4.90" text-anchor="end" font-weight="bold" fill="#1a1a1a" stroke="#1a1a1a" stroke-width="0.08">Mismatch repair</text>
<circle cx="331.38" cy="695.76" r="0.60" fill="#b0aaaa"/>
<text x="273.60" y="706.91" font-size="4.90" text-anchor="end" font-weight="bold" fill="#1a1a1a" stroke="#1a1a1a" stroke-width="0.08">Cell adhesion molecules</text>
<circle cx="294.78" cy="704.70" r="1.60" fill="#f6d6c6"/>
<text x="273.60" y="715.85" font-size="4.90" text-anchor="end" font-weight="bold" fill="#1a1a1a" stroke="#1a1a1a" stroke-width="0.08">Oocyte meiosis</text>
<circle cx="292.26" cy="713.64" r="1.90" fill="#f3c9b6"/>
<text x="273.60" y="724.79" font-size="4.90" text-anchor="end" font-weight="bold" fill="#1a1a1a" stroke="#1a1a1a" stroke-width="0.08">Glycerolipid metabolism</text>
<circle cx="307.40" cy="722.58" r="1.30" fill="#e9a08c"/>
<text x="273.60" y="733.73" font-size="4.90" text-anchor="end" font-weight="bold" fill="#1a1a1a" stroke="#1a1a1a" stroke-width="0.08">Cardiac muscle contraction</text>
<circle cx="318.76" cy="731.52" r="1.05" fill="#e58a7a"/>
<text x="273.60" y="742.67" font-size="4.90" text-anchor="end" font-weight="bold" fill="#1a1a1a" stroke="#1a1a1a" stroke-width="0.08">Ferroptosis</text>
<circle cx="323.18" cy="740.46" r="1.40" fill="#bd302a"/>
<text x="280.90" y="757.11" font-size="4.90" text-anchor="middle" font-weight="bold" fill="#333" stroke="#333" stroke-width="0.08">0.6</text>
<text x="293.52" y="757.11" font-size="4.90" text-anchor="middle" font-weight="bold" fill="#333" stroke="#333" stroke-width="0.08">0.7</text>
<text x="306.14" y="757.11" font-size="4.90" text-anchor="middle" font-weight="bold" fill="#333" stroke="#333" stroke-width="0.08">0.8</text>
<text x="318.76" y="757.11" font-size="4.90" text-anchor="middle" font-weight="bold" fill="#333" stroke="#333" stroke-width="0.08">0.9</text>
<text x="331.38" y="757.11" font-size="4.90" text-anchor="middle" font-weight="bold" fill="#333" stroke="#333" stroke-width="0.08">1.0</text>
<text x="307.10" y="766.52" font-size="6.30" text-anchor="middle" font-weight="bold" fill="#1a1a1a" stroke="#1a1a1a" stroke-width="0.08">Rich Factor</text>
<text x="307.50" y="645.02" font-size="5.20" text-anchor="middle" font-weight="bold" fill="#1a1a1a" stroke="#1a1a1a" stroke-width="0.08">lncRNA</text>
<text x="343.60" y="680.02" font-size="3.80" text-anchor="start" font-weight="bold" fill="#1a1a1a" stroke="#1a1a1a" stroke-width="0.08">Gene Number</text>
<circle cx="345.60" cy="685.50" r="0.80" fill="#1a1a1a"/>
<text x="350.30" y="687.28" font-size="3.70" text-anchor="start" font-weight="bold" fill="#1a1a1a" stroke="#1a1a1a" stroke-width="0.08">10</text>
<circle cx="345.60" cy="689.50" r="1.25" fill="#1a1a1a"/>
<text x="350.30" y="691.28" font-size="3.70" text-anchor="start" font-weight="bold" fill="#1a1a1a" stroke="#1a1a1a" stroke-width="0.08">20</text>
<circle cx="345.60" cy="693.60" r="1.80" fill="#1a1a1a"/>
<text x="350.30" y="695.38" font-size="3.70" text-anchor="start" font-weight="bold" fill="#1a1a1a" stroke="#1a1a1a" stroke-width="0.08">30</text>
<text x="343.60" y="704.52" font-size="3.80" text-anchor="start" font-weight="bold" fill="#1a1a1a" stroke="#1a1a1a" stroke-width="0.08">p Value</text>
<defs><linearGradient id="gH" x1="0" y1="0" x2="0" y2="1"><stop offset="0" stop-color="#4e4848"/><stop offset="0.45" stop-color="#e9dedb"/><stop offset="0.56" stop-color="#f5d9cd"/><stop offset="1" stop-color="#cf2a2a"/></linearGradient></defs>
<rect x="343.80" y="708.60" width="2.80" height="15.90" fill="url(#gH)"/>
<text x="348.60" y="710.38" font-size="3.70" text-anchor="start" font-weight="bold" fill="#1a1a1a" stroke="#1a1a1a" stroke-width="0.08">0.0501</text>
<line x1="343.80" y1="708.60" x2="344.50" y2="708.60" stroke="#fff" stroke-width="0.3"/>
<line x1="345.90" y1="708.60" x2="346.60" y2="708.60" stroke="#fff" stroke-width="0.3"/>
<text x="348.60" y="718.33" font-size="3.70" text-anchor="start" font-weight="bold" fill="#1a1a1a" stroke="#1a1a1a" stroke-width="0.08">0.0252</text>
<line x1="343.80" y1="716.55" x2="344.50" y2="716.55" stroke="#fff" stroke-width="0.3"/>
<line x1="345.90" y1="716.55" x2="346.60" y2="716.55" stroke="#fff" stroke-width="0.3"/>
<text x="348.60" y="726.28" font-size="3.70" text-anchor="start" font-weight="bold" fill="#1a1a1a" stroke="#1a1a1a" stroke-width="0.08">0.0004</text>
<line x1="343.80" y1="724.50" x2="344.50" y2="724.50" stroke="#fff" stroke-width="0.3"/>
<line x1="345.90" y1="724.50" x2="346.60" y2="724.50" stroke="#fff" stroke-width="0.3"/>
<text x="399.6" y="649.6" font-size="16.5">I</text>
<rect x="478.40" y="649.30" width="36.20" height="101.60" fill="#fff" stroke="#d6d6d6" stroke-width="0.6"/>
<line x1="486.67" y1="649.60" x2="486.67" y2="750.60" stroke="#f6f6f6" stroke-width="0.4"/>
<line x1="498.00" y1="649.60" x2="498.00" y2="750.60" stroke="#f6f6f6" stroke-width="0.4"/>
<line x1="509.33" y1="649.60" x2="509.33" y2="750.60" stroke="#f6f6f6" stroke-width="0.4"/>
<line x1="481.00" y1="649.60" x2="481.00" y2="750.60" stroke="#efefef" stroke-width="0.5"/>
<line x1="492.33" y1="649.60" x2="492.33" y2="750.60" stroke="#efefef" stroke-width="0.5"/>
<line x1="503.66" y1="649.60" x2="503.66" y2="750.60" stroke="#efefef" stroke-width="0.5"/>
<line x1="515.00" y1="649.60" x2="515.00" y2="750.60" stroke="#efefef" stroke-width="0.5"/>
<line x1="478.70" y1="660.00" x2="514.30" y2="660.00" stroke="#efefef" stroke-width="0.5"/>
<line x1="478.70" y1="668.94" x2="514.30" y2="668.94" stroke="#efefef" stroke-width="0.5"/>
<line x1="478.70" y1="677.88" x2="514.30" y2="677.88" stroke="#efefef" stroke-width="0.5"/>
<line x1="478.70" y1="686.82" x2="514.30" y2="686.82" stroke="#efefef" stroke-width="0.5"/>
<line x1="478.70" y1="695.76" x2="514.30" y2="695.76" stroke="#efefef" stroke-width="0.5"/>
<line x1="478.70" y1="704.70" x2="514.30" y2="704.70" stroke="#efefef" stroke-width="0.5"/>
<line x1="478.70" y1="713.64" x2="514.30" y2="713.64" stroke="#efefef" stroke-width="0.5"/>
<line x1="478.70" y1="722.58" x2="514.30" y2="722.58" stroke="#efefef" stroke-width="0.5"/>
<line x1="478.70" y1="731.52" x2="514.30" y2="731.52" stroke="#efefef" stroke-width="0.5"/>
<line x1="478.70" y1="740.46" x2="514.30" y2="740.46" stroke="#efefef" stroke-width="0.5"/>
<text x="477.20" y="662.21" font-size="4.90" text-anchor="end" font-weight="bold" fill="#1a1a1a" stroke="#1a1a1a" stroke-width="0.08">Tight junction</text>
<circle cx="482.98" cy="660.00" r="0.70" fill="#3c3c3c"/>
<text x="477.20" y="671.15" font-size="4.90" text-anchor="end" font-weight="bold" fill="#1a1a1a" stroke="#1a1a1a" stroke-width="0.08">Adherens junction</text>
<circle cx="487.23" cy="668.94" r="0.70" fill="#c0b4b0"/>
<text x="477.20" y="680.09" font-size="4.90" text-anchor="end" font-weight="bold" fill="#1a1a1a" stroke="#1a1a1a" stroke-width="0.08">Apoptosis</text>
<circle cx="487.23" cy="677.88" r="0.70" fill="#cdbcb4"/>
<text x="477.20" y="689.03" font-size="4.90" text-anchor="end" font-weight="bold" fill="#1a1a1a" stroke="#1a1a1a" stroke-width="0.08">Gap junction</text>
<circle cx="488.65" cy="686.82" r="0.70" fill="#e0d0c8"/>
<text x="477.20" y="697.97" font-size="4.90" text-anchor="end" font-weight="bold" fill="#1a1a1a" stroke="#1a1a1a" stroke-width="0.08">Neuroactive ligand−receptor interaction</text>
<circle cx="490.49" cy="695.76" r="0.70" fill="#e6d6ce"/>
<text x="477.20" y="706.91" font-size="4.90" text-anchor="end" font-weight="bold" fill="#1a1a1a" stroke="#1a1a1a" stroke-width="0.08">Phagosome</text>
<circle cx="492.62" cy="704.70" r="0.70" fill="#eadad2"/>
<text x="477.20" y="715.85" font-size="4.90" text-anchor="end" font-weight="bold" fill="#1a1a1a" stroke="#1a1a1a" stroke-width="0.08">Influenza A</text>
<circle cx="498.14" cy="713.64" r="0.70" fill="#f2e8e4"/>
<text x="477.20" y="724.79" font-size="4.90" text-anchor="end" font-weight="bold" fill="#1a1a1a" stroke="#1a1a1a" stroke-width="0.08">Cysteine and methionine metabolism</text>
<circle cx="509.19" cy="722.58" r="0.80" fill="#e9a08e"/>
<text x="477.20" y="733.73" font-size="4.90" text-anchor="end" font-weight="bold" fill="#1a1a1a" stroke="#1a1a1a" stroke-width="0.08">Sphingolipid metabolism</text>
<circle cx="509.19" cy="731.52" r="0.80" fill="#e8aa92"/>
<text x="477.20" y="742.67" font-size="4.90" text-anchor="end" font-weight="bold" fill="#1a1a1a" stroke="#1a1a1a" stroke-width="0.08">Regulation of actin cytoskeleton</text>
<circle cx="490.63" cy="740.46" r="2.80" fill="#c9463e"/>
<text x="481.00" y="757.21" font-size="4.90" text-anchor="middle" font-weight="bold" fill="#333" stroke="#333" stroke-width="0.08">0.04</text>
<text x="492.33" y="757.21" font-size="4.90" text-anchor="middle" font-weight="bold" fill="#333" stroke="#333" stroke-width="0.08">0.08</text>
<text x="503.66" y="757.21" font-size="4.90" text-anchor="middle" font-weight="bold" fill="#333" stroke="#333" stroke-width="0.08">0.12</text>
<text x="515.00" y="757.21" font-size="4.90" text-anchor="middle" font-weight="bold" fill="#333" stroke="#333" stroke-width="0.08">0.16</text>
<text x="496.50" y="766.42" font-size="6.30" text-anchor="middle" font-weight="bold" fill="#1a1a1a" stroke="#1a1a1a" stroke-width="0.08">Rich Factor</text>
<text x="496.50" y="644.72" font-size="5.20" text-anchor="middle" font-weight="bold" fill="#1a1a1a" stroke="#1a1a1a" stroke-width="0.08">circRNA</text>
<text x="518.00" y="675.02" font-size="3.80" text-anchor="start" font-weight="bold" fill="#1a1a1a" stroke="#1a1a1a" stroke-width="0.08">Gene Number</text>
<circle cx="521.00" cy="680.50" r="0.55" fill="#1a1a1a"/>
<text x="526.40" y="682.28" font-size="3.70" text-anchor="start" font-weight="bold" fill="#1a1a1a" stroke="#1a1a1a" stroke-width="0.08">1.00</text>
<circle cx="521.00" cy="684.10" r="0.80" fill="#1a1a1a"/>
<text x="526.40" y="685.88" font-size="3.70" text-anchor="start" font-weight="bold" fill="#1a1a1a" stroke="#1a1a1a" stroke-width="0.08">1.25</text>
<circle cx="521.00" cy="688.00" r="1.05" fill="#1a1a1a"/>
<text x="526.40" y="689.78" font-size="3.70" text-anchor="start" font-weight="bold" fill="#1a1a1a" stroke="#1a1a1a" stroke-width="0.08">1.50</text>
<circle cx="521.00" cy="692.50" r="1.40" fill="#1a1a1a"/>
<text x="526.40" y="694.28" font-size="3.70" text-anchor="start" font-weight="bold" fill="#1a1a1a" stroke="#1a1a1a" stroke-width="0.08">1.75</text>
<circle cx="521.00" cy="698.60" r="1.80" fill="#1a1a1a"/>
<text x="526.40" y="700.38" font-size="3.70" text-anchor="start" font-weight="bold" fill="#1a1a1a" stroke="#1a1a1a" stroke-width="0.08">2.00</text>
<text x="518.00" y="709.82" font-size="3.80" text-anchor="start" font-weight="bold" fill="#1a1a1a" stroke="#1a1a1a" stroke-width="0.08">p Value</text>
<defs><linearGradient id="gI" x1="0" y1="0" x2="0" y2="1"><stop offset="0" stop-color="#4e4848"/><stop offset="0.45" stop-color="#e9dedb"/><stop offset="0.56" stop-color="#f5d9cd"/><stop offset="1" stop-color="#cf2a2a"/></linearGradient></defs>
<rect x="518.20" y="713.40" width="2.80" height="16.60" fill="url(#gI)"/>
<text x="523.00" y="715.18" font-size="3.70" text-anchor="start" font-weight="bold" fill="#1a1a1a" stroke="#1a1a1a" stroke-width="0.08">0.1685</text>
<line x1="518.20" y1="713.40" x2="518.90" y2="713.40" stroke="#fff" stroke-width="0.3"/>
<line x1="520.30" y1="713.40" x2="521.00" y2="713.40" stroke="#fff" stroke-width="0.3"/>
<text x="523.00" y="723.48" font-size="3.70" text-anchor="start" font-weight="bold" fill="#1a1a1a" stroke="#1a1a1a" stroke-width="0.08">0.0944</text>
<line x1="518.20" y1="721.70" x2="518.90" y2="721.70" stroke="#fff" stroke-width="0.3"/>
<line x1="520.30" y1="721.70" x2="521.00" y2="721.70" stroke="#fff" stroke-width="0.3"/>
<text x="523.00" y="731.78" font-size="3.70" text-anchor="start" font-weight="bold" fill="#1a1a1a" stroke="#1a1a1a" stroke-width="0.08">0.0202</text>
<line x1="518.20" y1="730.00" x2="518.90" y2="730.00" stroke="#fff" stroke-width="0.3"/>
<line x1="520.30" y1="730.00" x2="521.00" y2="730.00" stroke="#fff" stroke-width="0.3"/>
</svg>
</body></html>
